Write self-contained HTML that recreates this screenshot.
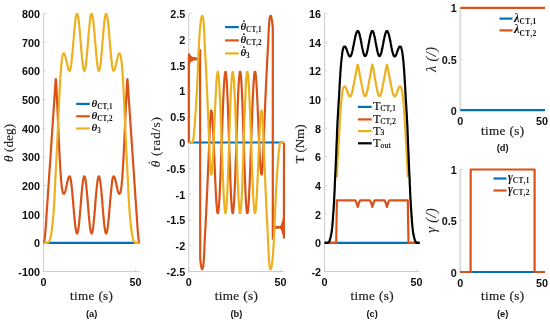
<!DOCTYPE html>
<html lang="en"><head><meta charset="utf-8"><title>Figure</title>
<style>html,body{margin:0;padding:0;background:#fff}svg{display:block}</style></head>
<body>
<svg width="550" height="323" viewBox="0 0 550 323">
<rect width="550" height="323" fill="#fff"/>
<path d="M43.55 13.50V271.50H139.70" fill="none" stroke="#cccccc" stroke-width="1.00"/>
<path d="M43.55 271.50h2.6M43.55 242.83h2.6M43.55 214.17h2.6M43.55 185.50h2.6M43.55 156.83h2.6M43.55 128.17h2.6M43.55 99.50h2.6M43.55 70.83h2.6M43.55 42.17h2.6M43.55 13.50h2.6M43.55 271.50v-2.4M135.60 271.50v-2.4" fill="none" stroke="#cccccc" stroke-width="0.8"/>
<text x="39.95" y="276.00" text-anchor="end" font-family="Liberation Sans, Arial, sans-serif" font-weight="bold" font-size="10.8" fill="#111">-100</text>
<text x="39.95" y="247.33" text-anchor="end" font-family="Liberation Sans, Arial, sans-serif" font-weight="bold" font-size="10.8" fill="#111">0</text>
<text x="39.95" y="218.67" text-anchor="end" font-family="Liberation Sans, Arial, sans-serif" font-weight="bold" font-size="10.8" fill="#111">100</text>
<text x="39.95" y="190.00" text-anchor="end" font-family="Liberation Sans, Arial, sans-serif" font-weight="bold" font-size="10.8" fill="#111">200</text>
<text x="39.95" y="161.33" text-anchor="end" font-family="Liberation Sans, Arial, sans-serif" font-weight="bold" font-size="10.8" fill="#111">300</text>
<text x="39.95" y="132.67" text-anchor="end" font-family="Liberation Sans, Arial, sans-serif" font-weight="bold" font-size="10.8" fill="#111">400</text>
<text x="39.95" y="104.00" text-anchor="end" font-family="Liberation Sans, Arial, sans-serif" font-weight="bold" font-size="10.8" fill="#111">500</text>
<text x="39.95" y="75.33" text-anchor="end" font-family="Liberation Sans, Arial, sans-serif" font-weight="bold" font-size="10.8" fill="#111">600</text>
<text x="39.95" y="46.67" text-anchor="end" font-family="Liberation Sans, Arial, sans-serif" font-weight="bold" font-size="10.8" fill="#111">700</text>
<text x="39.95" y="18.00" text-anchor="end" font-family="Liberation Sans, Arial, sans-serif" font-weight="bold" font-size="10.8" fill="#111">800</text>
<text x="43.55" y="286.40" text-anchor="middle" font-family="Liberation Sans, Arial, sans-serif" font-weight="bold" font-size="10.8" fill="#111">0</text>
<text x="135.60" y="286.40" text-anchor="middle" font-family="Liberation Sans, Arial, sans-serif" font-weight="bold" font-size="10.8" fill="#111">50</text>
<text x="91.62" y="300.30" text-anchor="middle" font-family="Liberation Serif, Times New Roman, serif" font-size="13.2" fill="#222" stroke="#222" stroke-width="0.2" letter-spacing="0.35">time (s)</text>
<text x="91.62" y="316.90" text-anchor="middle" font-family="Liberation Sans, Arial, sans-serif" font-size="9.3" font-weight="bold" fill="#111">(a)</text>
<g transform="translate(13.00 142.90) rotate(-90)"><text text-anchor="middle" font-family="Liberation Serif, Times New Roman, serif" font-size="13.2" fill="#222" stroke="#222" stroke-width="0.12" letter-spacing="0.08"><tspan font-style="italic">θ</tspan> (deg)</text></g>
<polyline fill="none" stroke="#0072BD" stroke-width="2.20" stroke-linejoin="round" stroke-linecap="butt" points="43.5,242.8 139.7,242.8"/>
<polyline fill="none" stroke="#D95319" stroke-width="2.20" stroke-linejoin="round" stroke-linecap="butt" points="43.5,242.8 43.7,242.8 43.8,242.6 44.0,242.3 44.1,241.8 44.2,241.2 44.4,240.5 44.5,239.7 44.7,238.7 44.8,237.7 44.9,236.4 45.1,235.1 45.2,233.6 45.3,232.0 45.5,230.3 45.6,228.5 45.8,226.5 45.9,224.5 46.0,222.4 46.2,220.4 46.3,218.3 46.4,216.3 46.6,214.2 46.7,212.2 46.9,210.2 47.0,208.1 47.1,206.1 47.3,204.0 47.4,202.0 47.6,199.9 47.7,197.9 47.8,195.9 48.0,193.8 48.1,191.8 48.2,189.7 48.4,187.7 48.5,185.6 48.7,183.6 48.8,181.6 48.9,179.5 49.1,177.5 49.2,175.4 49.3,173.4 49.5,171.3 49.6,169.3 49.8,167.3 49.9,165.2 50.0,163.2 50.2,161.1 50.3,159.1 50.5,157.0 50.6,155.0 50.7,153.0 50.9,150.9 51.0,148.9 51.1,146.8 51.3,144.8 51.4,142.8 51.6,140.7 51.7,138.7 51.8,136.6 52.0,134.6 52.1,132.5 52.2,130.5 52.4,128.5 52.5,126.4 52.7,124.4 52.8,122.3 52.9,120.3 53.1,118.2 53.2,116.2 53.4,114.2 53.5,112.1 53.6,110.1 53.8,108.0 53.9,106.0 54.0,103.9 54.2,101.9 54.3,99.9 54.5,97.8 54.6,95.8 54.7,93.7 54.9,91.7 55.0,89.6 55.1,87.6 55.3,85.6 55.4,83.5 55.6,81.5 55.7,79.8 55.8,79.0 56.0,80.2 56.1,82.4 56.3,85.0 56.4,87.6 56.5,90.2 56.7,92.8 56.8,95.6 56.9,98.3 57.1,101.2 57.2,104.0 57.4,106.9 57.5,109.8 57.6,112.8 57.8,115.7 57.9,118.7 58.0,121.7 58.2,124.8 58.3,127.9 58.5,131.1 58.6,134.4 58.7,137.6 58.9,140.8 59.0,143.9 59.2,146.9 59.3,149.7 59.4,152.4 59.6,155.0 59.7,157.7 59.8,160.2 60.0,162.8 60.1,165.2 60.3,167.6 60.4,169.8 60.5,172.0 60.7,174.0 60.8,175.9 60.9,177.6 61.1,179.3 61.2,180.9 61.4,182.5 61.5,183.9 61.6,185.3 61.8,186.6 61.9,187.7 62.1,188.7 62.2,189.5 62.3,190.2 62.5,190.9 62.6,191.5 62.7,192.1 62.9,192.5 63.0,192.9 63.2,193.1 63.3,193.3 63.4,193.5 63.6,193.7 63.7,193.8 63.8,193.8 64.0,193.8 64.1,193.7 64.3,193.5 64.4,193.4 64.5,193.1 64.7,192.9 64.8,192.5 65.0,192.2 65.1,191.8 65.2,191.3 65.4,190.9 65.5,190.3 65.6,189.8 65.8,189.3 65.9,188.7 66.1,188.1 66.2,187.4 66.3,186.8 66.5,186.2 66.6,185.5 66.7,184.9 66.9,184.2 67.0,183.6 67.2,182.9 67.3,182.3 67.4,181.7 67.6,181.1 67.7,180.5 67.9,180.0 68.0,179.4 68.1,179.0 68.3,178.5 68.4,178.1 68.5,177.7 68.7,177.4 68.8,177.1 69.0,176.9 69.1,176.7 69.2,176.5 69.4,176.4 69.5,176.3 69.6,176.3 69.8,176.4 69.9,176.6 70.1,176.9 70.2,177.2 70.3,177.7 70.5,178.2 70.6,178.9 70.8,179.6 70.9,180.4 71.0,181.3 71.2,182.3 71.3,183.4 71.4,184.5 71.6,185.7 71.7,186.9 71.9,188.3 72.0,189.6 72.1,191.1 72.3,192.5 72.4,194.1 72.5,195.6 72.7,197.2 72.8,198.8 73.0,200.4 73.1,202.1 73.2,203.7 73.4,205.4 73.5,207.1 73.7,208.7 73.8,210.3 73.9,212.0 74.1,213.6 74.2,215.1 74.3,216.7 74.5,218.1 74.6,219.6 74.8,221.0 74.9,222.3 75.0,223.6 75.2,224.8 75.3,226.0 75.4,227.1 75.6,228.1 75.7,229.0 75.9,229.8 76.0,230.6 76.1,231.3 76.3,231.8 76.4,232.3 76.5,232.7 76.7,233.0 76.8,233.2 77.0,233.4 77.1,233.4 77.2,233.3 77.4,233.1 77.5,232.8 77.7,232.4 77.8,231.9 77.9,231.4 78.1,230.7 78.2,229.9 78.3,229.1 78.5,228.1 78.6,227.1 78.8,226.0 78.9,224.8 79.0,223.6 79.2,222.3 79.3,220.9 79.4,219.4 79.6,218.0 79.7,216.4 79.9,214.8 80.0,213.2 80.1,211.6 80.3,209.9 80.4,208.2 80.6,206.6 80.7,204.8 80.8,203.1 81.0,201.5 81.1,199.8 81.2,198.1 81.4,196.5 81.5,194.9 81.7,193.3 81.8,191.7 81.9,190.3 82.1,188.8 82.2,187.4 82.3,186.1 82.5,184.9 82.6,183.7 82.8,182.6 82.9,181.6 83.0,180.6 83.2,179.8 83.3,179.0 83.5,178.3 83.6,177.8 83.7,177.3 83.9,176.9 84.0,176.6 84.1,176.4 84.3,176.3 84.4,176.3 84.6,176.5 84.7,176.7 84.8,177.0 85.0,177.4 85.1,177.9 85.2,178.6 85.4,179.3 85.5,180.1 85.7,180.9 85.8,181.9 85.9,183.0 86.1,184.1 86.2,185.3 86.4,186.6 86.5,187.9 86.6,189.3 86.8,190.8 86.9,192.3 87.0,193.8 87.2,195.4 87.3,197.0 87.5,198.7 87.6,200.3 87.7,202.0 87.9,203.7 88.0,205.4 88.1,207.1 88.3,208.8 88.4,210.5 88.6,212.1 88.7,213.8 88.8,215.4 89.0,216.9 89.1,218.5 89.3,219.9 89.4,221.3 89.5,222.7 89.7,224.0 89.8,225.2 89.9,226.4 90.1,227.5 90.2,228.4 90.4,229.4 90.5,230.2 90.6,230.9 90.8,231.6 90.9,232.1 91.0,232.6 91.2,232.9 91.3,233.2 91.5,233.3 91.6,233.4 91.7,233.3 91.9,233.2 92.0,232.9 92.2,232.6 92.3,232.1 92.4,231.6 92.6,230.9 92.7,230.2 92.8,229.4 93.0,228.4 93.1,227.5 93.3,226.4 93.4,225.2 93.5,224.0 93.7,222.7 93.8,221.3 93.9,219.9 94.1,218.5 94.2,216.9 94.4,215.4 94.5,213.8 94.6,212.1 94.8,210.5 94.9,208.8 95.1,207.1 95.2,205.4 95.3,203.7 95.5,202.0 95.6,200.3 95.7,198.7 95.9,197.0 96.0,195.4 96.2,193.8 96.3,192.3 96.4,190.8 96.6,189.3 96.7,187.9 96.8,186.6 97.0,185.3 97.1,184.1 97.3,183.0 97.4,181.9 97.5,180.9 97.7,180.1 97.8,179.3 98.0,178.6 98.1,177.9 98.2,177.4 98.4,177.0 98.5,176.7 98.6,176.5 98.8,176.3 98.9,176.3 99.1,176.4 99.2,176.6 99.3,176.9 99.5,177.3 99.6,177.8 99.7,178.3 99.9,179.0 100.0,179.8 100.2,180.6 100.3,181.6 100.4,182.6 100.6,183.7 100.7,184.9 100.9,186.1 101.0,187.4 101.1,188.8 101.3,190.3 101.4,191.7 101.5,193.3 101.7,194.9 101.8,196.5 102.0,198.1 102.1,199.8 102.2,201.5 102.4,203.1 102.5,204.8 102.6,206.6 102.8,208.2 102.9,209.9 103.1,211.6 103.2,213.2 103.3,214.8 103.5,216.4 103.6,218.0 103.8,219.4 103.9,220.9 104.0,222.3 104.2,223.6 104.3,224.8 104.4,226.0 104.6,227.1 104.7,228.1 104.9,229.1 105.0,229.9 105.1,230.7 105.3,231.4 105.4,231.9 105.5,232.4 105.7,232.8 105.8,233.1 106.0,233.3 106.1,233.4 106.2,233.4 106.4,233.2 106.5,233.0 106.7,232.7 106.8,232.3 106.9,231.8 107.1,231.3 107.2,230.6 107.3,229.8 107.5,229.0 107.6,228.1 107.8,227.1 107.9,226.0 108.0,224.8 108.2,223.6 108.3,222.3 108.4,221.0 108.6,219.6 108.7,218.1 108.9,216.7 109.0,215.1 109.1,213.6 109.3,212.0 109.4,210.3 109.5,208.7 109.7,207.1 109.8,205.4 110.0,203.7 110.1,202.1 110.2,200.4 110.4,198.8 110.5,197.2 110.7,195.6 110.8,194.1 110.9,192.5 111.1,191.1 111.2,189.6 111.3,188.3 111.5,186.9 111.6,185.7 111.8,184.5 111.9,183.4 112.0,182.3 112.2,181.3 112.3,180.4 112.4,179.6 112.6,178.9 112.7,178.2 112.9,177.7 113.0,177.2 113.1,176.9 113.3,176.6 113.4,176.4 113.6,176.3 113.7,176.3 113.8,176.4 114.0,176.5 114.1,176.7 114.2,176.9 114.4,177.1 114.5,177.4 114.7,177.7 114.8,178.1 114.9,178.5 115.1,179.0 115.2,179.4 115.3,180.0 115.5,180.5 115.6,181.1 115.8,181.7 115.9,182.3 116.0,182.9 116.2,183.6 116.3,184.2 116.5,184.9 116.6,185.5 116.7,186.2 116.9,186.8 117.0,187.4 117.1,188.1 117.3,188.7 117.4,189.3 117.6,189.8 117.7,190.3 117.8,190.9 118.0,191.3 118.1,191.8 118.2,192.2 118.4,192.5 118.5,192.9 118.7,193.1 118.8,193.4 118.9,193.5 119.1,193.7 119.2,193.8 119.4,193.8 119.5,193.8 119.6,193.7 119.8,193.5 119.9,193.3 120.0,193.1 120.2,192.9 120.3,192.5 120.5,192.1 120.6,191.5 120.7,190.9 120.9,190.2 121.0,189.5 121.1,188.7 121.3,187.7 121.4,186.6 121.6,185.3 121.7,183.9 121.8,182.5 122.0,180.9 122.1,179.3 122.3,177.6 122.4,175.9 122.5,174.0 122.7,172.0 122.8,169.8 122.9,167.6 123.1,165.2 123.2,162.8 123.4,160.2 123.5,157.7 123.6,155.0 123.8,152.4 123.9,149.7 124.0,146.9 124.2,143.9 124.3,140.8 124.5,137.6 124.6,134.4 124.7,131.1 124.9,127.9 125.0,124.8 125.2,121.7 125.3,118.7 125.4,115.7 125.6,112.8 125.7,109.8 125.8,106.9 126.0,104.0 126.1,101.2 126.3,98.3 126.4,95.6 126.5,92.8 126.7,90.2 126.8,87.6 126.9,85.0 127.1,82.4 127.2,80.2 127.4,79.0 127.5,79.8 127.6,81.5 127.8,83.5 127.9,85.6 128.1,87.6 128.2,89.6 128.3,91.7 128.5,93.7 128.6,95.8 128.7,97.8 128.9,99.9 129.0,101.9 129.2,103.9 129.3,106.0 129.4,108.0 129.6,110.1 129.7,112.1 129.8,114.2 130.0,116.2 130.1,118.2 130.3,120.3 130.4,122.3 130.5,124.4 130.7,126.4 130.8,128.5 131.0,130.5 131.1,132.5 131.2,134.6 131.4,136.6 131.5,138.7 131.6,140.7 131.8,142.8 131.9,144.8 132.1,146.8 132.2,148.9 132.3,150.9 132.5,153.0 132.6,155.0 132.7,157.0 132.9,159.1 133.0,161.1 133.2,163.2 133.3,165.2 133.4,167.3 133.6,169.3 133.7,171.3 133.9,173.4 134.0,175.4 134.1,177.5 134.3,179.5 134.4,181.6 134.5,183.6 134.7,185.6 134.8,187.7 135.0,189.7 135.1,191.8 135.2,193.8 135.4,195.9 135.5,197.9 135.6,199.9 135.8,202.0 135.9,204.0 136.1,206.1 136.2,208.1 136.3,210.2 136.5,212.2 136.6,214.2 136.8,216.3 136.9,218.3 137.0,220.4 137.2,222.4 137.3,224.5 137.4,226.5 137.6,228.5 137.7,230.3 137.9,232.0 138.0,233.6 138.1,235.1 138.3,236.4 138.4,237.7 138.5,238.7 138.7,239.7 138.8,240.5 139.0,241.2 139.1,241.8 139.2,242.3 139.4,242.6 139.5,242.8 139.7,242.8"/>
<polyline fill="none" stroke="#EDB120" stroke-width="2.20" stroke-linejoin="round" stroke-linecap="butt" points="43.5,242.8 43.7,242.8 43.8,242.8 44.0,242.8 44.1,242.8 44.2,242.8 44.4,242.8 44.5,242.8 44.7,242.8 44.8,242.8 44.9,242.8 45.1,242.8 45.2,242.8 45.3,242.8 45.5,242.8 45.6,242.8 45.8,242.8 45.9,242.8 46.0,242.8 46.2,242.8 46.3,242.8 46.4,242.8 46.6,242.8 46.7,242.8 46.9,242.8 47.0,242.8 47.1,242.8 47.3,242.8 47.4,242.8 47.6,242.8 47.7,242.7 47.8,242.7 48.0,242.6 48.1,242.5 48.2,242.4 48.4,242.3 48.5,242.2 48.7,242.1 48.8,242.0 48.9,241.8 49.1,241.7 49.2,241.5 49.3,241.3 49.5,241.0 49.6,240.6 49.8,240.2 49.9,239.8 50.0,239.3 50.2,238.8 50.3,238.3 50.5,237.7 50.6,237.1 50.7,236.5 50.9,235.9 51.0,235.2 51.1,234.5 51.3,233.7 51.4,232.8 51.6,231.8 51.7,230.8 51.8,229.7 52.0,228.5 52.1,227.3 52.2,226.1 52.4,224.8 52.5,223.5 52.7,222.2 52.8,220.9 52.9,219.5 53.1,218.0 53.2,216.5 53.4,214.9 53.5,213.3 53.6,211.6 53.8,209.7 53.9,207.8 54.0,205.9 54.2,203.8 54.3,201.6 54.5,199.3 54.6,196.7 54.7,193.7 54.9,190.6 55.0,187.3 55.1,184.1 55.3,181.0 55.4,178.2 55.6,175.4 55.7,172.7 55.8,170.1 56.0,167.4 56.1,164.8 56.3,162.2 56.4,159.6 56.5,157.0 56.7,154.3 56.8,151.6 56.9,148.8 57.1,146.0 57.2,143.1 57.4,140.2 57.5,137.3 57.6,134.4 57.8,131.4 57.9,128.4 58.0,125.4 58.2,122.4 58.3,119.3 58.5,116.0 58.6,112.8 58.7,109.5 58.9,106.4 59.0,103.3 59.2,100.3 59.3,97.5 59.4,94.8 59.6,92.1 59.7,89.5 59.8,86.9 60.0,84.4 60.1,81.9 60.3,79.6 60.4,77.3 60.5,75.2 60.7,73.1 60.8,71.3 60.9,69.5 61.1,67.9 61.2,66.2 61.4,64.7 61.5,63.2 61.6,61.8 61.8,60.6 61.9,59.5 62.1,58.5 62.2,57.7 62.3,56.9 62.5,56.2 62.6,55.6 62.7,55.1 62.9,54.6 63.0,54.3 63.2,54.0 63.3,53.8 63.4,53.6 63.6,53.5 63.7,53.4 63.8,53.3 64.0,53.4 64.1,53.5 64.3,53.6 64.4,53.8 64.5,54.0 64.7,54.3 64.8,54.6 65.0,55.0 65.1,55.4 65.2,55.8 65.4,56.3 65.5,56.8 65.6,57.3 65.8,57.9 65.9,58.5 66.1,59.1 66.2,59.7 66.3,60.4 66.5,61.0 66.6,61.7 66.7,62.3 66.9,63.0 67.0,63.6 67.2,64.2 67.3,64.9 67.4,65.5 67.6,66.1 67.7,66.6 67.9,67.2 68.0,67.7 68.1,68.2 68.3,68.6 68.4,69.1 68.5,69.4 68.7,69.8 68.8,70.1 69.0,70.3 69.1,70.5 69.2,70.7 69.4,70.8 69.5,70.8 69.6,70.8 69.8,70.7 69.9,70.6 70.1,70.3 70.2,69.9 70.3,69.5 70.5,68.9 70.6,68.3 70.8,67.5 70.9,66.7 71.0,65.8 71.2,64.9 71.3,63.8 71.4,62.7 71.6,61.5 71.7,60.2 71.9,58.9 72.0,57.5 72.1,56.1 72.3,54.6 72.4,53.1 72.5,51.5 72.7,50.0 72.8,48.3 73.0,46.7 73.1,45.1 73.2,43.4 73.4,41.8 73.5,40.1 73.7,38.4 73.8,36.8 73.9,35.2 74.1,33.6 74.2,32.0 74.3,30.5 74.5,29.0 74.6,27.6 74.8,26.2 74.9,24.8 75.0,23.6 75.2,22.3 75.3,21.2 75.4,20.1 75.6,19.1 75.7,18.2 75.9,17.3 76.0,16.6 76.1,15.9 76.3,15.3 76.4,14.8 76.5,14.4 76.7,14.1 76.8,13.9 77.0,13.8 77.1,13.8 77.2,13.9 77.4,14.1 77.5,14.3 77.7,14.7 77.8,15.2 77.9,15.8 78.1,16.5 78.2,17.2 78.3,18.1 78.5,19.0 78.6,20.1 78.8,21.2 78.9,22.3 79.0,23.6 79.2,24.9 79.3,26.3 79.4,27.7 79.6,29.2 79.7,30.7 79.9,32.3 80.0,33.9 80.1,35.6 80.3,37.2 80.4,38.9 80.6,40.6 80.7,42.3 80.8,44.0 81.0,45.7 81.1,47.4 81.2,49.1 81.4,50.7 81.5,52.3 81.7,53.9 81.8,55.4 81.9,56.9 82.1,58.3 82.2,59.7 82.3,61.0 82.5,62.3 82.6,63.5 82.8,64.6 82.9,65.6 83.0,66.5 83.2,67.4 83.3,68.1 83.5,68.8 83.6,69.4 83.7,69.9 83.9,70.3 84.0,70.6 84.1,70.7 84.3,70.8 84.4,70.8 84.6,70.7 84.7,70.5 84.8,70.2 85.0,69.7 85.1,69.2 85.2,68.6 85.4,67.9 85.5,67.1 85.7,66.2 85.8,65.3 85.9,64.2 86.1,63.1 86.2,61.9 86.4,60.6 86.5,59.3 86.6,57.9 86.8,56.4 86.9,54.9 87.0,53.4 87.2,51.8 87.3,50.1 87.5,48.5 87.6,46.8 87.7,45.1 87.9,43.4 88.0,41.7 88.1,40.0 88.3,38.4 88.4,36.7 88.6,35.0 88.7,33.4 88.8,31.8 89.0,30.2 89.1,28.7 89.3,27.2 89.4,25.8 89.5,24.5 89.7,23.2 89.8,21.9 89.9,20.8 90.1,19.7 90.2,18.7 90.4,17.8 90.5,17.0 90.6,16.2 90.8,15.6 90.9,15.0 91.0,14.6 91.2,14.2 91.3,14.0 91.5,13.8 91.6,13.8 91.7,13.8 91.9,14.0 92.0,14.2 92.2,14.6 92.3,15.0 92.4,15.6 92.6,16.2 92.7,17.0 92.8,17.8 93.0,18.7 93.1,19.7 93.3,20.8 93.4,21.9 93.5,23.2 93.7,24.5 93.8,25.8 93.9,27.2 94.1,28.7 94.2,30.2 94.4,31.8 94.5,33.4 94.6,35.0 94.8,36.7 94.9,38.4 95.1,40.0 95.2,41.7 95.3,43.4 95.5,45.1 95.6,46.8 95.7,48.5 95.9,50.1 96.0,51.8 96.2,53.4 96.3,54.9 96.4,56.4 96.6,57.9 96.7,59.3 96.8,60.6 97.0,61.9 97.1,63.1 97.3,64.2 97.4,65.3 97.5,66.2 97.7,67.1 97.8,67.9 98.0,68.6 98.1,69.2 98.2,69.7 98.4,70.2 98.5,70.5 98.6,70.7 98.8,70.8 98.9,70.8 99.1,70.7 99.2,70.6 99.3,70.3 99.5,69.9 99.6,69.4 99.7,68.8 99.9,68.1 100.0,67.4 100.2,66.5 100.3,65.6 100.4,64.6 100.6,63.5 100.7,62.3 100.9,61.0 101.0,59.7 101.1,58.3 101.3,56.9 101.4,55.4 101.5,53.9 101.7,52.3 101.8,50.7 102.0,49.1 102.1,47.4 102.2,45.7 102.4,44.0 102.5,42.3 102.6,40.6 102.8,38.9 102.9,37.2 103.1,35.6 103.2,33.9 103.3,32.3 103.5,30.7 103.6,29.2 103.8,27.7 103.9,26.3 104.0,24.9 104.2,23.6 104.3,22.3 104.4,21.2 104.6,20.1 104.7,19.0 104.9,18.1 105.0,17.2 105.1,16.5 105.3,15.8 105.4,15.2 105.5,14.7 105.7,14.3 105.8,14.1 106.0,13.9 106.1,13.8 106.2,13.8 106.4,13.9 106.5,14.1 106.7,14.4 106.8,14.8 106.9,15.3 107.1,15.9 107.2,16.6 107.3,17.3 107.5,18.2 107.6,19.1 107.8,20.1 107.9,21.2 108.0,22.3 108.2,23.6 108.3,24.8 108.4,26.2 108.6,27.6 108.7,29.0 108.9,30.5 109.0,32.0 109.1,33.6 109.3,35.2 109.4,36.8 109.5,38.4 109.7,40.1 109.8,41.8 110.0,43.4 110.1,45.1 110.2,46.7 110.4,48.3 110.5,50.0 110.7,51.5 110.8,53.1 110.9,54.6 111.1,56.1 111.2,57.5 111.3,58.9 111.5,60.2 111.6,61.5 111.8,62.7 111.9,63.8 112.0,64.9 112.2,65.8 112.3,66.7 112.4,67.5 112.6,68.3 112.7,68.9 112.9,69.5 113.0,69.9 113.1,70.3 113.3,70.6 113.4,70.7 113.6,70.8 113.7,70.8 113.8,70.8 114.0,70.7 114.1,70.5 114.2,70.3 114.4,70.1 114.5,69.8 114.7,69.4 114.8,69.1 114.9,68.6 115.1,68.2 115.2,67.7 115.3,67.2 115.5,66.6 115.6,66.1 115.8,65.5 115.9,64.9 116.0,64.2 116.2,63.6 116.3,63.0 116.5,62.3 116.6,61.7 116.7,61.0 116.9,60.4 117.0,59.7 117.1,59.1 117.3,58.5 117.4,57.9 117.6,57.3 117.7,56.8 117.8,56.3 118.0,55.8 118.1,55.4 118.2,55.0 118.4,54.6 118.5,54.3 118.7,54.0 118.8,53.8 118.9,53.6 119.1,53.5 119.2,53.4 119.4,53.3 119.5,53.4 119.6,53.5 119.8,53.6 119.9,53.8 120.0,54.0 120.2,54.3 120.3,54.6 120.5,55.1 120.6,55.6 120.7,56.2 120.9,56.9 121.0,57.7 121.1,58.5 121.3,59.5 121.4,60.6 121.6,61.8 121.7,63.2 121.8,64.7 122.0,66.2 122.1,67.9 122.3,69.5 122.4,71.3 122.5,73.1 122.7,75.2 122.8,77.3 122.9,79.6 123.1,81.9 123.2,84.4 123.4,86.9 123.5,89.5 123.6,92.1 123.8,94.8 123.9,97.5 124.0,100.3 124.2,103.3 124.3,106.4 124.5,109.5 124.6,112.8 124.7,116.0 124.9,119.3 125.0,122.4 125.2,125.4 125.3,128.4 125.4,131.4 125.6,134.4 125.7,137.3 125.8,140.2 126.0,143.1 126.1,146.0 126.3,148.8 126.4,151.6 126.5,154.3 126.7,157.0 126.8,159.6 126.9,162.2 127.1,164.8 127.2,167.4 127.4,170.1 127.5,172.7 127.6,175.4 127.8,178.2 127.9,181.0 128.1,184.1 128.2,187.3 128.3,190.6 128.5,193.7 128.6,196.7 128.7,199.3 128.9,201.6 129.0,203.8 129.2,205.9 129.3,207.8 129.4,209.7 129.6,211.6 129.7,213.3 129.8,214.9 130.0,216.5 130.1,218.0 130.3,219.5 130.4,220.9 130.5,222.2 130.7,223.5 130.8,224.8 131.0,226.1 131.1,227.3 131.2,228.5 131.4,229.7 131.5,230.8 131.6,231.8 131.8,232.8 131.9,233.7 132.1,234.5 132.2,235.2 132.3,235.9 132.5,236.5 132.6,237.1 132.7,237.7 132.9,238.3 133.0,238.8 133.2,239.3 133.3,239.8 133.4,240.2 133.6,240.6 133.7,241.0 133.9,241.3 134.0,241.5 134.1,241.7 134.3,241.8 134.4,242.0 134.5,242.1 134.7,242.2 134.8,242.3 135.0,242.4 135.1,242.5 135.2,242.6 135.4,242.7 135.5,242.7 135.6,242.8 135.8,242.8 135.9,242.8 136.1,242.8 136.2,242.8 136.3,242.8 136.5,242.8 136.6,242.8 136.8,242.8 136.9,242.8 137.0,242.8 137.2,242.8 137.3,242.8 137.4,242.8 137.6,242.8 137.7,242.8 137.9,242.8 138.0,242.8 138.1,242.8 138.3,242.8 138.4,242.8 138.5,242.8 138.7,242.8 138.8,242.8 139.0,242.8 139.1,242.8 139.2,242.8 139.4,242.8 139.5,242.8 139.7,242.8"/>
<path d="M76.20 103.90H89.80" stroke="#0072BD" stroke-width="2.20" fill="none"/>
<text x="91.50" y="106.80" font-family="Liberation Serif, Times New Roman, serif" font-weight="bold" font-size="11.0" fill="#111" stroke="#111" stroke-width="0.00"><tspan font-style="italic">θ</tspan><tspan dy="2.0" font-size="7.2" font-style="normal" letter-spacing="0.20">CT,1</tspan></text>
<path d="M76.20 116.30H89.80" stroke="#D95319" stroke-width="2.20" fill="none"/>
<text x="91.50" y="119.20" font-family="Liberation Serif, Times New Roman, serif" font-weight="bold" font-size="11.0" fill="#111" stroke="#111" stroke-width="0.00"><tspan font-style="italic">θ</tspan><tspan dy="2.0" font-size="7.2" font-style="normal" letter-spacing="0.20">CT,2</tspan></text>
<path d="M76.20 128.50H89.80" stroke="#EDB120" stroke-width="2.20" fill="none"/>
<text x="91.50" y="131.40" font-family="Liberation Serif, Times New Roman, serif" font-weight="bold" font-size="11.0" fill="#111" stroke="#111" stroke-width="0.00"><tspan font-style="italic">θ</tspan><tspan dy="2.0" font-size="7.2" font-style="normal" letter-spacing="0.20">3</tspan></text>
<path d="M188.80 13.50V271.50H284.00" fill="none" stroke="#cccccc" stroke-width="1.00"/>
<path d="M188.80 271.50h2.6M188.80 245.70h2.6M188.80 219.90h2.6M188.80 194.10h2.6M188.80 168.30h2.6M188.80 142.50h2.6M188.80 116.70h2.6M188.80 90.90h2.6M188.80 65.10h2.6M188.80 39.30h2.6M188.80 13.50h2.6M188.80 271.50v-2.4M280.60 271.50v-2.4" fill="none" stroke="#cccccc" stroke-width="0.8"/>
<text x="185.20" y="276.00" text-anchor="end" font-family="Liberation Sans, Arial, sans-serif" font-weight="bold" font-size="10.8" fill="#111">-2.5</text>
<text x="185.20" y="250.20" text-anchor="end" font-family="Liberation Sans, Arial, sans-serif" font-weight="bold" font-size="10.8" fill="#111">-2</text>
<text x="185.20" y="224.40" text-anchor="end" font-family="Liberation Sans, Arial, sans-serif" font-weight="bold" font-size="10.8" fill="#111">-1.5</text>
<text x="185.20" y="198.60" text-anchor="end" font-family="Liberation Sans, Arial, sans-serif" font-weight="bold" font-size="10.8" fill="#111">-1</text>
<text x="185.20" y="172.80" text-anchor="end" font-family="Liberation Sans, Arial, sans-serif" font-weight="bold" font-size="10.8" fill="#111">-0.5</text>
<text x="185.20" y="147.00" text-anchor="end" font-family="Liberation Sans, Arial, sans-serif" font-weight="bold" font-size="10.8" fill="#111">0</text>
<text x="185.20" y="121.20" text-anchor="end" font-family="Liberation Sans, Arial, sans-serif" font-weight="bold" font-size="10.8" fill="#111">0.5</text>
<text x="185.20" y="95.40" text-anchor="end" font-family="Liberation Sans, Arial, sans-serif" font-weight="bold" font-size="10.8" fill="#111">1</text>
<text x="185.20" y="69.60" text-anchor="end" font-family="Liberation Sans, Arial, sans-serif" font-weight="bold" font-size="10.8" fill="#111">1.5</text>
<text x="185.20" y="43.80" text-anchor="end" font-family="Liberation Sans, Arial, sans-serif" font-weight="bold" font-size="10.8" fill="#111">2</text>
<text x="185.20" y="18.00" text-anchor="end" font-family="Liberation Sans, Arial, sans-serif" font-weight="bold" font-size="10.8" fill="#111">2.5</text>
<text x="188.80" y="286.40" text-anchor="middle" font-family="Liberation Sans, Arial, sans-serif" font-weight="bold" font-size="10.8" fill="#111">0</text>
<text x="280.60" y="286.40" text-anchor="middle" font-family="Liberation Sans, Arial, sans-serif" font-weight="bold" font-size="10.8" fill="#111">50</text>
<text x="236.40" y="300.30" text-anchor="middle" font-family="Liberation Serif, Times New Roman, serif" font-size="13.2" fill="#222" stroke="#222" stroke-width="0.2" letter-spacing="0.35">time (s)</text>
<text x="236.40" y="316.90" text-anchor="middle" font-family="Liberation Sans, Arial, sans-serif" font-size="9.3" font-weight="bold" fill="#111">(b)</text>
<g transform="translate(160.00 141.80) rotate(-90)"><text text-anchor="middle" font-family="Liberation Serif, Times New Roman, serif" font-size="13.5" fill="#222" stroke="#222" stroke-width="0.12" letter-spacing="0.62"><tspan font-style="italic">θ</tspan> (rad/s)</text><text x="-22.6" y="-10.3" font-family="Liberation Serif, Times New Roman, serif" font-size="13.5" fill="#222">.</text></g>
<polyline fill="none" stroke="#0072BD" stroke-width="2.20" stroke-linejoin="round" stroke-linecap="butt" points="188.8,142.5 284.0,142.5"/>
<polyline fill="none" stroke="#D95319" stroke-width="2.20" stroke-linejoin="round" stroke-linecap="butt" points="188.8,142.5 188.8,57.6 188.9,63.2 188.9,62.3 189.0,56.5 189.0,54.4 189.1,58.9 189.1,63.2 189.2,61.1 189.2,55.9 189.3,55.3 189.3,60.0 189.4,62.9 189.4,59.9 189.4,55.6 189.5,56.2 189.5,60.8 189.6,62.4 189.6,58.9 189.7,55.6 189.7,57.2 189.8,61.3 189.8,61.7 189.9,58.1 189.9,55.8 189.9,58.1 190.0,61.5 190.0,61.0 190.1,57.5 190.1,56.2 190.2,58.9 190.2,61.5 190.3,60.2 190.3,57.1 190.4,56.7 190.4,59.6 190.5,61.3 190.5,59.5 190.5,56.9 190.6,57.3 190.6,60.0 190.7,61.0 190.7,58.9 190.8,56.9 190.8,57.9 190.9,60.3 190.9,60.6 191.0,58.4 191.0,57.0 191.0,58.4 191.1,60.5 191.1,60.2 191.2,58.0 191.2,57.3 191.3,58.9 191.3,60.5 191.4,59.7 191.4,57.8 191.5,57.6 191.5,59.3 191.6,60.4 191.6,59.3 191.6,57.7 191.7,57.9 191.7,59.6 191.8,60.2 191.8,58.9 191.9,57.7 191.9,58.3 192.0,59.8 192.0,59.9 192.1,58.6 192.1,57.8 192.2,58.6 192.2,59.9 192.2,59.7 192.3,58.4 192.3,57.9 192.4,58.9 192.4,59.9 192.5,59.4 192.5,58.2 192.6,58.1 192.6,59.1 192.7,59.8 192.7,59.1 192.7,58.2 192.8,58.3 192.8,59.3 192.9,59.7 192.9,58.9 193.0,58.2 193.0,58.5 193.1,59.4 193.1,59.5 193.2,58.7 193.2,58.2 193.3,58.7 193.3,59.5 193.3,59.4 193.4,58.6 193.4,58.3 193.5,58.9 193.5,59.5 193.6,59.2 193.6,58.5 193.7,58.4 193.7,59.1 193.8,59.5 193.8,59.0 193.8,58.5 193.9,58.5 193.9,59.2 194.0,59.4 194.0,58.9 194.1,58.5 194.1,58.7 194.2,59.2 194.2,59.3 194.3,58.8 194.3,58.5 194.4,58.8 194.4,59.3 194.4,59.2 194.5,58.7 194.5,58.5 194.6,58.9 194.6,59.3 194.7,59.1 194.7,58.7 194.8,58.6 194.8,59.0 194.9,59.2 194.9,59.0 195.0,58.6 195.0,58.7 195.0,59.1 195.1,59.2 195.1,58.9 195.2,58.6 195.2,58.8 195.3,59.1 195.3,59.1 195.4,58.8 195.4,58.7 195.5,58.8 195.5,59.1 195.5,59.1 195.6,58.8 195.6,58.7 195.7,58.9 195.7,59.1 195.8,59.0 195.8,58.8 195.9,58.7 195.9,59.0 196.0,59.1 196.0,59.0 196.1,58.7 196.1,58.8 196.1,59.0 196.2,59.1 196.2,58.9 196.3,58.7 196.3,58.8 196.4,59.0 196.4,59.0 196.5,58.9 196.5,58.8 196.6,58.9 196.6,59.0 196.6,59.0 196.7,58.8 196.7,58.8 196.8,58.9 196.8,59.0 196.9,59.0 196.9,58.8 197.0,58.8 197.0,58.9 197.1,59.0 197.1,58.9 197.2,58.8 197.2,58.8 197.2,59.0 197.3,59.0 197.3,58.9 197.4,58.8 197.4,58.9 197.5,59.0 197.5,59.0 197.6,58.9 197.6,58.8 197.7,58.9 197.7,59.0 197.8,59.0 197.8,58.9 197.8,58.8 197.9,58.9 197.9,59.0 198.0,58.9 198.0,58.9 198.1,58.8 198.1,58.9 198.2,59.0 198.2,58.9 198.3,58.8 198.3,58.9 198.3,58.9 198.4,59.0 198.4,58.9 198.5,58.8 198.5,58.9 198.6,59.0 198.6,59.0 198.7,58.9 198.7,58.9 198.8,58.9 198.8,59.0 198.9,58.9 198.9,58.9 198.9,58.9 199.0,58.9 199.0,59.0 199.1,58.9 199.1,58.9 199.2,58.9 199.2,58.9 199.3,59.0 199.3,58.9 199.4,58.9 199.4,58.9 199.4,58.9 199.5,58.9 199.5,58.9 199.6,58.9 199.6,58.9 199.7,58.8 199.7,58.6 199.8,58.3 199.8,57.8 199.9,57.1 199.9,56.3 200.0,55.4 200.0,54.3 200.0,53.1 200.1,51.7 200.1,50.2 200.2,258.6 200.2,259.1 200.3,259.5 200.3,259.9 200.4,260.4 200.4,260.8 200.5,261.2 200.5,261.6 200.6,262.0 200.6,262.4 200.6,262.8 200.7,263.2 200.7,263.6 200.8,263.9 200.8,264.3 200.9,264.6 200.9,264.9 201.0,265.2 201.0,265.5 201.1,265.8 201.1,266.0 201.1,266.3 201.2,266.5 201.2,266.7 201.3,266.9 201.3,267.0 201.4,267.2 201.4,267.4 201.5,267.5 201.5,267.7 201.6,267.9 201.6,268.0 201.7,268.2 201.7,268.3 201.7,268.4 201.8,268.6 201.8,268.7 201.9,268.8 201.9,268.9 202.0,269.0 202.0,269.0 202.1,269.1 202.1,269.1 202.2,269.2 202.2,269.2 202.2,269.2 202.3,269.1 202.3,269.1 202.4,269.1 202.4,269.0 202.5,268.9 202.5,268.8 202.6,268.7 202.6,268.6 202.7,268.5 202.7,268.4 202.8,268.2 202.8,268.1 202.8,267.9 202.9,267.8 202.9,267.6 203.0,267.4 203.0,267.2 203.1,267.0 203.1,266.9 203.2,266.6 203.2,266.4 203.3,266.1 203.3,265.7 203.4,265.3 203.4,264.9 203.4,264.4 203.5,263.9 203.5,263.3 203.6,262.8 203.6,262.2 203.7,261.5 203.7,260.9 203.8,260.2 203.8,259.6 203.9,258.9 203.9,258.2 203.9,257.5 204.0,256.7 204.0,256.0 204.1,255.3 204.1,254.4 204.2,253.5 204.2,252.5 204.3,251.5 204.3,250.4 204.4,249.3 204.4,248.2 204.5,247.1 204.5,245.9 204.5,244.8 204.6,243.7 204.6,242.6 204.7,241.5 204.7,240.5 204.8,239.5 204.8,238.6 204.9,237.7 204.9,236.8 205.0,235.9 205.0,235.0 205.0,234.2 205.1,233.3 205.1,232.5 205.2,231.7 205.2,230.9 205.3,230.0 205.3,229.2 205.4,228.4 205.4,227.5 205.5,226.7 205.5,225.8 205.6,224.9 205.6,224.0 205.6,223.1 205.7,222.2 205.7,221.3 205.8,220.4 205.8,219.5 205.9,218.6 205.9,217.6 206.0,216.7 206.0,215.8 206.1,214.9 206.1,213.9 206.2,213.0 206.2,212.0 206.2,211.1 206.3,210.2 206.3,209.2 206.4,208.2 206.4,207.3 206.5,206.3 206.5,205.4 206.6,204.4 206.6,203.4 206.7,202.4 206.7,201.5 206.7,200.5 206.8,199.5 206.8,198.5 206.9,197.5 206.9,196.5 207.0,195.5 207.0,194.5 207.1,193.5 207.1,192.5 207.2,191.5 207.2,190.5 207.3,189.5 207.3,188.5 207.3,187.4 207.4,186.4 207.4,185.3 207.5,184.3 207.5,183.2 207.6,182.2 207.6,181.1 207.7,180.1 207.7,179.0 207.8,177.9 207.8,176.9 207.8,175.8 207.9,174.7 207.9,173.6 208.0,172.5 208.0,171.4 208.1,170.3 208.1,169.3 208.2,168.2 208.2,167.1 208.3,166.0 208.3,164.9 208.4,163.8 208.4,162.7 208.4,161.6 208.5,160.5 208.5,159.4 208.6,158.3 208.6,157.2 208.7,156.1 208.7,155.0 208.8,153.9 208.8,152.8 208.9,151.7 208.9,150.6 209.0,149.4 209.0,148.2 209.0,147.0 209.1,145.8 209.1,144.5 209.2,143.3 209.2,142.0 209.3,140.8 209.3,139.5 209.4,138.3 209.4,137.0 209.5,135.8 209.5,134.6 209.5,133.4 209.6,132.2 209.6,131.1 209.7,130.0 209.7,128.9 209.8,127.8 209.8,126.8 209.9,125.9 209.9,125.0 210.0,124.1 210.0,123.3 210.1,122.5 210.1,121.9 210.1,121.2 210.2,120.5 210.2,119.9 210.3,119.2 210.3,118.5 210.4,117.9 210.4,117.2 210.5,116.6 210.5,116.0 210.6,115.4 210.6,114.8 210.6,114.2 210.7,113.7 210.7,113.2 210.8,112.7 210.8,112.3 210.9,111.9 210.9,111.5 211.0,111.2 211.0,111.0 211.1,110.8 211.1,110.6 211.2,110.5 211.2,110.5 211.2,110.5 211.3,110.6 211.3,110.6 211.4,110.7 211.4,110.8 211.5,110.9 211.5,111.1 211.6,111.3 211.6,111.5 211.7,111.7 211.7,112.0 211.8,112.3 211.8,112.6 211.8,112.9 211.9,113.2 211.9,113.6 212.0,114.0 212.0,114.4 212.1,114.9 212.1,115.3 212.2,115.8 212.2,116.3 212.3,116.8 212.3,117.4 212.3,118.0 212.4,118.5 212.4,119.2 212.5,119.8 212.5,120.4 212.6,121.1 212.6,121.8 212.7,122.5 212.7,123.2 212.8,124.0 212.8,124.8 212.9,125.5 212.9,126.3 212.9,127.2 213.0,128.0 213.0,128.8 213.1,129.7 213.1,130.6 213.2,131.5 213.2,132.4 213.3,133.3 213.3,134.3 213.4,135.2 213.4,136.2 213.4,137.2 213.5,138.1 213.5,139.1 213.6,140.2 213.6,141.2 213.7,142.2 213.7,143.2 213.8,144.3 213.8,145.3 213.9,146.4 213.9,147.5 214.0,148.6 214.0,149.6 214.0,150.7 214.1,151.8 214.1,152.9 214.2,154.0 214.2,155.1 214.3,156.3 214.3,157.4 214.4,158.5 214.4,159.6 214.5,160.7 214.5,161.8 214.5,163.0 214.6,164.1 214.6,165.2 214.7,166.3 214.7,167.4 214.8,168.6 214.8,169.7 214.9,170.8 214.9,171.9 215.0,173.0 215.0,174.1 215.1,175.1 215.1,176.2 215.1,177.3 215.2,178.4 215.2,179.4 215.3,180.5 215.3,181.5 215.4,182.5 215.4,183.5 215.5,184.6 215.5,185.6 215.6,186.5 215.6,187.5 215.7,188.5 215.7,189.4 215.7,190.4 215.8,191.3 215.8,192.2 215.9,193.1 215.9,194.0 216.0,194.9 216.0,195.7 216.1,196.5 216.1,197.4 216.2,198.2 216.2,198.9 216.2,199.7 216.3,200.5 216.3,201.2 216.4,201.9 216.4,202.6 216.5,203.3 216.5,203.9 216.6,204.5 216.6,205.2 216.7,205.7 216.7,206.3 216.8,206.9 216.8,207.4 216.8,207.9 216.9,208.4 216.9,208.8 217.0,209.3 217.0,209.7 217.1,210.1 217.1,210.5 217.2,210.8 217.2,211.1 217.3,211.4 217.3,211.7 217.3,212.0 217.4,212.2 217.4,212.4 217.5,212.6 217.5,212.8 217.6,212.9 217.6,213.0 217.7,213.1 217.7,213.1 217.8,213.2 217.8,213.2 217.9,213.2 217.9,213.1 217.9,213.1 218.0,213.0 218.0,212.9 218.1,212.7 218.1,212.6 218.2,212.4 218.2,212.2 218.3,212.0 218.3,211.7 218.4,211.4 218.4,211.1 218.5,210.8 218.5,210.4 218.5,210.1 218.6,209.6 218.6,209.2 218.7,208.8 218.7,208.3 218.8,207.8 218.8,207.3 218.9,206.8 218.9,206.2 219.0,205.6 219.0,205.0 219.0,204.4 219.1,203.7 219.1,203.0 219.2,202.4 219.2,201.6 219.3,200.9 219.3,200.2 219.4,199.4 219.4,198.6 219.5,197.8 219.5,196.9 219.6,196.1 219.6,195.2 219.6,194.3 219.7,193.4 219.7,192.5 219.8,191.5 219.8,190.6 219.9,189.6 219.9,188.6 220.0,187.6 220.0,186.6 220.1,185.5 220.1,184.5 220.1,183.4 220.2,182.3 220.2,181.2 220.3,180.1 220.3,179.0 220.4,177.8 220.4,176.7 220.5,175.5 220.5,174.4 220.6,173.2 220.6,172.0 220.7,170.8 220.7,169.6 220.7,168.3 220.8,167.1 220.8,165.8 220.9,164.6 220.9,163.3 221.0,162.1 221.0,160.8 221.1,159.5 221.1,158.2 221.2,156.9 221.2,155.6 221.3,154.3 221.3,153.0 221.3,151.7 221.4,150.4 221.4,149.1 221.5,147.8 221.5,146.5 221.6,145.1 221.6,143.8 221.7,142.5 221.7,141.2 221.8,139.9 221.8,138.5 221.8,137.2 221.9,135.9 221.9,134.6 222.0,133.3 222.0,132.0 222.1,130.7 222.1,129.4 222.2,128.1 222.2,126.8 222.3,125.5 222.3,124.2 222.4,122.9 222.4,121.7 222.4,120.4 222.5,119.2 222.5,117.9 222.6,116.7 222.6,115.4 222.7,114.2 222.7,113.0 222.8,111.8 222.8,110.6 222.9,109.5 222.9,108.3 222.9,107.2 223.0,106.0 223.0,104.9 223.1,103.8 223.1,102.7 223.2,101.6 223.2,100.5 223.3,99.5 223.3,98.4 223.4,97.4 223.4,96.4 223.5,95.4 223.5,94.4 223.5,93.5 223.6,92.5 223.6,91.6 223.7,90.7 223.7,89.8 223.8,88.9 223.8,88.1 223.9,87.2 223.9,86.4 224.0,85.6 224.0,84.8 224.1,84.1 224.1,83.4 224.1,82.6 224.2,82.0 224.2,81.3 224.3,80.6 224.3,80.0 224.4,79.4 224.4,78.8 224.5,78.2 224.5,77.7 224.6,77.2 224.6,76.7 224.6,76.2 224.7,75.8 224.7,75.4 224.8,74.9 224.8,74.6 224.9,74.2 224.9,73.9 225.0,73.6 225.0,73.3 225.1,73.0 225.1,72.8 225.2,72.6 225.2,72.4 225.2,72.3 225.3,72.1 225.3,72.0 225.4,71.9 225.4,71.9 225.5,71.8 225.5,71.8 225.6,71.8 225.6,71.9 225.7,71.9 225.7,72.0 225.7,72.2 225.8,72.3 225.8,72.5 225.9,72.7 225.9,73.0 226.0,73.2 226.0,73.5 226.1,73.9 226.1,74.2 226.2,74.6 226.2,75.0 226.3,75.4 226.3,75.9 226.3,76.4 226.4,76.9 226.4,77.5 226.5,78.0 226.5,78.6 226.6,79.3 226.6,79.9 226.7,80.6 226.7,81.3 226.8,82.0 226.8,82.8 226.9,83.5 226.9,84.3 226.9,85.1 227.0,86.0 227.0,86.9 227.1,87.7 227.1,88.7 227.2,89.6 227.2,90.5 227.3,91.5 227.3,92.5 227.4,93.5 227.4,94.6 227.4,95.6 227.5,96.7 227.5,97.8 227.6,98.9 227.6,100.0 227.7,101.2 227.7,102.3 227.8,103.5 227.8,104.7 227.9,105.9 227.9,107.2 228.0,108.4 228.0,109.6 228.0,110.9 228.1,112.2 228.1,113.5 228.2,114.8 228.2,116.1 228.3,117.4 228.3,118.8 228.4,120.1 228.4,121.5 228.5,122.8 228.5,124.2 228.5,125.6 228.6,127.0 228.6,128.4 228.7,129.8 228.7,131.2 228.8,132.6 228.8,134.0 228.9,135.4 228.9,136.8 229.0,138.2 229.0,139.7 229.1,141.1 229.1,142.5 229.1,143.9 229.2,145.3 229.2,146.8 229.3,148.2 229.3,149.6 229.4,151.0 229.4,152.4 229.5,153.8 229.5,155.2 229.6,156.6 229.6,158.0 229.7,159.4 229.7,160.8 229.7,162.2 229.8,163.5 229.8,164.9 229.9,166.2 229.9,167.6 230.0,168.9 230.0,170.2 230.1,171.5 230.1,172.8 230.2,174.1 230.2,175.4 230.2,176.6 230.3,177.8 230.3,179.1 230.4,180.3 230.4,181.5 230.5,182.7 230.5,183.8 230.6,185.0 230.6,186.1 230.7,187.2 230.7,188.3 230.8,189.4 230.8,190.4 230.8,191.5 230.9,192.5 230.9,193.5 231.0,194.5 231.0,195.4 231.1,196.3 231.1,197.3 231.2,198.1 231.2,199.0 231.3,199.9 231.3,200.7 231.3,201.5 231.4,202.2 231.4,203.0 231.5,203.7 231.5,204.4 231.6,205.1 231.6,205.7 231.7,206.4 231.7,207.0 231.8,207.5 231.8,208.1 231.9,208.6 231.9,209.1 231.9,209.6 232.0,210.0 232.0,210.4 232.1,210.8 232.1,211.1 232.2,211.5 232.2,211.8 232.3,212.0 232.3,212.3 232.4,212.5 232.4,212.7 232.5,212.8 232.5,213.0 232.5,213.1 232.6,213.1 232.6,213.2 232.7,213.2 232.7,213.2 232.8,213.1 232.8,213.1 232.9,213.0 232.9,212.9 233.0,212.7 233.0,212.6 233.0,212.4 233.1,212.1 233.1,211.9 233.2,211.6 233.2,211.3 233.3,211.0 233.3,210.7 233.4,210.3 233.4,209.9 233.5,209.5 233.5,209.0 233.6,208.6 233.6,208.1 233.6,207.5 233.7,207.0 233.7,206.4 233.8,205.9 233.8,205.2 233.9,204.6 233.9,203.9 234.0,203.3 234.0,202.6 234.1,201.8 234.1,201.1 234.1,200.3 234.2,199.5 234.2,198.7 234.3,197.9 234.3,197.0 234.4,196.2 234.4,195.3 234.5,194.4 234.5,193.4 234.6,192.5 234.6,191.5 234.7,190.5 234.7,189.5 234.7,188.5 234.8,187.5 234.8,186.4 234.9,185.4 234.9,184.3 235.0,183.2 235.0,182.1 235.1,180.9 235.1,179.8 235.2,178.6 235.2,177.5 235.3,176.3 235.3,175.1 235.3,173.9 235.4,172.6 235.4,171.4 235.5,170.2 235.5,168.9 235.6,167.7 235.6,166.4 235.7,165.1 235.7,163.8 235.8,162.5 235.8,161.2 235.8,159.9 235.9,158.6 235.9,157.3 236.0,156.0 236.0,154.6 236.1,153.3 236.1,152.0 236.2,150.6 236.2,149.3 236.3,147.9 236.3,146.6 236.4,145.2 236.4,143.9 236.4,140.3 236.5,139.0 236.5,137.6 236.6,136.3 236.6,134.9 236.7,133.6 236.7,132.2 236.8,130.9 236.8,129.6 236.9,128.2 236.9,126.9 236.9,125.6 237.0,124.3 237.0,123.0 237.1,121.7 237.1,120.4 237.2,119.1 237.2,117.8 237.3,116.6 237.3,115.3 237.4,114.1 237.4,112.8 237.5,111.6 237.5,110.4 237.5,109.2 237.6,108.0 237.6,106.8 237.7,105.7 237.7,104.5 237.8,103.4 237.8,102.3 237.9,101.2 237.9,100.1 238.0,99.0 238.0,97.9 238.1,96.9 238.1,95.9 238.1,94.9 238.2,93.9 238.2,92.9 238.3,91.9 238.3,91.0 238.4,90.1 238.4,89.2 238.5,88.3 238.5,87.4 238.6,86.6 238.6,85.8 238.6,85.0 238.7,84.2 238.7,83.5 238.8,82.7 238.8,82.0 238.9,81.3 238.9,80.7 239.0,80.0 239.0,79.4 239.1,78.8 239.1,78.2 239.2,77.7 239.2,77.1 239.2,76.6 239.3,76.2 239.3,75.7 239.4,75.3 239.4,74.9 239.5,74.5 239.5,74.1 239.6,73.8 239.6,73.5 239.7,73.2 239.7,73.0 239.7,72.7 239.8,72.5 239.8,72.3 239.9,72.2 239.9,72.1 240.0,72.0 240.0,71.9 240.1,71.8 240.1,71.8 240.2,71.8 240.2,71.8 240.3,71.9 240.3,72.0 240.3,72.1 240.4,72.3 240.4,72.4 240.5,72.6 240.5,72.9 240.6,73.1 240.6,73.4 240.7,73.7 240.7,74.1 240.8,74.4 240.8,74.8 240.9,75.3 240.9,75.7 240.9,76.2 241.0,76.7 241.0,77.2 241.1,77.8 241.1,78.4 241.2,79.0 241.2,79.6 241.3,80.3 241.3,81.0 241.4,81.7 241.4,82.4 241.4,83.2 241.5,84.0 241.5,84.8 241.6,85.6 241.6,86.5 241.7,87.4 241.7,88.3 241.8,89.2 241.8,90.2 241.9,91.1 241.9,92.1 242.0,93.1 242.0,94.1 242.0,95.2 242.1,96.3 242.1,97.4 242.2,98.5 242.2,99.6 242.3,100.7 242.3,101.9 242.4,103.0 242.4,104.2 242.5,105.4 242.5,106.7 242.5,107.9 242.6,109.1 242.6,110.4 242.7,111.7 242.7,113.0 242.8,114.3 242.8,115.6 242.9,116.9 242.9,118.2 243.0,119.6 243.0,120.9 243.1,122.3 243.1,123.7 243.1,125.0 243.2,126.4 243.2,127.8 243.3,129.2 243.3,130.6 243.4,132.0 243.4,133.4 243.5,134.8 243.5,136.2 243.6,137.7 243.6,139.1 243.7,140.5 243.7,141.9 243.7,143.4 243.8,144.8 243.8,146.2 243.9,147.6 243.9,149.0 244.0,150.5 244.0,151.9 244.1,153.3 244.1,154.7 244.2,156.1 244.2,157.5 244.2,158.9 244.3,160.2 244.3,161.6 244.4,163.0 244.4,164.3 244.5,165.7 244.5,167.0 244.6,168.4 244.6,169.7 244.7,171.0 244.7,172.3 244.8,173.6 244.8,174.8 244.8,176.1 244.9,177.4 244.9,178.6 245.0,179.8 245.0,181.0 245.1,182.2 245.1,183.4 245.2,184.5 245.2,185.6 245.3,186.8 245.3,187.9 245.3,188.9 245.4,190.0 245.4,191.1 245.5,192.1 245.5,193.1 245.6,194.1 245.6,195.0 245.7,196.0 245.7,196.9 245.8,197.8 245.8,198.7 245.9,199.5 245.9,200.4 245.9,201.2 246.0,201.9 246.0,202.7 246.1,203.4 246.1,204.1 246.2,204.8 246.2,205.5 246.3,206.1 246.3,206.7 246.4,207.3 246.4,207.9 246.5,208.4 246.5,208.9 246.5,209.4 246.6,209.8 246.6,210.2 246.7,210.6 246.7,211.0 246.8,211.3 246.8,211.6 246.9,211.9 246.9,212.2 247.0,212.4 247.0,212.6 247.0,212.8 247.1,212.9 247.1,213.0 247.2,213.1 247.2,213.2 247.3,213.2 247.3,213.2 247.4,213.2 247.4,213.1 247.5,213.0 247.5,212.9 247.6,212.8 247.6,212.7 247.6,212.5 247.7,212.3 247.7,212.1 247.8,211.8 247.8,211.5 247.9,211.2 247.9,210.9 248.0,210.6 248.0,210.2 248.1,209.8 248.1,209.4 248.1,209.0 248.2,208.5 248.2,208.0 248.3,207.5 248.3,207.0 248.4,206.4 248.4,205.8 248.5,205.2 248.5,204.6 248.6,204.0 248.6,203.3 248.7,202.6 248.7,201.9 248.7,201.2 248.8,200.5 248.8,199.7 248.9,198.9 248.9,198.1 249.0,197.3 249.0,196.4 249.1,195.6 249.1,194.7 249.2,193.8 249.2,192.9 249.3,191.9 249.3,191.0 249.3,190.0 249.4,189.0 249.4,188.0 249.5,187.0 249.5,186.0 249.6,184.9 249.6,183.8 249.7,182.8 249.7,181.7 249.8,180.6 249.8,179.4 249.8,178.3 249.9,177.2 249.9,176.0 250.0,174.8 250.0,173.6 250.1,172.5 250.1,171.3 250.2,170.0 250.2,168.8 250.3,167.6 250.3,166.3 250.4,165.1 250.4,163.8 250.4,162.6 250.5,161.3 250.5,160.0 250.6,158.7 250.6,157.5 250.7,156.2 250.7,154.9 250.8,153.6 250.8,152.3 250.9,150.9 250.9,149.6 250.9,148.3 251.0,147.0 251.0,145.7 251.1,144.4 251.1,143.0 251.2,141.7 251.2,140.4 251.3,139.1 251.3,137.7 251.4,136.4 251.4,135.1 251.5,133.8 251.5,132.5 251.5,131.2 251.6,129.9 251.6,128.6 251.7,127.3 251.7,126.0 251.8,124.7 251.8,123.4 251.9,122.2 251.9,120.9 252.0,119.7 252.0,118.4 252.1,117.2 252.1,115.9 252.1,114.7 252.2,113.5 252.2,112.3 252.3,111.1 252.3,109.9 252.4,108.8 252.4,107.6 252.5,106.5 252.5,105.3 252.6,104.2 252.6,103.1 252.6,102.0 252.7,100.9 252.7,99.9 252.8,98.8 252.8,97.8 252.9,96.8 252.9,95.8 253.0,94.8 253.0,93.8 253.1,92.9 253.1,92.0 253.2,91.0 253.2,90.1 253.2,89.3 253.3,88.4 253.3,87.6 253.4,86.7 253.4,85.9 253.5,85.2 253.5,84.4 253.6,83.6 253.6,82.9 253.7,82.2 253.7,81.5 253.7,80.9 253.8,80.2 253.8,79.6 253.9,79.0 253.9,78.5 254.0,77.9 254.0,77.4 254.1,76.9 254.1,76.4 254.2,76.0 254.2,75.5 254.3,75.1 254.3,74.7 254.3,74.4 254.4,74.0 254.4,73.7 254.5,73.4 254.5,73.1 254.6,72.9 254.6,72.7 254.7,72.5 254.7,72.3 254.8,72.2 254.8,72.0 254.9,72.0 254.9,71.9 254.9,71.8 255.0,71.8 255.0,71.8 255.1,71.8 255.1,71.9 255.2,72.0 255.2,72.1 255.3,72.2 255.3,72.3 255.4,72.5 255.4,72.7 255.4,72.9 255.5,73.2 255.5,73.4 255.6,73.7 255.6,74.1 255.7,74.4 255.7,74.8 255.8,75.1 255.8,75.5 255.9,76.0 255.9,76.4 256.0,76.9 256.0,77.4 256.0,77.9 256.1,78.5 256.1,79.0 256.2,79.6 256.2,80.2 256.3,80.8 256.3,81.5 256.4,82.1 256.4,82.8 256.5,83.5 256.5,84.3 256.5,85.0 256.6,85.8 256.6,86.5 256.7,87.3 256.7,88.1 256.8,89.0 256.8,89.8 256.9,90.7 256.9,91.5 257.0,92.4 257.0,93.3 257.1,94.3 257.1,95.2 257.1,96.1 257.2,97.1 257.2,98.1 257.3,99.0 257.3,100.0 257.4,101.0 257.4,102.1 257.5,103.1 257.5,104.1 257.6,105.2 257.6,106.2 257.7,107.3 257.7,108.4 257.7,109.4 257.8,110.5 257.8,111.6 257.9,112.7 257.9,113.8 258.0,114.9 258.0,116.0 258.1,117.1 258.1,118.2 258.2,119.3 258.2,120.5 258.2,121.6 258.3,122.7 258.3,123.8 258.4,124.9 258.4,126.1 258.5,127.2 258.5,128.3 258.6,129.4 258.6,130.5 258.7,131.6 258.7,132.7 258.8,133.8 258.8,134.9 258.8,136.0 258.9,137.1 258.9,138.2 259.0,139.2 259.0,140.3 259.1,141.3 259.1,142.4 259.2,143.4 259.2,144.4 259.3,145.5 259.3,146.5 259.3,147.5 259.4,148.4 259.4,149.4 259.5,150.4 259.5,151.3 259.6,152.2 259.6,153.1 259.7,154.0 259.7,154.9 259.8,155.8 259.8,156.7 259.9,157.5 259.9,158.3 259.9,159.1 260.0,159.9 260.0,160.7 260.1,161.5 260.1,162.2 260.2,162.9 260.2,163.6 260.3,164.3 260.3,164.9 260.4,165.6 260.4,166.2 260.4,166.8 260.5,167.4 260.5,167.9 260.6,168.5 260.6,169.0 260.7,169.5 260.7,170.0 260.8,170.4 260.8,170.8 260.9,171.2 260.9,171.6 261.0,172.0 261.0,172.3 261.0,172.6 261.1,172.9 261.1,173.2 261.2,173.4 261.2,173.6 261.3,173.8 261.3,174.0 261.4,174.1 261.4,174.3 261.5,174.4 261.5,174.4 261.6,174.5 261.6,174.5 261.6,174.5 261.7,174.4 261.7,174.3 261.8,174.1 261.8,173.9 261.9,173.6 261.9,173.3 262.0,172.9 262.0,172.5 262.1,172.0 262.1,171.5 262.1,171.0 262.2,170.5 262.2,169.9 262.3,169.3 262.3,168.7 262.4,168.0 262.4,167.4 262.5,166.7 262.5,166.1 262.6,165.4 262.6,164.7 262.7,164.1 262.7,163.4 262.7,162.7 262.8,162.0 262.8,161.2 262.9,160.4 262.9,159.5 263.0,158.5 263.0,157.6 263.1,156.5 263.1,155.5 263.2,154.4 263.2,153.2 263.2,152.1 263.3,150.9 263.3,149.7 263.4,148.4 263.4,147.2 263.5,146.0 263.5,144.7 263.6,143.5 263.6,142.2 263.7,140.9 263.7,139.7 263.8,138.5 263.8,137.3 263.8,136.1 263.9,134.9 263.9,133.7 264.0,132.6 264.0,131.5 264.1,130.4 264.1,129.3 264.2,128.2 264.2,127.1 264.3,126.1 264.3,125.0 264.4,123.9 264.4,122.8 264.4,121.7 264.5,120.6 264.5,119.5 264.6,118.4 264.6,117.3 264.7,116.2 264.7,115.1 264.8,114.0 264.8,112.9 264.9,111.8 264.9,110.7 264.9,109.7 265.0,108.6 265.0,107.5 265.1,106.4 265.1,105.4 265.2,104.3 265.2,103.2 265.3,102.2 265.3,101.1 265.4,100.1 265.4,99.0 265.5,98.0 265.5,97.0 265.5,95.9 265.6,94.9 265.6,93.9 265.7,92.9 265.7,91.9 265.8,90.9 265.8,89.9 265.9,88.9 265.9,87.9 266.0,86.9 266.0,85.9 266.0,84.9 266.1,83.9 266.1,82.9 266.2,82.0 266.2,81.0 266.3,80.0 266.3,79.1 266.4,78.1 266.4,77.1 266.5,76.2 266.5,75.2 266.6,74.3 266.6,73.3 266.6,72.4 266.7,71.5 266.7,70.5 266.8,69.6 266.8,68.7 266.9,67.7 266.9,66.8 267.0,65.9 267.0,65.0 267.1,64.1 267.1,63.1 267.2,62.2 267.2,61.3 267.2,60.4 267.3,59.6 267.3,58.7 267.4,57.8 267.4,57.0 267.5,56.1 267.5,55.3 267.6,54.5 267.6,53.7 267.7,52.8 267.7,52.0 267.7,51.1 267.8,50.3 267.8,49.4 267.9,48.6 267.9,47.7 268.0,46.8 268.0,45.9 268.1,44.9 268.1,43.9 268.2,42.9 268.2,41.8 268.3,40.7 268.3,39.5 268.3,38.4 268.4,37.2 268.4,36.1 268.5,35.0 268.5,33.9 268.6,32.9 268.6,31.9 268.7,30.9 268.7,30.1 268.8,29.3 268.8,28.5 268.8,27.8 268.9,27.1 268.9,26.4 269.0,25.7 269.0,25.0 269.1,24.4 269.1,23.7 269.2,23.1 269.2,22.5 269.3,21.9 269.3,21.3 269.4,20.8 269.4,20.3 269.4,19.9 269.5,19.5 269.5,19.1 269.6,18.7 269.6,18.5 269.7,18.2 269.7,18.0 269.8,17.8 269.8,17.7 269.9,17.5 269.9,17.3 270.0,17.1 270.0,17.0 270.0,16.8 270.1,16.7 270.1,16.6 270.2,16.4 270.2,16.3 270.3,16.2 270.3,16.1 270.4,16.0 270.4,16.0 270.5,15.9 270.5,15.9 270.5,15.8 270.6,15.8 270.6,15.8 270.7,15.8 270.7,15.9 270.8,15.9 270.8,16.0 270.9,16.1 270.9,16.2 271.0,16.3 271.0,16.4 271.1,16.5 271.1,16.6 271.1,16.8 271.2,16.9 271.2,17.1 271.3,17.2 271.3,17.4 271.4,17.6 271.4,17.7 271.5,17.9 271.5,18.1 271.6,18.3 271.6,18.4 271.6,18.7 271.7,18.9 271.7,19.1 271.8,19.4 271.8,19.7 271.9,20.0 271.9,20.3 272.0,20.6 272.0,20.9 272.1,21.3 272.1,21.6 272.2,22.0 272.2,22.4 272.2,22.8 272.3,23.2 272.3,23.6 272.4,24.0 272.4,24.5 272.5,24.9 272.5,25.3 272.6,25.8 272.6,26.2 272.7,26.7 272.7,27.2 272.8,27.7 272.8,238.7 272.8,237.5 272.9,236.2 272.9,234.5 273.0,233.3 273.0,233.2 273.1,233.2 273.1,231.9 273.2,230.2 273.2,229.9 273.3,230.8 273.3,230.9 273.3,229.5 273.4,228.1 273.4,228.4 273.5,229.7 273.5,229.7 273.6,228.1 273.6,227.1 273.7,227.9 273.7,229.1 273.8,228.8 273.8,227.3 273.9,226.7 273.9,227.8 273.9,228.8 274.0,228.2 274.0,226.9 274.1,226.7 274.1,227.9 274.2,228.6 274.2,227.8 274.3,226.7 274.3,226.8 274.4,228.0 274.4,228.4 274.4,227.5 274.5,226.6 274.5,227.0 274.6,228.0 274.6,228.1 274.7,227.2 274.7,226.6 274.8,227.2 274.8,228.0 274.9,227.9 274.9,227.0 275.0,226.7 275.0,227.4 275.0,228.0 275.1,227.7 275.1,227.0 275.2,226.9 275.2,227.5 275.3,228.0 275.3,227.5 275.4,226.9 275.4,227.0 275.5,227.6 275.5,227.9 275.6,227.4 275.6,226.9 275.6,227.2 275.7,227.7 275.7,227.8 275.8,227.3 275.8,227.0 275.9,227.3 275.9,227.7 276.0,227.7 276.0,227.2 276.1,227.0 276.1,227.4 276.1,227.7 276.2,227.5 276.2,227.2 276.3,227.1 276.3,227.5 276.4,227.7 276.4,227.5 276.5,227.1 276.5,227.2 276.6,227.5 276.6,227.6 276.7,227.4 276.7,227.1 276.7,227.3 276.8,227.5 276.8,227.6 276.9,227.3 276.9,227.2 277.0,227.3 277.0,227.6 277.1,227.5 277.1,227.3 277.2,227.2 277.2,227.4 277.2,227.6 277.3,227.5 277.3,227.3 277.4,227.2 277.4,227.4 277.5,227.5 277.5,227.4 277.6,227.3 277.6,227.3 277.7,227.4 277.7,227.5 277.8,227.4 277.8,227.3 277.8,227.3 277.9,227.5 277.9,227.5 278.0,227.4 278.0,227.3 278.1,227.4 278.1,227.5 278.2,227.5 278.2,227.3 278.3,227.3 278.3,227.4 278.4,227.5 278.4,227.4 278.4,227.3 278.5,227.3 278.5,227.4 278.6,227.5 278.6,227.4 278.7,227.3 278.7,227.3 278.8,227.4 278.8,227.4 278.9,227.4 278.9,227.4 278.9,227.4 279.0,227.4 279.0,227.4 279.1,227.4 279.1,227.4 279.2,227.4 279.2,227.4 279.3,227.4 279.3,227.4 279.4,227.4 279.4,227.4 279.5,227.4 279.5,227.4 279.5,227.4 279.6,227.4 279.6,227.4 279.7,227.4 279.7,227.4 279.8,227.4 279.8,227.4 279.9,227.4 279.9,227.4 280.0,227.4 280.0,227.4 280.0,227.4 280.1,227.4 280.1,227.4 280.2,227.4 280.2,227.3 280.3,227.4 280.3,227.5 280.4,227.5 280.4,227.3 280.5,227.2 280.5,227.4 280.6,227.7 280.6,227.5 280.6,227.1 280.7,227.0 280.7,227.5 280.8,227.9 280.8,227.5 280.9,226.8 280.9,226.9 281.0,227.7 281.0,228.2 281.1,227.4 281.1,226.5 281.2,226.9 281.2,228.1 281.2,228.4 281.3,227.1 281.3,226.1 281.4,227.0 281.4,228.7 281.5,228.5 281.5,226.6 281.6,225.7 281.6,227.4 281.7,229.3 281.7,228.4 281.7,225.9 281.8,225.4 281.8,228.0 281.9,229.8 281.9,228.0 282.0,225.0 282.0,225.4 282.1,228.8 282.1,230.3 282.2,227.4 282.2,224.2 282.3,225.7 282.3,229.9 282.3,230.6 282.4,226.4 282.4,223.4 282.5,226.3 282.5,231.1 282.6,230.5 282.6,225.1 282.7,222.8 282.7,227.4 282.8,232.3 282.8,230.0 282.8,223.6 282.9,222.6 282.9,228.9 283.0,233.3 283.0,229.0 283.1,222.0 283.1,222.8 283.2,230.7 283.2,233.9 283.3,227.4 283.3,220.5 283.4,223.7 283.4,232.7 283.4,234.1 283.5,225.3 283.5,219.2 283.6,225.2 283.6,234.8 283.7,233.6 283.7,222.9 283.8,218.5 283.8,227.4 283.9,236.7 283.9,237.7 284.0,142.5 284.0,142.5 284.0,142.5"/>
<polyline fill="none" stroke="#EDB120" stroke-width="2.20" stroke-linejoin="round" stroke-linecap="butt" points="188.8,142.5 188.9,142.5 189.1,142.5 189.2,142.5 189.4,142.5 189.5,142.5 189.6,142.5 189.8,142.5 189.9,142.5 190.0,142.5 190.2,142.5 190.3,142.5 190.5,142.5 190.6,142.5 190.7,142.5 190.9,142.5 191.0,142.5 191.1,142.5 191.3,142.5 191.4,142.5 191.6,142.5 191.7,142.5 191.8,142.5 192.0,142.5 192.1,142.5 192.2,142.5 192.4,142.5 192.5,142.3 192.7,141.9 192.8,141.4 192.9,140.9 193.1,140.2 193.2,139.5 193.3,138.7 193.5,137.9 193.6,137.1 193.8,136.1 193.9,134.8 194.0,133.4 194.2,131.9 194.3,130.2 194.4,128.5 194.6,126.6 194.7,124.7 194.9,122.8 195.0,120.9 195.1,119.1 195.3,117.2 195.4,115.2 195.5,113.2 195.7,111.2 195.8,109.1 196.0,106.9 196.1,104.7 196.2,102.5 196.4,100.2 196.5,97.8 196.6,95.3 196.8,92.8 196.9,90.2 197.1,87.6 197.2,84.8 197.3,82.0 197.5,79.1 197.6,75.7 197.8,72.0 197.9,68.1 198.0,64.4 198.2,61.0 198.3,57.8 198.4,54.7 198.6,51.7 198.7,48.9 198.9,46.3 199.0,43.9 199.1,41.5 199.3,39.1 199.4,36.9 199.5,34.7 199.7,32.6 199.8,30.7 200.0,28.9 200.1,27.4 200.2,25.9 200.4,24.6 200.5,23.4 200.6,22.2 200.8,21.1 200.9,20.1 201.1,19.2 201.2,18.5 201.3,18.0 201.5,17.5 201.6,17.0 201.7,16.6 201.9,16.2 202.0,16.0 202.2,15.8 202.3,15.9 202.4,16.0 202.6,16.3 202.7,16.6 202.8,17.1 203.0,17.6 203.1,18.1 203.3,18.9 203.4,20.1 203.5,21.7 203.7,23.5 203.8,25.4 203.9,27.5 204.1,29.7 204.2,32.5 204.4,35.7 204.5,39.1 204.6,42.4 204.8,45.5 204.9,48.2 205.0,50.8 205.2,53.3 205.3,55.8 205.5,58.3 205.6,61.0 205.7,63.7 205.9,66.4 206.0,69.2 206.2,72.0 206.3,74.8 206.4,77.7 206.6,80.6 206.7,83.5 206.8,86.5 207.0,89.5 207.1,92.5 207.3,95.5 207.4,98.6 207.5,101.8 207.7,104.9 207.8,108.1 207.9,111.4 208.1,114.7 208.2,117.9 208.4,121.2 208.5,124.5 208.6,127.8 208.8,131.1 208.9,134.4 209.0,138.0 209.2,141.7 209.3,145.5 209.5,149.2 209.6,152.8 209.7,156.1 209.9,159.1 210.0,161.7 210.1,163.8 210.3,165.8 210.4,167.8 210.6,169.6 210.7,171.3 210.8,172.7 211.0,173.8 211.1,174.4 211.2,174.5 211.4,174.3 211.5,173.9 211.7,173.3 211.8,172.4 211.9,171.4 212.1,170.1 212.2,168.7 212.3,167.0 212.5,165.2 212.6,163.2 212.8,161.0 212.9,158.7 213.0,156.2 213.2,153.5 213.3,150.7 213.4,147.8 213.6,144.8 213.7,141.8 213.9,138.6 214.0,135.4 214.1,132.1 214.3,128.7 214.4,125.4 214.5,122.0 214.7,118.7 214.8,115.3 215.0,112.0 215.1,108.8 215.2,105.6 215.4,102.5 215.5,99.4 215.7,96.5 215.8,93.7 215.9,91.0 216.1,88.5 216.2,86.1 216.3,83.8 216.5,81.7 216.6,79.8 216.8,78.1 216.9,76.6 217.0,75.3 217.2,74.2 217.3,73.3 217.4,72.6 217.6,72.1 217.7,71.9 217.9,71.8 218.0,72.0 218.1,72.4 218.3,73.0 218.4,73.9 218.5,74.9 218.7,76.2 218.8,77.7 219.0,79.4 219.1,81.3 219.2,83.4 219.4,85.6 219.5,88.1 219.6,90.7 219.8,93.5 219.9,96.4 220.1,99.5 220.2,102.7 220.3,106.0 220.5,109.5 220.6,113.0 220.7,116.7 220.9,120.4 221.0,124.2 221.2,128.1 221.3,132.0 221.4,135.9 221.6,139.9 221.7,143.8 221.8,147.8 222.0,151.7 222.1,155.6 222.3,159.5 222.4,163.3 222.5,167.1 222.7,170.8 222.8,174.4 222.9,177.8 223.1,181.2 223.2,184.5 223.4,187.6 223.5,190.6 223.6,193.4 223.8,196.1 223.9,198.6 224.1,200.9 224.2,203.0 224.3,205.0 224.5,206.8 224.6,208.3 224.7,209.6 224.9,210.8 225.0,211.7 225.2,212.4 225.3,212.9 225.4,213.1 225.6,213.2 225.7,213.0 225.8,212.5 226.0,211.8 226.1,210.8 226.3,209.6 226.4,208.1 226.5,206.4 226.7,204.4 226.8,202.2 226.9,199.9 227.1,197.3 227.2,194.5 227.4,191.5 227.5,188.3 227.6,185.0 227.8,181.5 227.9,177.8 228.0,174.1 228.2,170.2 228.3,166.2 228.5,162.2 228.6,158.0 228.7,153.8 228.9,149.6 229.0,145.3 229.1,141.1 229.3,136.8 229.4,132.6 229.6,128.4 229.7,124.2 229.8,120.1 230.0,116.1 230.1,112.2 230.2,108.4 230.4,104.7 230.5,101.2 230.7,97.8 230.8,94.6 230.9,91.5 231.1,88.7 231.2,86.0 231.3,83.5 231.5,81.3 231.6,79.3 231.8,77.5 231.9,75.9 232.0,74.6 232.2,73.5 232.3,72.7 232.5,72.2 232.6,71.9 232.7,71.8 232.9,72.0 233.0,72.4 233.1,73.1 233.3,74.0 233.4,75.1 233.6,76.4 233.7,78.0 233.8,79.8 234.0,81.7 234.1,83.9 234.2,86.3 234.4,88.8 234.5,91.6 234.7,94.5 234.8,97.5 234.9,100.7 235.1,104.1 235.2,107.5 235.3,111.1 235.5,114.8 235.6,118.6 235.8,122.5 235.9,126.4 236.0,130.4 236.2,134.4 236.3,138.4 236.4,144.7 236.6,148.7 236.7,152.8 236.9,156.8 237.0,160.7 237.1,164.6 237.3,168.4 237.4,172.2 237.5,175.8 237.7,179.3 237.8,182.7 238.0,186.0 238.1,189.1 238.2,192.1 238.4,194.9 238.5,197.6 238.6,200.0 238.8,202.3 238.9,204.3 239.1,206.2 239.2,207.9 239.3,209.3 239.5,210.5 239.6,211.5 239.7,212.3 239.9,212.8 240.0,213.1 240.2,213.2 240.3,213.0 240.4,212.6 240.6,211.9 240.7,210.9 240.9,209.7 241.0,208.3 241.1,206.6 241.3,204.7 241.4,202.6 241.5,200.2 241.7,197.6 241.8,194.8 242.0,191.9 242.1,188.7 242.2,185.4 242.4,182.0 242.5,178.3 242.6,174.6 242.8,170.7 242.9,166.8 243.1,162.7 243.2,158.6 243.3,154.4 243.5,150.2 243.6,145.9 243.7,141.6 243.9,137.4 244.0,133.1 244.2,128.9 244.3,124.8 244.4,120.7 244.6,116.6 244.7,112.7 244.8,108.9 245.0,105.2 245.1,101.6 245.3,98.2 245.4,95.0 245.5,91.9 245.7,89.0 245.8,86.3 245.9,83.8 246.1,81.6 246.2,79.5 246.4,77.7 246.5,76.1 246.6,74.8 246.8,73.7 246.9,72.8 247.0,72.2 247.2,71.9 247.3,71.8 247.5,72.0 247.6,72.3 247.7,72.9 247.9,73.8 248.0,74.8 248.1,76.0 248.3,77.5 248.4,79.2 248.6,81.0 248.7,83.1 248.8,85.3 249.0,87.7 249.1,90.3 249.3,93.1 249.4,96.0 249.5,99.0 249.7,102.2 249.8,105.6 249.9,109.0 250.1,112.5 250.2,116.2 250.4,119.9 250.5,123.7 250.6,127.5 250.8,131.4 250.9,135.4 251.0,139.3 251.2,143.3 251.3,147.3 251.5,151.2 251.6,155.1 251.7,159.0 251.9,162.8 252.0,166.6 252.1,170.3 252.3,173.9 252.4,177.4 252.6,180.8 252.7,184.1 252.8,187.2 253.0,190.2 253.1,193.0 253.2,195.7 253.4,198.3 253.5,200.6 253.7,202.8 253.8,204.8 253.9,206.5 254.1,208.1 254.2,209.5 254.3,210.6 254.5,211.6 254.6,212.3 254.8,212.8 254.9,213.1 255.0,213.2 255.2,213.0 255.3,212.7 255.4,212.1 255.6,211.3 255.7,210.2 255.9,209.0 256.0,207.6 256.1,206.0 256.3,204.2 256.4,202.2 256.5,200.0 256.7,197.7 256.8,195.2 257.0,192.6 257.1,189.8 257.2,186.9 257.4,184.0 257.5,180.9 257.7,177.7 257.8,174.5 257.9,171.2 258.1,167.9 258.2,164.5 258.3,161.2 258.5,157.8 258.6,154.5 258.8,151.2 258.9,147.9 259.0,144.7 259.2,141.6 259.3,138.5 259.4,135.6 259.6,132.8 259.7,130.1 259.9,127.5 260.0,125.1 260.1,122.8 260.3,120.7 260.4,118.8 260.5,117.1 260.7,115.5 260.8,114.2 261.0,113.0 261.1,112.1 261.2,111.4 261.4,110.9 261.5,110.6 261.6,110.5 261.8,110.9 261.9,111.7 262.1,113.0 262.2,114.5 262.3,116.3 262.5,118.3 262.6,120.3 262.7,122.3 262.9,124.6 263.0,127.4 263.2,130.6 263.3,134.1 263.4,137.8 263.6,141.5 263.7,145.3 263.8,148.9 264.0,152.4 264.1,155.7 264.3,158.9 264.4,162.2 264.5,165.5 264.7,168.8 264.8,172.1 264.9,175.3 265.1,178.6 265.2,181.8 265.4,184.9 265.5,188.0 265.6,191.1 265.8,194.1 265.9,197.1 266.0,200.1 266.2,203.0 266.3,205.9 266.5,208.8 266.6,211.7 266.7,214.5 266.9,217.3 267.0,220.0 267.2,222.8 267.3,225.4 267.4,228.0 267.6,230.5 267.7,233.0 267.8,235.6 268.0,238.2 268.1,241.1 268.3,244.3 268.4,247.8 268.5,251.1 268.7,254.1 268.8,256.5 268.9,258.6 269.1,260.6 269.2,262.5 269.4,264.2 269.5,265.5 269.6,266.5 269.8,267.2 269.9,267.7 270.0,268.2 270.2,268.6 270.3,268.9 270.5,269.1 270.6,269.2 270.7,269.1 270.9,268.9 271.0,268.6 271.1,268.2 271.3,267.8 271.4,267.3 271.6,266.7 271.7,266.1 271.8,265.3 272.0,264.4 272.1,263.4 272.2,262.2 272.4,261.0 272.5,259.7 272.7,258.3 272.8,256.8 272.9,255.1 273.1,253.3 273.2,251.3 273.3,249.2 273.5,246.9 273.6,244.6 273.8,242.3 273.9,239.8 274.0,237.3 274.2,234.6 274.3,231.7 274.4,228.7 274.6,225.5 274.7,222.2 274.9,218.6 275.0,214.8 275.1,211.0 275.3,207.5 275.4,204.4 275.6,201.5 275.7,198.7 275.8,196.0 276.0,193.4 276.1,190.8 276.2,188.3 276.4,185.9 276.5,183.6 276.7,181.3 276.8,179.1 276.9,176.9 277.1,174.8 277.2,172.7 277.3,170.7 277.5,168.8 277.6,166.8 277.8,164.9 277.9,163.1 278.0,161.2 278.2,159.3 278.3,157.4 278.4,155.6 278.6,153.9 278.7,152.3 278.9,150.8 279.0,149.5 279.1,148.4 279.3,147.5 279.4,146.7 279.5,145.9 279.7,145.1 279.8,144.4 280.0,143.8 280.1,143.3 280.2,142.9 280.4,142.6 280.5,142.5 280.6,142.5 280.8,142.5 280.9,142.5 281.1,142.5 281.2,142.5 281.3,142.5 281.5,142.5 281.6,142.5 281.7,142.5 281.9,142.5 282.0,142.5 282.2,142.5 282.3,142.5 282.4,142.5 282.6,142.5 282.7,142.5 282.8,142.5 283.0,142.5 283.1,142.5 283.3,142.5 283.4,142.5 283.5,142.5 283.7,142.5 283.8,142.5 284.0,142.5 284.0,142.5"/>
<path d="M225.10 27.10H238.80" stroke="#0072BD" stroke-width="2.20" fill="none"/>
<text x="240.40" y="30.00" font-family="Liberation Serif, Times New Roman, serif" font-weight="bold" font-size="11.0" fill="#111" stroke="#111" stroke-width="0.00"><tspan font-style="italic">θ</tspan><tspan dy="2.0" font-size="7.2" font-style="normal" letter-spacing="0.20">CT,1</tspan></text>
<text x="242.40" y="21.90" font-family="Liberation Serif, Times New Roman, serif" font-weight="bold" font-size="11.0" fill="#111">.</text>
<path d="M225.10 40.40H238.80" stroke="#D95319" stroke-width="2.20" fill="none"/>
<text x="240.40" y="43.30" font-family="Liberation Serif, Times New Roman, serif" font-weight="bold" font-size="11.0" fill="#111" stroke="#111" stroke-width="0.00"><tspan font-style="italic">θ</tspan><tspan dy="2.0" font-size="7.2" font-style="normal" letter-spacing="0.20">CT,2</tspan></text>
<text x="242.40" y="35.20" font-family="Liberation Serif, Times New Roman, serif" font-weight="bold" font-size="11.0" fill="#111">.</text>
<path d="M225.10 53.40H238.80" stroke="#EDB120" stroke-width="2.20" fill="none"/>
<text x="240.40" y="56.30" font-family="Liberation Serif, Times New Roman, serif" font-weight="bold" font-size="11.0" fill="#111" stroke="#111" stroke-width="0.00"><tspan font-style="italic">θ</tspan><tspan dy="2.0" font-size="7.2" font-style="normal" letter-spacing="0.20">3</tspan></text>
<text x="242.40" y="48.20" font-family="Liberation Serif, Times New Roman, serif" font-weight="bold" font-size="11.0" fill="#111">.</text>
<path d="M324.60 13.50V271.50H419.70" fill="none" stroke="#cccccc" stroke-width="1.00"/>
<path d="M324.60 271.50h2.6M324.60 242.83h2.6M324.60 214.17h2.6M324.60 185.50h2.6M324.60 156.83h2.6M324.60 128.17h2.6M324.60 99.50h2.6M324.60 70.83h2.6M324.60 42.17h2.6M324.60 13.50h2.6M324.60 271.50v-2.4M416.40 271.50v-2.4" fill="none" stroke="#cccccc" stroke-width="0.8"/>
<text x="321.00" y="276.00" text-anchor="end" font-family="Liberation Sans, Arial, sans-serif" font-weight="bold" font-size="10.8" fill="#111">-2</text>
<text x="321.00" y="247.33" text-anchor="end" font-family="Liberation Sans, Arial, sans-serif" font-weight="bold" font-size="10.8" fill="#111">0</text>
<text x="321.00" y="218.67" text-anchor="end" font-family="Liberation Sans, Arial, sans-serif" font-weight="bold" font-size="10.8" fill="#111">2</text>
<text x="321.00" y="190.00" text-anchor="end" font-family="Liberation Sans, Arial, sans-serif" font-weight="bold" font-size="10.8" fill="#111">4</text>
<text x="321.00" y="161.33" text-anchor="end" font-family="Liberation Sans, Arial, sans-serif" font-weight="bold" font-size="10.8" fill="#111">6</text>
<text x="321.00" y="132.67" text-anchor="end" font-family="Liberation Sans, Arial, sans-serif" font-weight="bold" font-size="10.8" fill="#111">8</text>
<text x="321.00" y="104.00" text-anchor="end" font-family="Liberation Sans, Arial, sans-serif" font-weight="bold" font-size="10.8" fill="#111">10</text>
<text x="321.00" y="75.33" text-anchor="end" font-family="Liberation Sans, Arial, sans-serif" font-weight="bold" font-size="10.8" fill="#111">12</text>
<text x="321.00" y="46.67" text-anchor="end" font-family="Liberation Sans, Arial, sans-serif" font-weight="bold" font-size="10.8" fill="#111">14</text>
<text x="321.00" y="18.00" text-anchor="end" font-family="Liberation Sans, Arial, sans-serif" font-weight="bold" font-size="10.8" fill="#111">16</text>
<text x="324.60" y="286.40" text-anchor="middle" font-family="Liberation Sans, Arial, sans-serif" font-weight="bold" font-size="10.8" fill="#111">0</text>
<text x="416.40" y="286.40" text-anchor="middle" font-family="Liberation Sans, Arial, sans-serif" font-weight="bold" font-size="10.8" fill="#111">50</text>
<text x="372.15" y="300.30" text-anchor="middle" font-family="Liberation Serif, Times New Roman, serif" font-size="13.2" fill="#222" stroke="#222" stroke-width="0.2" letter-spacing="0.35">time (s)</text>
<text x="372.15" y="316.90" text-anchor="middle" font-family="Liberation Sans, Arial, sans-serif" font-size="9.3" font-weight="bold" fill="#111">(c)</text>
<g transform="translate(303.60 144.00) rotate(-90)"><text text-anchor="middle" font-family="Liberation Serif, Times New Roman, serif" font-size="13.0" fill="#222" stroke="#222" stroke-width="0.12" letter-spacing="0.00">T (Nm)</text></g>
<polyline fill="none" stroke="#0072BD" stroke-width="2.20" stroke-linejoin="round" stroke-linecap="butt" points="324.6,242.8 419.7,242.8"/>
<polyline fill="none" stroke="#D95319" stroke-width="2.20" stroke-linejoin="round" stroke-linecap="butt" points="324.6,242.8 324.6,242.8 324.7,242.8 324.7,242.8 324.8,242.8 324.8,242.8 324.9,242.8 324.9,242.8 325.0,242.8 325.0,242.8 325.1,242.8 325.1,242.8 325.2,242.8 325.2,242.8 325.2,242.8 325.3,242.8 325.3,242.8 325.4,242.8 325.4,242.8 325.5,242.8 325.5,242.8 325.6,242.8 325.6,242.8 325.7,242.8 325.7,242.8 325.7,242.8 325.8,242.8 325.8,242.8 325.9,242.8 325.9,242.8 326.0,242.8 326.0,242.8 326.1,242.8 326.1,242.8 326.2,242.8 326.2,242.8 326.3,242.8 326.3,242.8 326.3,242.8 326.4,242.8 326.4,242.8 326.5,242.8 326.5,242.8 326.6,242.8 326.6,242.8 326.7,242.8 326.7,242.8 326.8,242.8 326.8,242.8 326.8,242.8 326.9,242.8 326.9,242.8 327.0,242.8 327.0,242.8 327.1,242.8 327.1,242.8 327.2,242.8 327.2,242.8 327.3,242.8 327.3,242.8 327.4,242.8 327.4,242.8 327.4,242.8 327.5,242.8 327.5,242.8 327.6,242.8 327.6,242.8 327.7,242.8 327.7,242.8 327.8,242.8 327.8,242.8 327.9,242.8 327.9,242.8 328.0,242.8 328.0,242.8 328.0,242.8 328.1,242.8 328.1,242.8 328.2,242.8 328.2,242.8 328.3,242.8 328.3,242.8 328.4,242.8 328.4,242.8 328.5,242.8 328.5,242.8 328.5,242.8 328.6,242.8 328.6,242.8 328.7,242.8 328.7,242.8 328.8,242.8 328.8,242.8 328.9,242.8 328.9,242.8 329.0,242.8 329.0,242.8 329.1,242.8 329.1,242.8 329.1,242.8 329.2,242.8 329.2,242.8 329.3,242.8 329.3,242.8 329.4,242.8 329.4,242.8 329.5,242.8 329.5,242.8 329.6,242.8 329.6,242.8 329.6,242.8 329.7,242.8 329.7,242.8 329.8,242.8 329.8,242.8 329.9,242.8 329.9,242.8 330.0,242.8 330.0,242.8 330.1,242.8 330.1,242.8 330.2,242.8 330.2,242.8 330.2,242.8 330.3,242.8 330.3,242.8 330.4,242.8 330.4,242.8 330.5,242.8 330.5,242.8 330.6,242.8 330.6,242.8 330.7,242.8 330.7,242.8 330.8,242.8 330.8,242.8 330.8,242.8 330.9,242.8 330.9,242.8 331.0,242.8 331.0,242.8 331.1,242.8 331.1,242.8 331.2,242.8 331.2,242.8 331.3,242.8 331.3,242.8 331.3,242.8 331.4,242.8 331.4,242.8 331.5,242.8 331.5,242.8 331.6,242.8 331.6,242.8 331.7,242.8 331.7,242.8 331.8,242.8 331.8,242.8 331.9,242.8 331.9,242.8 331.9,242.8 332.0,242.8 332.0,242.8 332.1,242.8 332.1,242.8 332.2,242.8 332.2,242.8 332.3,242.8 332.3,242.8 332.4,242.8 332.4,242.8 332.4,242.8 332.5,242.8 332.5,242.8 332.6,242.8 332.6,242.8 332.7,242.8 332.7,242.8 332.8,242.8 332.8,242.8 332.9,242.8 332.9,242.8 333.0,242.8 333.0,242.8 333.0,242.8 333.1,242.8 333.1,242.8 333.2,242.8 333.2,242.8 333.3,242.8 333.3,242.8 333.4,242.8 333.4,242.8 333.5,242.8 333.5,242.8 333.6,242.8 333.6,242.8 333.6,242.8 333.7,242.8 333.7,242.8 333.8,242.8 333.8,242.8 333.9,242.8 333.9,242.8 334.0,242.8 334.0,242.8 334.1,242.8 334.1,242.8 334.1,242.8 334.2,242.8 334.2,242.8 334.3,242.8 334.3,242.8 334.4,242.8 334.4,242.8 334.5,242.8 334.5,242.8 334.6,242.8 334.6,242.8 334.7,242.8 334.7,242.8 334.7,242.8 334.8,242.8 334.8,242.8 334.9,242.8 334.9,242.8 335.0,242.8 335.0,242.8 335.1,242.8 335.1,242.8 335.2,242.8 335.2,242.8 335.2,242.8 335.3,242.8 335.3,242.8 335.4,242.8 335.4,242.8 335.5,242.8 335.5,242.8 335.6,242.8 335.6,242.8 335.7,242.8 335.7,242.8 335.8,242.8 335.8,242.8 335.8,242.8 335.9,242.8 335.9,242.8 336.0,242.8 336.0,242.8 336.1,242.8 336.1,242.8 336.2,242.8 336.2,240.2 336.3,237.5 336.3,234.9 336.4,232.2 336.4,229.5 336.4,226.9 336.5,224.2 336.5,221.5 336.6,218.9 336.6,216.2 336.7,213.6 336.7,210.9 336.8,208.2 336.8,205.6 336.9,202.9 336.9,200.3 336.9,200.3 337.0,200.3 337.0,200.3 337.1,200.3 337.1,200.3 337.2,200.3 337.2,200.3 337.3,200.3 337.3,200.3 337.4,200.3 337.4,200.3 337.5,200.3 337.5,200.3 337.5,200.3 337.6,200.3 337.6,200.3 337.7,200.3 337.7,200.3 337.8,200.3 337.8,200.3 337.9,200.3 337.9,200.3 338.0,200.3 338.0,200.3 338.0,200.3 338.1,200.3 338.1,200.3 338.2,200.3 338.2,200.3 338.3,200.3 338.3,200.3 338.4,200.3 338.4,200.3 338.5,200.3 338.5,200.3 338.6,200.3 338.6,200.3 338.6,200.3 338.7,200.3 338.7,200.3 338.8,200.3 338.8,200.3 338.9,200.3 338.9,200.3 339.0,200.3 339.0,200.3 339.1,200.3 339.1,200.3 339.2,200.3 339.2,200.3 339.2,200.3 339.3,200.3 339.3,200.3 339.4,200.3 339.4,200.3 339.5,200.3 339.5,200.3 339.6,200.3 339.6,200.3 339.7,200.3 339.7,200.3 339.7,200.3 339.8,200.3 339.8,200.3 339.9,200.3 339.9,200.3 340.0,200.3 340.0,200.3 340.1,200.3 340.1,200.3 340.2,200.3 340.2,200.3 340.3,200.3 340.3,200.3 340.3,200.3 340.4,200.3 340.4,200.3 340.5,200.3 340.5,200.3 340.6,200.3 340.6,200.3 340.7,200.3 340.7,200.3 340.8,200.3 340.8,200.3 340.8,200.3 340.9,200.3 340.9,200.3 341.0,200.3 341.0,200.3 341.1,200.3 341.1,200.3 341.2,200.3 341.2,200.3 341.3,200.3 341.3,200.3 341.4,200.3 341.4,200.3 341.4,200.3 341.5,200.3 341.5,200.3 341.6,200.3 341.6,200.3 341.7,200.3 341.7,200.3 341.8,200.3 341.8,200.3 341.9,200.3 341.9,200.3 342.0,200.3 342.0,200.3 342.0,200.3 342.1,200.3 342.1,200.3 342.2,200.3 342.2,200.3 342.3,200.3 342.3,200.3 342.4,200.3 342.4,200.3 342.5,200.3 342.5,200.3 342.5,200.3 342.6,200.3 342.6,200.3 342.7,200.3 342.7,200.3 342.8,200.3 342.8,200.3 342.9,200.3 342.9,200.3 343.0,200.3 343.0,200.3 343.1,200.3 343.1,200.3 343.1,200.3 343.2,200.3 343.2,200.3 343.3,200.3 343.3,200.3 343.4,200.3 343.4,200.3 343.5,200.3 343.5,200.3 343.6,200.3 343.6,200.3 343.6,200.3 343.7,200.3 343.7,200.3 343.8,200.3 343.8,200.3 343.9,200.3 343.9,200.3 344.0,200.3 344.0,200.3 344.1,200.3 344.1,200.3 344.2,200.3 344.2,200.3 344.2,200.3 344.3,200.3 344.3,200.3 344.4,200.3 344.4,200.3 344.5,200.3 344.5,200.3 344.6,200.3 344.6,200.3 344.7,200.3 344.7,200.3 344.8,200.3 344.8,200.3 344.8,200.3 344.9,200.3 344.9,200.3 345.0,200.3 345.0,200.3 345.1,200.3 345.1,200.3 345.2,200.3 345.2,200.3 345.3,200.3 345.3,200.3 345.3,200.3 345.4,200.3 345.4,200.3 345.5,200.3 345.5,200.3 345.6,200.3 345.6,200.3 345.7,200.3 345.7,200.3 345.8,200.3 345.8,200.3 345.9,200.3 345.9,200.3 345.9,200.3 346.0,200.3 346.0,200.3 346.1,200.3 346.1,200.3 346.2,200.3 346.2,200.3 346.3,200.3 346.3,200.3 346.4,200.3 346.4,200.3 346.4,200.3 346.5,200.3 346.5,200.3 346.6,200.3 346.6,200.3 346.7,200.3 346.7,200.3 346.8,200.3 346.8,200.3 346.9,200.3 346.9,200.3 347.0,200.3 347.0,200.3 347.0,200.3 347.1,200.3 347.1,200.3 347.2,200.3 347.2,200.3 347.3,200.3 347.3,200.3 347.4,200.3 347.4,200.3 347.5,200.3 347.5,200.3 347.6,200.3 347.6,200.3 347.6,200.3 347.7,200.3 347.7,200.3 347.8,200.3 347.8,200.3 347.9,200.3 347.9,200.3 348.0,200.3 348.0,200.3 348.1,200.3 348.1,200.3 348.1,200.3 348.2,200.3 348.2,200.3 348.3,200.3 348.3,200.3 348.4,200.3 348.4,200.3 348.5,200.3 348.5,200.3 348.6,200.3 348.6,200.3 348.7,200.3 348.7,200.3 348.7,200.3 348.8,200.3 348.8,200.3 348.9,200.3 348.9,200.3 349.0,200.3 349.0,200.3 349.1,200.3 349.1,200.3 349.2,200.3 349.2,200.3 349.2,200.3 349.3,200.3 349.3,200.3 349.4,200.3 349.4,200.3 349.5,200.3 349.5,200.3 349.6,200.3 349.6,200.3 349.7,200.3 349.7,200.3 349.8,200.3 349.8,200.3 349.8,200.3 349.9,200.3 349.9,200.3 350.0,200.3 350.0,200.3 350.1,200.3 350.1,200.3 350.2,200.3 350.2,200.3 350.3,200.3 350.3,200.3 350.3,200.3 350.4,200.3 350.4,200.3 350.5,200.3 350.5,200.3 350.6,200.3 350.6,200.3 350.7,200.3 350.7,200.3 350.8,200.3 350.8,200.3 350.9,200.3 350.9,200.3 350.9,200.3 351.0,200.3 351.0,200.3 351.1,200.3 351.1,200.3 351.2,200.3 351.2,200.3 351.3,200.3 351.3,200.3 351.4,200.3 351.4,200.3 351.5,200.3 351.5,200.3 351.5,200.3 351.6,200.3 351.6,200.3 351.7,200.3 351.7,200.3 351.8,200.3 351.8,200.3 351.9,200.3 351.9,200.3 352.0,200.3 352.0,200.3 352.0,200.3 352.1,200.3 352.1,200.3 352.2,200.3 352.2,200.3 352.3,200.3 352.3,200.3 352.4,200.3 352.4,200.3 352.5,200.3 352.5,200.3 352.6,200.3 352.6,200.3 352.6,200.3 352.7,200.3 352.7,200.3 352.8,200.3 352.8,200.3 352.9,200.3 352.9,200.3 353.0,200.3 353.0,200.3 353.1,200.3 353.1,200.3 353.1,200.3 353.2,200.3 353.2,200.3 353.3,200.3 353.3,200.3 353.4,200.3 353.4,200.3 353.5,200.3 353.5,200.3 353.6,200.3 353.6,200.3 353.7,200.3 353.7,200.3 353.7,200.3 353.8,200.3 353.8,200.3 353.9,200.3 353.9,200.3 354.0,200.3 354.0,200.3 354.1,200.3 354.1,200.3 354.2,200.3 354.2,200.3 354.3,200.3 354.3,200.3 354.3,200.3 354.4,200.3 354.4,200.3 354.5,200.3 354.5,200.3 354.6,200.3 354.6,200.3 354.7,200.3 354.7,200.3 354.8,200.3 354.8,200.3 354.8,200.3 354.9,200.3 354.9,200.3 355.0,200.3 355.0,200.3 355.1,200.3 355.1,200.3 355.2,200.3 355.2,200.3 355.3,200.4 355.3,200.4 355.4,200.5 355.4,200.5 355.4,200.6 355.5,200.7 355.5,200.7 355.6,200.8 355.6,200.9 355.7,201.0 355.7,201.1 355.8,201.1 355.8,201.2 355.9,201.3 355.9,201.4 355.9,201.5 356.0,201.6 356.0,201.7 356.1,201.8 356.1,201.9 356.2,202.1 356.2,202.2 356.3,202.3 356.3,202.4 356.4,202.5 356.4,202.6 356.5,202.8 356.5,202.9 356.5,203.0 356.6,203.2 356.6,203.3 356.7,203.4 356.7,203.6 356.8,203.7 356.8,203.8 356.9,204.0 356.9,204.1 357.0,204.3 357.0,204.4 357.1,204.6 357.1,204.7 357.1,204.9 357.2,205.0 357.2,205.2 357.3,205.3 357.3,205.5 357.4,205.7 357.4,205.8 357.5,206.0 357.5,206.1 357.6,206.3 357.6,206.5 357.6,206.7 357.7,206.8 357.7,207.0 357.8,206.8 357.8,206.7 357.9,206.5 357.9,206.3 358.0,206.1 358.0,206.0 358.1,205.8 358.1,205.7 358.2,205.5 358.2,205.3 358.2,205.2 358.3,205.0 358.3,204.9 358.4,204.7 358.4,204.6 358.5,204.4 358.5,204.3 358.6,204.1 358.6,204.0 358.7,203.8 358.7,203.7 358.7,203.6 358.8,203.4 358.8,203.3 358.9,203.2 358.9,203.0 359.0,202.9 359.0,202.8 359.1,202.6 359.1,202.5 359.2,202.4 359.2,202.3 359.3,202.2 359.3,202.1 359.3,201.9 359.4,201.8 359.4,201.7 359.5,201.6 359.5,201.5 359.6,201.4 359.6,201.3 359.7,201.2 359.7,201.1 359.8,201.1 359.8,201.0 359.9,200.9 359.9,200.8 359.9,200.7 360.0,200.7 360.0,200.6 360.1,200.5 360.1,200.5 360.2,200.4 360.2,200.4 360.3,200.3 360.3,200.3 360.4,200.3 360.4,200.3 360.4,200.3 360.5,200.3 360.5,200.3 360.6,200.3 360.6,200.3 360.7,200.3 360.7,200.3 360.8,200.3 360.8,200.3 360.9,200.3 360.9,200.3 361.0,200.3 361.0,200.3 361.0,200.3 361.1,200.3 361.1,200.3 361.2,200.3 361.2,200.3 361.3,200.3 361.3,200.3 361.4,200.3 361.4,200.3 361.5,200.3 361.5,200.3 361.5,200.3 361.6,200.3 361.6,200.3 361.7,200.3 361.7,200.3 361.8,200.3 361.8,200.3 361.9,200.3 361.9,200.3 362.0,200.3 362.0,200.3 362.1,200.3 362.1,200.3 362.1,200.3 362.2,200.3 362.2,200.3 362.3,200.3 362.3,200.3 362.4,200.3 362.4,200.3 362.5,200.3 362.5,200.3 362.6,200.3 362.6,200.3 362.7,200.3 362.7,200.3 362.7,200.3 362.8,200.3 362.8,200.3 362.9,200.3 362.9,200.3 363.0,200.3 363.0,200.3 363.1,200.3 363.1,200.3 363.2,200.3 363.2,200.3 363.2,200.3 363.3,200.3 363.3,200.3 363.4,200.3 363.4,200.3 363.5,200.3 363.5,200.3 363.6,200.3 363.6,200.3 363.7,200.3 363.7,200.3 363.8,200.3 363.8,200.3 363.8,200.3 363.9,200.3 363.9,200.3 364.0,200.3 364.0,200.3 364.1,200.3 364.1,200.3 364.2,200.3 364.2,200.3 364.3,200.3 364.3,200.3 364.3,200.3 364.4,200.3 364.4,200.3 364.5,200.3 364.5,200.3 364.6,200.3 364.6,200.3 364.7,200.3 364.7,200.3 364.8,200.3 364.8,200.3 364.9,200.3 364.9,200.3 364.9,200.3 365.0,200.3 365.0,200.3 365.1,200.3 365.1,200.3 365.2,200.3 365.2,200.3 365.3,200.3 365.3,200.3 365.4,200.3 365.4,200.3 365.5,200.3 365.5,200.3 365.5,200.3 365.6,200.3 365.6,200.3 365.7,200.3 365.7,200.3 365.8,200.3 365.8,200.3 365.9,200.3 365.9,200.3 366.0,200.3 366.0,200.3 366.0,200.3 366.1,200.3 366.1,200.3 366.2,200.3 366.2,200.3 366.3,200.3 366.3,200.3 366.4,200.3 366.4,200.3 366.5,200.3 366.5,200.3 366.6,200.3 366.6,200.3 366.6,200.3 366.7,200.3 366.7,200.3 366.8,200.3 366.8,200.3 366.9,200.3 366.9,200.3 367.0,200.3 367.0,200.3 367.1,200.3 367.1,200.3 367.1,200.3 367.2,200.3 367.2,200.3 367.3,200.3 367.3,200.3 367.4,200.3 367.4,200.3 367.5,200.3 367.5,200.3 367.6,200.3 367.6,200.3 367.7,200.3 367.7,200.3 367.7,200.3 367.8,200.3 367.8,200.3 367.9,200.3 367.9,200.3 368.0,200.3 368.0,200.3 368.1,200.3 368.1,200.3 368.2,200.3 368.2,200.3 368.3,200.3 368.3,200.3 368.3,200.3 368.4,200.3 368.4,200.3 368.5,200.3 368.5,200.3 368.6,200.3 368.6,200.3 368.7,200.3 368.7,200.3 368.8,200.3 368.8,200.3 368.8,200.3 368.9,200.3 368.9,200.3 369.0,200.3 369.0,200.3 369.1,200.3 369.1,200.3 369.2,200.3 369.2,200.3 369.3,200.3 369.3,200.3 369.4,200.3 369.4,200.3 369.4,200.3 369.5,200.3 369.5,200.3 369.6,200.3 369.6,200.3 369.7,200.3 369.7,200.3 369.8,200.3 369.8,200.3 369.9,200.4 369.9,200.4 369.9,200.5 370.0,200.5 370.0,200.6 370.1,200.7 370.1,200.7 370.2,200.8 370.2,200.9 370.3,201.0 370.3,201.1 370.4,201.1 370.4,201.2 370.5,201.3 370.5,201.4 370.5,201.5 370.6,201.6 370.6,201.7 370.7,201.8 370.7,201.9 370.8,202.1 370.8,202.2 370.9,202.3 370.9,202.4 371.0,202.5 371.0,202.6 371.1,202.8 371.1,202.9 371.1,203.0 371.2,203.2 371.2,203.3 371.3,203.4 371.3,203.6 371.4,203.7 371.4,203.8 371.5,204.0 371.5,204.1 371.6,204.3 371.6,204.4 371.6,204.6 371.7,204.7 371.7,204.9 371.8,205.0 371.8,205.2 371.9,205.3 371.9,205.5 372.0,205.7 372.0,205.8 372.1,206.0 372.1,206.1 372.2,206.3 372.2,206.5 372.2,206.7 372.3,206.8 372.3,207.0 372.4,206.8 372.4,206.7 372.5,206.5 372.5,206.3 372.6,206.1 372.6,206.0 372.7,205.8 372.7,205.7 372.7,205.5 372.8,205.3 372.8,205.2 372.9,205.0 372.9,204.9 373.0,204.7 373.0,204.6 373.1,204.4 373.1,204.3 373.2,204.1 373.2,204.0 373.3,203.8 373.3,203.7 373.3,203.6 373.4,203.4 373.4,203.3 373.5,203.2 373.5,203.0 373.6,202.9 373.6,202.8 373.7,202.6 373.7,202.5 373.8,202.4 373.8,202.3 373.9,202.2 373.9,202.1 373.9,201.9 374.0,201.8 374.0,201.7 374.1,201.6 374.1,201.5 374.2,201.4 374.2,201.3 374.3,201.2 374.3,201.1 374.4,201.1 374.4,201.0 374.4,200.9 374.5,200.8 374.5,200.7 374.6,200.7 374.6,200.6 374.7,200.5 374.7,200.5 374.8,200.4 374.8,200.4 374.9,200.3 374.9,200.3 375.0,200.3 375.0,200.3 375.0,200.3 375.1,200.3 375.1,200.3 375.2,200.3 375.2,200.3 375.3,200.3 375.3,200.3 375.4,200.3 375.4,200.3 375.5,200.3 375.5,200.3 375.5,200.3 375.6,200.3 375.6,200.3 375.7,200.3 375.7,200.3 375.8,200.3 375.8,200.3 375.9,200.3 375.9,200.3 376.0,200.3 376.0,200.3 376.1,200.3 376.1,200.3 376.1,200.3 376.2,200.3 376.2,200.3 376.3,200.3 376.3,200.3 376.4,200.3 376.4,200.3 376.5,200.3 376.5,200.3 376.6,200.3 376.6,200.3 376.7,200.3 376.7,200.3 376.7,200.3 376.8,200.3 376.8,200.3 376.9,200.3 376.9,200.3 377.0,200.3 377.0,200.3 377.1,200.3 377.1,200.3 377.2,200.3 377.2,200.3 377.2,200.3 377.3,200.3 377.3,200.3 377.4,200.3 377.4,200.3 377.5,200.3 377.5,200.3 377.6,200.3 377.6,200.3 377.7,200.3 377.7,200.3 377.8,200.3 377.8,200.3 377.8,200.3 377.9,200.3 377.9,200.3 378.0,200.3 378.0,200.3 378.1,200.3 378.1,200.3 378.2,200.3 378.2,200.3 378.3,200.3 378.3,200.3 378.3,200.3 378.4,200.3 378.4,200.3 378.5,200.3 378.5,200.3 378.6,200.3 378.6,200.3 378.7,200.3 378.7,200.3 378.8,200.3 378.8,200.3 378.9,200.3 378.9,200.3 378.9,200.3 379.0,200.3 379.0,200.3 379.1,200.3 379.1,200.3 379.2,200.3 379.2,200.3 379.3,200.3 379.3,200.3 379.4,200.3 379.4,200.3 379.5,200.3 379.5,200.3 379.5,200.3 379.6,200.3 379.6,200.3 379.7,200.3 379.7,200.3 379.8,200.3 379.8,200.3 379.9,200.3 379.9,200.3 380.0,200.3 380.0,200.3 380.0,200.3 380.1,200.3 380.1,200.3 380.2,200.3 380.2,200.3 380.3,200.3 380.3,200.3 380.4,200.3 380.4,200.3 380.5,200.3 380.5,200.3 380.6,200.3 380.6,200.3 380.6,200.3 380.7,200.3 380.7,200.3 380.8,200.3 380.8,200.3 380.9,200.3 380.9,200.3 381.0,200.3 381.0,200.3 381.1,200.3 381.1,200.3 381.1,200.3 381.2,200.3 381.2,200.3 381.3,200.3 381.3,200.3 381.4,200.3 381.4,200.3 381.5,200.3 381.5,200.3 381.6,200.3 381.6,200.3 381.7,200.3 381.7,200.3 381.7,200.3 381.8,200.3 381.8,200.3 381.9,200.3 381.9,200.3 382.0,200.3 382.0,200.3 382.1,200.3 382.1,200.3 382.2,200.3 382.2,200.3 382.3,200.3 382.3,200.3 382.3,200.3 382.4,200.3 382.4,200.3 382.5,200.3 382.5,200.3 382.6,200.3 382.6,200.3 382.7,200.3 382.7,200.3 382.8,200.3 382.8,200.3 382.8,200.3 382.9,200.3 382.9,200.3 383.0,200.3 383.0,200.3 383.1,200.3 383.1,200.3 383.2,200.3 383.2,200.3 383.3,200.3 383.3,200.3 383.4,200.3 383.4,200.3 383.4,200.3 383.5,200.3 383.5,200.3 383.6,200.3 383.6,200.3 383.7,200.3 383.7,200.3 383.8,200.3 383.8,200.3 383.9,200.3 383.9,200.3 383.9,200.3 384.0,200.3 384.0,200.3 384.1,200.3 384.1,200.3 384.2,200.3 384.2,200.3 384.3,200.3 384.3,200.3 384.4,200.3 384.4,200.3 384.5,200.4 384.5,200.4 384.5,200.5 384.6,200.5 384.6,200.6 384.7,200.7 384.7,200.7 384.8,200.8 384.8,200.9 384.9,201.0 384.9,201.1 385.0,201.1 385.0,201.2 385.1,201.3 385.1,201.4 385.1,201.5 385.2,201.6 385.2,201.7 385.3,201.8 385.3,201.9 385.4,202.1 385.4,202.2 385.5,202.3 385.5,202.4 385.6,202.5 385.6,202.6 385.6,202.8 385.7,202.9 385.7,203.0 385.8,203.2 385.8,203.3 385.9,203.4 385.9,203.6 386.0,203.7 386.0,203.8 386.1,204.0 386.1,204.1 386.2,204.3 386.2,204.4 386.2,204.6 386.3,204.7 386.3,204.9 386.4,205.0 386.4,205.2 386.5,205.3 386.5,205.5 386.6,205.7 386.6,205.8 386.7,206.0 386.7,206.1 386.7,206.3 386.8,206.5 386.8,206.7 386.9,206.8 386.9,207.0 387.0,206.8 387.0,206.7 387.1,206.5 387.1,206.3 387.2,206.1 387.2,206.0 387.3,205.8 387.3,205.7 387.3,205.5 387.4,205.3 387.4,205.2 387.5,205.0 387.5,204.9 387.6,204.7 387.6,204.6 387.7,204.4 387.7,204.3 387.8,204.1 387.8,204.0 387.9,203.8 387.9,203.7 387.9,203.6 388.0,203.4 388.0,203.3 388.1,203.2 388.1,203.0 388.2,202.9 388.2,202.8 388.3,202.6 388.3,202.5 388.4,202.4 388.4,202.3 388.4,202.2 388.5,202.1 388.5,201.9 388.6,201.8 388.6,201.7 388.7,201.6 388.7,201.5 388.8,201.4 388.8,201.3 388.9,201.2 388.9,201.1 389.0,201.1 389.0,201.0 389.0,200.9 389.1,200.8 389.1,200.7 389.2,200.7 389.2,200.6 389.3,200.5 389.3,200.5 389.4,200.4 389.4,200.4 389.5,200.3 389.5,200.3 389.5,200.3 389.6,200.3 389.6,200.3 389.7,200.3 389.7,200.3 389.8,200.3 389.8,200.3 389.9,200.3 389.9,200.3 390.0,200.3 390.0,200.3 390.1,200.3 390.1,200.3 390.1,200.3 390.2,200.3 390.2,200.3 390.3,200.3 390.3,200.3 390.4,200.3 390.4,200.3 390.5,200.3 390.5,200.3 390.6,200.3 390.6,200.3 390.7,200.3 390.7,200.3 390.7,200.3 390.8,200.3 390.8,200.3 390.9,200.3 390.9,200.3 391.0,200.3 391.0,200.3 391.1,200.3 391.1,200.3 391.2,200.3 391.2,200.3 391.2,200.3 391.3,200.3 391.3,200.3 391.4,200.3 391.4,200.3 391.5,200.3 391.5,200.3 391.6,200.3 391.6,200.3 391.7,200.3 391.7,200.3 391.8,200.3 391.8,200.3 391.8,200.3 391.9,200.3 391.9,200.3 392.0,200.3 392.0,200.3 392.1,200.3 392.1,200.3 392.2,200.3 392.2,200.3 392.3,200.3 392.3,200.3 392.3,200.3 392.4,200.3 392.4,200.3 392.5,200.3 392.5,200.3 392.6,200.3 392.6,200.3 392.7,200.3 392.7,200.3 392.8,200.3 392.8,200.3 392.9,200.3 392.9,200.3 392.9,200.3 393.0,200.3 393.0,200.3 393.1,200.3 393.1,200.3 393.2,200.3 393.2,200.3 393.3,200.3 393.3,200.3 393.4,200.3 393.4,200.3 393.4,200.3 393.5,200.3 393.5,200.3 393.6,200.3 393.6,200.3 393.7,200.3 393.7,200.3 393.8,200.3 393.8,200.3 393.9,200.3 393.9,200.3 394.0,200.3 394.0,200.3 394.0,200.3 394.1,200.3 394.1,200.3 394.2,200.3 394.2,200.3 394.3,200.3 394.3,200.3 394.4,200.3 394.4,200.3 394.5,200.3 394.5,200.3 394.6,200.3 394.6,200.3 394.6,200.3 394.7,200.3 394.7,200.3 394.8,200.3 394.8,200.3 394.9,200.3 394.9,200.3 395.0,200.3 395.0,200.3 395.1,200.3 395.1,200.3 395.1,200.3 395.2,200.3 395.2,200.3 395.3,200.3 395.3,200.3 395.4,200.3 395.4,200.3 395.5,200.3 395.5,200.3 395.6,200.3 395.6,200.3 395.7,200.3 395.7,200.3 395.7,200.3 395.8,200.3 395.8,200.3 395.9,200.3 395.9,200.3 396.0,200.3 396.0,200.3 396.1,200.3 396.1,200.3 396.2,200.3 396.2,200.3 396.2,200.3 396.3,200.3 396.3,200.3 396.4,200.3 396.4,200.3 396.5,200.3 396.5,200.3 396.6,200.3 396.6,200.3 396.7,200.3 396.7,200.3 396.8,200.3 396.8,200.3 396.8,200.3 396.9,200.3 396.9,200.3 397.0,200.3 397.0,200.3 397.1,200.3 397.1,200.3 397.2,200.3 397.2,200.3 397.3,200.3 397.3,200.3 397.4,200.3 397.4,200.3 397.4,200.3 397.5,200.3 397.5,200.3 397.6,200.3 397.6,200.3 397.7,200.3 397.7,200.3 397.8,200.3 397.8,200.3 397.9,200.3 397.9,200.3 397.9,200.3 398.0,200.3 398.0,200.3 398.1,200.3 398.1,200.3 398.2,200.3 398.2,200.3 398.3,200.3 398.3,200.3 398.4,200.3 398.4,200.3 398.5,200.3 398.5,200.3 398.5,200.3 398.6,200.3 398.6,200.3 398.7,200.3 398.7,200.3 398.8,200.3 398.8,200.3 398.9,200.3 398.9,200.3 399.0,200.3 399.0,200.3 399.0,200.3 399.1,200.3 399.1,200.3 399.2,200.3 399.2,200.3 399.3,200.3 399.3,200.3 399.4,200.3 399.4,200.3 399.5,200.3 399.5,200.3 399.6,200.3 399.6,200.3 399.6,200.3 399.7,200.3 399.7,200.3 399.8,200.3 399.8,200.3 399.9,200.3 399.9,200.3 400.0,200.3 400.0,200.3 400.1,200.3 400.1,200.3 400.2,200.3 400.2,200.3 400.2,200.3 400.3,200.3 400.3,200.3 400.4,200.3 400.4,200.3 400.5,200.3 400.5,200.3 400.6,200.3 400.6,200.3 400.7,200.3 400.7,200.3 400.7,200.3 400.8,200.3 400.8,200.3 400.9,200.3 400.9,200.3 401.0,200.3 401.0,200.3 401.1,200.3 401.1,200.3 401.2,200.3 401.2,200.3 401.3,200.3 401.3,200.3 401.3,200.3 401.4,200.3 401.4,200.3 401.5,200.3 401.5,200.3 401.6,200.3 401.6,200.3 401.7,200.3 401.7,200.3 401.8,200.3 401.8,200.3 401.8,200.3 401.9,200.3 401.9,200.3 402.0,200.3 402.0,200.3 402.1,200.3 402.1,200.3 402.2,200.3 402.2,200.3 402.3,200.3 402.3,200.3 402.4,200.3 402.4,200.3 402.4,200.3 402.5,200.3 402.5,200.3 402.6,200.3 402.6,200.3 402.7,200.3 402.7,200.3 402.8,200.3 402.8,200.3 402.9,200.3 402.9,200.3 403.0,200.3 403.0,200.3 403.0,200.3 403.1,200.3 403.1,200.3 403.2,200.3 403.2,200.3 403.3,200.3 403.3,200.3 403.4,200.3 403.4,200.3 403.5,200.3 403.5,200.3 403.5,200.3 403.6,200.3 403.6,200.3 403.7,200.3 403.7,200.3 403.8,200.3 403.8,200.3 403.9,200.3 403.9,200.3 404.0,200.3 404.0,200.3 404.1,200.3 404.1,200.3 404.1,200.3 404.2,200.3 404.2,200.3 404.3,200.3 404.3,200.3 404.4,200.3 404.4,200.3 404.5,200.3 404.5,200.3 404.6,200.3 404.6,200.3 404.6,200.3 404.7,200.3 404.7,200.3 404.8,200.3 404.8,200.3 404.9,200.3 404.9,200.3 405.0,200.3 405.0,200.3 405.1,200.3 405.1,200.3 405.2,200.3 405.2,200.3 405.2,200.3 405.3,200.3 405.3,200.3 405.4,200.3 405.4,200.3 405.5,200.3 405.5,200.3 405.6,200.3 405.6,200.3 405.7,200.3 405.7,200.3 405.8,200.3 405.8,200.3 405.8,200.3 405.9,200.3 405.9,200.3 406.0,200.3 406.0,200.3 406.1,200.3 406.1,200.3 406.2,200.3 406.2,200.3 406.3,200.3 406.3,200.3 406.3,200.3 406.4,200.3 406.4,200.3 406.5,200.3 406.5,200.3 406.6,200.3 406.6,200.3 406.7,200.3 406.7,200.3 406.8,200.3 406.8,200.3 406.9,200.3 406.9,200.3 406.9,200.3 407.0,200.3 407.0,200.3 407.1,200.3 407.1,200.3 407.2,200.3 407.2,200.3 407.3,200.3 407.3,200.3 407.4,200.3 407.4,200.3 407.4,200.3 407.5,200.3 407.5,200.3 407.6,200.3 407.6,200.3 407.7,200.3 407.7,200.3 407.8,200.3 407.8,202.9 407.9,205.6 407.9,208.2 408.0,210.9 408.0,213.6 408.0,216.2 408.1,218.9 408.1,221.5 408.2,224.2 408.2,226.9 408.3,229.5 408.3,232.2 408.4,234.9 408.4,237.5 408.5,240.2 408.5,242.8 408.6,242.8 408.6,242.8 408.6,242.8 408.7,242.8 408.7,242.8 408.8,242.8 408.8,242.8 408.9,242.8 408.9,242.8 409.0,242.8 409.0,242.8 409.1,242.8 409.1,242.8 409.1,242.8 409.2,242.8 409.2,242.8 409.3,242.8 409.3,242.8 409.4,242.8 409.4,242.8 409.5,242.8 409.5,242.8 409.6,242.8 409.6,242.8 409.7,242.8 409.7,242.8 409.7,242.8 409.8,242.8 409.8,242.8 409.9,242.8 409.9,242.8 410.0,242.8 410.0,242.8 410.1,242.8 410.1,242.8 410.2,242.8 410.2,242.8 410.2,242.8 410.3,242.8 410.3,242.8 410.4,242.8 410.4,242.8 410.5,242.8 410.5,242.8 410.6,242.8 410.6,242.8 410.7,242.8 410.7,242.8 410.8,242.8 410.8,242.8 410.8,242.8 410.9,242.8 410.9,242.8 411.0,242.8 411.0,242.8 411.1,242.8 411.1,242.8 411.2,242.8 411.2,242.8 411.3,242.8 411.3,242.8 411.4,242.8 411.4,242.8 411.4,242.8 411.5,242.8 411.5,242.8 411.6,242.8 411.6,242.8 411.7,242.8 411.7,242.8 411.8,242.8 411.8,242.8 411.9,242.8 411.9,242.8 411.9,242.8 412.0,242.8 412.0,242.8 412.1,242.8 412.1,242.8 412.2,242.8 412.2,242.8 412.3,242.8 412.3,242.8 412.4,242.8 412.4,242.8 412.5,242.8 412.5,242.8 412.5,242.8 412.6,242.8 412.6,242.8 412.7,242.8 412.7,242.8 412.8,242.8 412.8,242.8 412.9,242.8 412.9,242.8 413.0,242.8 413.0,242.8 413.0,242.8 413.1,242.8 413.1,242.8 413.2,242.8 413.2,242.8 413.3,242.8 413.3,242.8 413.4,242.8 413.4,242.8 413.5,242.8 413.5,242.8 413.6,242.8 413.6,242.8 413.6,242.8 413.7,242.8 413.7,242.8 413.8,242.8 413.8,242.8 413.9,242.8 413.9,242.8 414.0,242.8 414.0,242.8 414.1,242.8 414.1,242.8 414.2,242.8 414.2,242.8 414.2,242.8 414.3,242.8 414.3,242.8 414.4,242.8 414.4,242.8 414.5,242.8 414.5,242.8 414.6,242.8 414.6,242.8 414.7,242.8 414.7,242.8 414.7,242.8 414.8,242.8 414.8,242.8 414.9,242.8 414.9,242.8 415.0,242.8 415.0,242.8 415.1,242.8 415.1,242.8 415.2,242.8 415.2,242.8 415.3,242.8 415.3,242.8 415.3,242.8 415.4,242.8 415.4,242.8 415.5,242.8 415.5,242.8 415.6,242.8 415.6,242.8 415.7,242.8 415.7,242.8 415.8,242.8 415.8,242.8 415.8,242.8 415.9,242.8 415.9,242.8 416.0,242.8 416.0,242.8 416.1,242.8 416.1,242.8 416.2,242.8 416.2,242.8 416.3,242.8 416.3,242.8 416.4,242.8 416.4,242.8 416.4,242.8 416.5,242.8 416.5,242.8 416.6,242.8 416.6,242.8 416.7,242.8 416.7,242.8 416.8,242.8 416.8,242.8 416.9,242.8 416.9,242.8 417.0,242.8 417.0,242.8 417.0,242.8 417.1,242.8 417.1,242.8 417.2,242.8 417.2,242.8 417.3,242.8 417.3,242.8 417.4,242.8 417.4,242.8 417.5,242.8 417.5,242.8 417.5,242.8 417.6,242.8 417.6,242.8 417.7,242.8 417.7,242.8 417.8,242.8 417.8,242.8 417.9,242.8 417.9,242.8 418.0,242.8 418.0,242.8 418.1,242.8 418.1,242.8 418.1,242.8 418.2,242.8 418.2,242.8 418.3,242.8 418.3,242.8 418.4,242.8 418.4,242.8 418.5,242.8 418.5,242.8 418.6,242.8 418.6,242.8 418.6,242.8 418.7,242.8 418.7,242.8 418.8,242.8 418.8,242.8 418.9,242.8 418.9,242.8 419.0,242.8 419.0,242.8 419.1,242.8 419.1,242.8 419.2,242.8 419.2,242.8 419.2,242.8 419.3,242.8 419.3,242.8 419.4,242.8 419.4,242.8 419.5,242.8 419.5,242.8 419.6,242.8 419.6,242.8 419.7,242.8 419.7,242.8"/>
<polyline fill="none" stroke="#EDB120" stroke-width="2.20" stroke-linejoin="round" stroke-linecap="butt" points="336.4,163.1 336.5,164.4 336.5,165.7 336.6,167.1 336.6,168.4 336.7,169.7 336.7,171.0 336.8,172.3 336.8,173.6 336.9,174.9 336.9,176.3 336.9,175.1 337.0,173.9 337.0,172.8 337.1,171.7 337.1,170.6 337.2,169.5 337.2,168.4 337.3,167.4 337.3,166.3 337.4,165.4 337.4,164.4 337.5,163.5 337.5,162.6 337.5,161.7 337.6,160.8 337.6,159.9 337.7,159.1 337.7,158.2 337.8,157.4 337.8,156.5 337.9,155.7 337.9,154.9 338.0,154.1 338.0,153.3 338.0,152.6 338.1,151.8 338.1,151.0 338.2,150.3 338.2,149.5 338.3,148.8 338.3,148.0 338.4,147.3 338.4,146.5 338.5,145.8 338.5,145.0 338.6,144.3 338.6,143.5 338.6,142.8 338.7,142.0 338.7,141.3 338.8,140.5 338.8,139.8 338.9,139.0 338.9,138.3 339.0,137.5 339.0,136.7 339.1,135.9 339.1,135.1 339.2,134.3 339.2,133.5 339.2,132.7 339.3,131.9 339.3,131.0 339.4,130.2 339.4,129.4 339.5,128.6 339.5,127.7 339.6,126.9 339.6,126.0 339.7,125.2 339.7,124.4 339.7,123.6 339.8,122.7 339.8,121.9 339.9,121.1 339.9,120.3 340.0,119.5 340.0,118.7 340.1,118.0 340.1,117.2 340.2,116.4 340.2,115.7 340.3,115.0 340.3,114.3 340.3,113.6 340.4,112.9 340.4,112.2 340.5,111.6 340.5,110.9 340.6,110.3 340.6,109.7 340.7,109.1 340.7,108.4 340.8,107.8 340.8,107.2 340.8,106.6 340.9,106.1 340.9,105.5 341.0,104.9 341.0,104.4 341.1,103.8 341.1,103.3 341.2,102.7 341.2,102.2 341.3,101.7 341.3,101.2 341.4,100.7 341.4,100.3 341.4,99.8 341.5,99.4 341.5,98.9 341.6,98.5 341.6,98.1 341.7,97.7 341.7,97.3 341.8,96.9 341.8,96.5 341.9,96.1 341.9,95.7 342.0,95.4 342.0,95.0 342.0,94.6 342.1,94.3 342.1,93.9 342.2,93.6 342.2,93.3 342.3,92.9 342.3,92.6 342.4,92.3 342.4,92.0 342.5,91.7 342.5,91.5 342.5,91.2 342.6,90.9 342.6,90.7 342.7,90.5 342.7,90.3 342.8,90.1 342.8,89.9 342.9,89.7 342.9,89.5 343.0,89.3 343.0,89.1 343.1,89.0 343.1,88.8 343.1,88.6 343.2,88.5 343.2,88.3 343.3,88.2 343.3,88.0 343.4,87.9 343.4,87.8 343.5,87.7 343.5,87.5 343.6,87.4 343.6,87.3 343.6,87.3 343.7,87.2 343.7,87.1 343.8,87.1 343.8,87.0 343.9,87.0 343.9,86.9 344.0,86.9 344.0,86.8 344.1,86.8 344.1,86.7 344.2,86.7 344.2,86.7 344.2,86.6 344.3,86.6 344.3,86.6 344.4,86.5 344.4,86.5 344.5,86.5 344.5,86.5 344.6,86.5 344.6,86.5 344.7,86.5 344.7,86.5 344.8,86.5 344.8,86.5 344.8,86.5 344.9,86.5 344.9,86.6 345.0,86.6 345.0,86.6 345.1,86.7 345.1,86.7 345.2,86.7 345.2,86.8 345.3,86.8 345.3,86.9 345.3,86.9 345.4,87.0 345.4,87.0 345.5,87.1 345.5,87.2 345.6,87.2 345.6,87.3 345.7,87.4 345.7,87.5 345.8,87.6 345.8,87.6 345.9,87.7 345.9,87.8 345.9,87.9 346.0,88.0 346.0,88.1 346.1,88.2 346.1,88.3 346.2,88.4 346.2,88.5 346.3,88.6 346.3,88.7 346.4,88.8 346.4,89.0 346.4,89.1 346.5,89.2 346.5,89.3 346.6,89.4 346.6,89.5 346.7,89.7 346.7,89.8 346.8,89.9 346.8,90.1 346.9,90.2 346.9,90.3 347.0,90.4 347.0,90.6 347.0,90.7 347.1,90.8 347.1,91.0 347.2,91.1 347.2,91.2 347.3,91.4 347.3,91.5 347.4,91.6 347.4,91.8 347.5,91.9 347.5,92.0 347.6,92.2 347.6,92.3 347.6,92.4 347.7,92.6 347.7,92.7 347.8,92.8 347.8,92.9 347.9,93.1 347.9,93.2 348.0,93.3 348.0,93.4 348.1,93.6 348.1,93.7 348.1,93.8 348.2,93.9 348.2,94.0 348.3,94.2 348.3,94.3 348.4,94.4 348.4,94.5 348.5,94.6 348.5,94.7 348.6,94.8 348.6,94.9 348.7,95.0 348.7,95.1 348.7,95.2 348.8,95.3 348.8,95.4 348.9,95.4 348.9,95.5 349.0,95.6 349.0,95.7 349.1,95.8 349.1,95.8 349.2,95.9 349.2,96.0 349.2,96.0 349.3,96.1 349.3,96.1 349.4,96.2 349.4,96.2 349.5,96.3 349.5,96.3 349.6,96.3 349.6,96.4 349.7,96.4 349.7,96.4 349.8,96.5 349.8,96.5 349.8,96.5 349.9,96.5 349.9,96.5 350.0,96.5 350.0,96.5 350.1,96.5 350.1,96.5 350.2,96.5 350.2,96.5 350.3,96.5 350.3,96.4 350.3,96.4 350.4,96.4 350.4,96.3 350.5,96.3 350.5,96.2 350.6,96.2 350.6,96.1 350.7,96.1 350.7,96.0 350.8,95.9 350.8,95.9 350.9,95.8 350.9,95.7 350.9,95.6 351.0,95.5 351.0,95.5 351.1,95.4 351.1,95.3 351.2,95.1 351.2,95.0 351.3,94.9 351.3,94.8 351.4,94.7 351.4,94.6 351.5,94.4 351.5,94.3 351.5,94.2 351.6,94.0 351.6,93.9 351.7,93.7 351.7,93.6 351.8,93.4 351.8,93.3 351.9,93.1 351.9,92.9 352.0,92.8 352.0,92.6 352.0,92.4 352.1,92.3 352.1,92.1 352.2,91.9 352.2,91.7 352.3,91.5 352.3,91.3 352.4,91.1 352.4,90.9 352.5,90.7 352.5,90.5 352.6,90.3 352.6,90.1 352.6,89.9 352.7,89.7 352.7,89.5 352.8,89.3 352.8,89.1 352.9,88.9 352.9,88.6 353.0,88.4 353.0,88.2 353.1,88.0 353.1,87.7 353.1,87.5 353.2,87.3 353.2,87.1 353.3,86.8 353.3,86.6 353.4,86.4 353.4,86.1 353.5,85.9 353.5,85.7 353.6,85.4 353.6,85.2 353.7,85.0 353.7,84.7 353.7,84.5 353.8,84.2 353.8,84.0 353.9,83.8 353.9,83.5 354.0,83.3 354.0,83.0 354.1,82.8 354.1,82.6 354.2,82.3 354.2,82.1 354.3,81.9 354.3,81.6 354.3,81.4 354.4,81.2 354.4,80.9 354.5,80.7 354.5,80.5 354.6,80.2 354.6,80.0 354.7,79.8 354.7,79.5 354.8,79.3 354.8,79.1 354.8,78.9 354.9,78.7 354.9,78.4 355.0,78.2 355.0,78.0 355.1,77.8 355.1,77.6 355.2,77.3 355.2,77.1 355.3,76.9 355.3,76.6 355.4,76.4 355.4,76.1 355.4,75.9 355.5,75.6 355.5,75.4 355.6,75.1 355.6,74.8 355.7,74.6 355.7,74.3 355.8,74.1 355.8,73.8 355.9,73.6 355.9,73.3 355.9,73.1 356.0,72.8 356.0,72.6 356.1,72.3 356.1,72.1 356.2,71.8 356.2,71.6 356.3,71.3 356.3,71.1 356.4,70.8 356.4,70.6 356.5,70.4 356.5,70.1 356.5,69.9 356.6,69.7 356.6,69.4 356.7,69.2 356.7,69.0 356.8,68.7 356.8,68.5 356.9,68.3 356.9,68.1 357.0,67.9 357.0,67.7 357.1,67.5 357.1,67.3 357.1,67.0 357.2,66.8 357.2,66.7 357.3,66.5 357.3,66.3 357.4,66.1 357.4,65.9 357.5,65.7 357.5,65.5 357.6,65.3 357.6,65.2 357.6,65.0 357.7,64.8 357.7,64.7 357.8,64.8 357.8,65.0 357.9,65.2 357.9,65.4 358.0,65.5 358.0,65.7 358.1,65.9 358.1,66.1 358.2,66.3 358.2,66.5 358.2,66.7 358.3,66.9 358.3,67.1 358.4,67.3 358.4,67.5 358.5,67.7 358.5,67.9 358.6,68.1 358.6,68.4 358.7,68.6 358.7,68.8 358.7,69.0 358.8,69.3 358.8,69.5 358.9,69.7 358.9,70.0 359.0,70.2 359.0,70.5 359.1,70.7 359.1,70.9 359.2,71.2 359.2,71.4 359.3,71.7 359.3,71.9 359.3,72.2 359.4,72.5 359.4,72.7 359.5,73.0 359.5,73.2 359.6,73.5 359.6,73.8 359.7,74.0 359.7,74.3 359.8,74.5 359.8,74.8 359.9,75.1 359.9,75.3 359.9,75.6 360.0,75.9 360.0,76.1 360.1,76.4 360.1,76.6 360.2,76.9 360.2,77.2 360.3,77.4 360.3,77.7 360.4,77.9 360.4,78.1 360.4,78.4 360.5,78.6 360.5,78.8 360.6,79.0 360.6,79.3 360.7,79.5 360.7,79.7 360.8,79.9 360.8,80.2 360.9,80.4 360.9,80.7 361.0,80.9 361.0,81.1 361.0,81.4 361.1,81.6 361.1,81.8 361.2,82.1 361.2,82.3 361.3,82.6 361.3,82.8 361.4,83.1 361.4,83.3 361.5,83.5 361.5,83.8 361.5,84.0 361.6,84.3 361.6,84.5 361.7,84.8 361.7,85.0 361.8,85.2 361.8,85.5 361.9,85.7 361.9,86.0 362.0,86.2 362.0,86.4 362.1,86.7 362.1,86.9 362.1,87.1 362.2,87.4 362.2,87.6 362.3,87.8 362.3,88.1 362.4,88.3 362.4,88.5 362.5,88.7 362.5,89.0 362.6,89.2 362.6,89.4 362.7,89.6 362.7,89.8 362.7,90.0 362.8,90.2 362.8,90.4 362.9,90.6 362.9,90.8 363.0,91.0 363.0,91.2 363.1,91.4 363.1,91.6 363.2,91.8 363.2,92.0 363.2,92.2 363.3,92.3 363.3,92.5 363.4,92.7 363.4,92.8 363.5,93.0 363.5,93.2 363.6,93.3 363.6,93.5 363.7,93.6 363.7,93.7 363.8,93.9 363.8,94.0 363.8,94.2 363.9,94.3 363.9,94.4 364.0,94.5 364.0,94.6 364.1,94.8 364.1,94.9 364.2,95.0 364.2,95.1 364.3,95.2 364.3,95.2 364.3,95.3 364.4,95.4 364.4,95.5 364.5,95.6 364.5,95.6 364.6,95.7 364.6,95.7 364.7,95.8 364.7,95.9 364.8,95.9 364.8,95.9 364.9,96.0 364.9,96.0 364.9,96.0 365.0,96.0 365.0,96.1 365.1,96.1 365.1,96.1 365.2,96.1 365.2,96.1 365.3,96.1 365.3,96.1 365.4,96.0 365.4,96.0 365.5,96.0 365.5,96.0 365.5,95.9 365.6,95.9 365.6,95.8 365.7,95.8 365.7,95.7 365.8,95.7 365.8,95.6 365.9,95.5 365.9,95.4 366.0,95.4 366.0,95.3 366.0,95.2 366.1,95.1 366.1,95.0 366.2,94.9 366.2,94.8 366.3,94.6 366.3,94.5 366.4,94.4 366.4,94.3 366.5,94.1 366.5,94.0 366.6,93.9 366.6,93.7 366.6,93.6 366.7,93.4 366.7,93.3 366.8,93.1 366.8,92.9 366.9,92.8 366.9,92.6 367.0,92.4 367.0,92.2 367.1,92.0 367.1,91.9 367.1,91.7 367.2,91.5 367.2,91.3 367.3,91.1 367.3,90.9 367.4,90.7 367.4,90.5 367.5,90.2 367.5,90.0 367.6,89.8 367.6,89.6 367.7,89.4 367.7,89.1 367.7,88.9 367.8,88.7 367.8,88.5 367.9,88.2 367.9,88.0 368.0,87.8 368.0,87.5 368.1,87.3 368.1,87.0 368.2,86.8 368.2,86.5 368.3,86.3 368.3,86.1 368.3,85.8 368.4,85.6 368.4,85.3 368.5,85.1 368.5,84.8 368.6,84.6 368.6,84.3 368.7,84.0 368.7,83.8 368.8,83.5 368.8,83.3 368.8,83.0 368.9,82.8 368.9,82.5 369.0,82.3 369.0,82.0 369.1,81.8 369.1,81.5 369.2,81.3 369.2,81.0 369.3,80.8 369.3,80.5 369.4,80.3 369.4,80.1 369.4,79.8 369.5,79.6 369.5,79.3 369.6,79.1 369.6,78.9 369.7,78.6 369.7,78.4 369.8,78.1 369.8,77.9 369.9,77.6 369.9,77.3 369.9,77.1 370.0,76.8 370.0,76.5 370.1,76.2 370.1,76.0 370.2,75.7 370.2,75.4 370.3,75.1 370.3,74.9 370.4,74.6 370.4,74.3 370.5,74.0 370.5,73.8 370.5,73.5 370.6,73.2 370.6,72.9 370.7,72.7 370.7,72.4 370.8,72.1 370.8,71.9 370.9,71.6 370.9,71.4 371.0,71.1 371.0,70.8 371.1,70.6 371.1,70.3 371.1,70.1 371.2,69.8 371.2,69.6 371.3,69.4 371.3,69.1 371.4,68.9 371.4,68.6 371.5,68.4 371.5,68.2 371.6,68.0 371.6,67.7 371.6,67.5 371.7,67.3 371.7,67.1 371.8,66.9 371.8,66.7 371.9,66.5 371.9,66.3 372.0,66.1 372.0,65.9 372.1,65.7 372.1,65.5 372.2,65.4 372.2,65.2 372.2,65.0 372.3,64.8 372.3,64.7 372.4,64.8 372.4,65.0 372.5,65.2 372.5,65.4 372.6,65.5 372.6,65.7 372.7,65.9 372.7,66.1 372.7,66.3 372.8,66.5 372.8,66.7 372.9,66.9 372.9,67.1 373.0,67.3 373.0,67.5 373.1,67.7 373.1,68.0 373.2,68.2 373.2,68.4 373.3,68.6 373.3,68.9 373.3,69.1 373.4,69.4 373.4,69.6 373.5,69.8 373.5,70.1 373.6,70.3 373.6,70.6 373.7,70.8 373.7,71.1 373.8,71.4 373.8,71.6 373.9,71.9 373.9,72.1 373.9,72.4 374.0,72.7 374.0,72.9 374.1,73.2 374.1,73.5 374.2,73.8 374.2,74.0 374.3,74.3 374.3,74.6 374.4,74.9 374.4,75.1 374.4,75.4 374.5,75.7 374.5,76.0 374.6,76.2 374.6,76.5 374.7,76.8 374.7,77.1 374.8,77.3 374.8,77.6 374.9,77.9 374.9,78.1 375.0,78.4 375.0,78.6 375.0,78.9 375.1,79.1 375.1,79.3 375.2,79.6 375.2,79.8 375.3,80.1 375.3,80.3 375.4,80.5 375.4,80.8 375.5,81.0 375.5,81.3 375.5,81.5 375.6,81.8 375.6,82.0 375.7,82.3 375.7,82.5 375.8,82.8 375.8,83.0 375.9,83.3 375.9,83.5 376.0,83.8 376.0,84.0 376.1,84.3 376.1,84.6 376.1,84.8 376.2,85.1 376.2,85.3 376.3,85.6 376.3,85.8 376.4,86.1 376.4,86.3 376.5,86.5 376.5,86.8 376.6,87.0 376.6,87.3 376.7,87.5 376.7,87.8 376.7,88.0 376.8,88.2 376.8,88.5 376.9,88.7 376.9,88.9 377.0,89.1 377.0,89.4 377.1,89.6 377.1,89.8 377.2,90.0 377.2,90.2 377.2,90.5 377.3,90.7 377.3,90.9 377.4,91.1 377.4,91.3 377.5,91.5 377.5,91.7 377.6,91.9 377.6,92.0 377.7,92.2 377.7,92.4 377.8,92.6 377.8,92.8 377.8,92.9 377.9,93.1 377.9,93.3 378.0,93.4 378.0,93.6 378.1,93.7 378.1,93.9 378.2,94.0 378.2,94.1 378.3,94.3 378.3,94.4 378.3,94.5 378.4,94.6 378.4,94.8 378.5,94.9 378.5,95.0 378.6,95.1 378.6,95.2 378.7,95.3 378.7,95.4 378.8,95.4 378.8,95.5 378.9,95.6 378.9,95.7 378.9,95.7 379.0,95.8 379.0,95.8 379.1,95.9 379.1,95.9 379.2,96.0 379.2,96.0 379.3,96.0 379.3,96.0 379.4,96.1 379.4,96.1 379.5,96.1 379.5,96.1 379.5,96.1 379.6,96.1 379.6,96.1 379.7,96.0 379.7,96.0 379.8,96.0 379.8,96.0 379.9,95.9 379.9,95.9 380.0,95.9 380.0,95.8 380.0,95.7 380.1,95.7 380.1,95.6 380.2,95.6 380.2,95.5 380.3,95.4 380.3,95.3 380.4,95.2 380.4,95.2 380.5,95.1 380.5,95.0 380.6,94.9 380.6,94.8 380.6,94.6 380.7,94.5 380.7,94.4 380.8,94.3 380.8,94.2 380.9,94.0 380.9,93.9 381.0,93.7 381.0,93.6 381.1,93.5 381.1,93.3 381.1,93.2 381.2,93.0 381.2,92.8 381.3,92.7 381.3,92.5 381.4,92.3 381.4,92.2 381.5,92.0 381.5,91.8 381.6,91.6 381.6,91.4 381.7,91.2 381.7,91.0 381.7,90.8 381.8,90.6 381.8,90.4 381.9,90.2 381.9,90.0 382.0,89.8 382.0,89.6 382.1,89.4 382.1,89.2 382.2,89.0 382.2,88.7 382.3,88.5 382.3,88.3 382.3,88.1 382.4,87.8 382.4,87.6 382.5,87.4 382.5,87.1 382.6,86.9 382.6,86.7 382.7,86.4 382.7,86.2 382.8,86.0 382.8,85.7 382.8,85.5 382.9,85.2 382.9,85.0 383.0,84.8 383.0,84.5 383.1,84.3 383.1,84.0 383.2,83.8 383.2,83.5 383.3,83.3 383.3,83.1 383.4,82.8 383.4,82.6 383.4,82.3 383.5,82.1 383.5,81.8 383.6,81.6 383.6,81.4 383.7,81.1 383.7,80.9 383.8,80.7 383.8,80.4 383.9,80.2 383.9,79.9 383.9,79.7 384.0,79.5 384.0,79.3 384.1,79.0 384.1,78.8 384.2,78.6 384.2,78.4 384.3,78.1 384.3,77.9 384.4,77.7 384.4,77.4 384.5,77.2 384.5,76.9 384.5,76.6 384.6,76.4 384.6,76.1 384.7,75.9 384.7,75.6 384.8,75.3 384.8,75.1 384.9,74.8 384.9,74.5 385.0,74.3 385.0,74.0 385.1,73.8 385.1,73.5 385.1,73.2 385.2,73.0 385.2,72.7 385.3,72.5 385.3,72.2 385.4,71.9 385.4,71.7 385.5,71.4 385.5,71.2 385.6,70.9 385.6,70.7 385.6,70.5 385.7,70.2 385.7,70.0 385.8,69.7 385.8,69.5 385.9,69.3 385.9,69.0 386.0,68.8 386.0,68.6 386.1,68.4 386.1,68.1 386.2,67.9 386.2,67.7 386.2,67.5 386.3,67.3 386.3,67.1 386.4,66.9 386.4,66.7 386.5,66.5 386.5,66.3 386.6,66.1 386.6,65.9 386.7,65.7 386.7,65.5 386.7,65.4 386.8,65.2 386.8,65.0 386.9,64.8 386.9,64.7 387.0,64.8 387.0,65.0 387.1,65.2 387.1,65.3 387.2,65.5 387.2,65.7 387.3,65.9 387.3,66.1 387.3,66.3 387.4,66.5 387.4,66.7 387.5,66.8 387.5,67.0 387.6,67.3 387.6,67.5 387.7,67.7 387.7,67.9 387.8,68.1 387.8,68.3 387.9,68.5 387.9,68.7 387.9,69.0 388.0,69.2 388.0,69.4 388.1,69.7 388.1,69.9 388.2,70.1 388.2,70.4 388.3,70.6 388.3,70.8 388.4,71.1 388.4,71.3 388.4,71.6 388.5,71.8 388.5,72.1 388.6,72.3 388.6,72.6 388.7,72.8 388.7,73.1 388.8,73.3 388.8,73.6 388.9,73.8 388.9,74.1 389.0,74.3 389.0,74.6 389.0,74.8 389.1,75.1 389.1,75.4 389.2,75.6 389.2,75.9 389.3,76.1 389.3,76.4 389.4,76.6 389.4,76.9 389.5,77.1 389.5,77.3 389.5,77.6 389.6,77.8 389.6,78.0 389.7,78.2 389.7,78.4 389.8,78.7 389.8,78.9 389.9,79.1 389.9,79.3 390.0,79.5 390.0,79.8 390.1,80.0 390.1,80.2 390.1,80.5 390.2,80.7 390.2,80.9 390.3,81.2 390.3,81.4 390.4,81.6 390.4,81.9 390.5,82.1 390.5,82.3 390.6,82.6 390.6,82.8 390.7,83.0 390.7,83.3 390.7,83.5 390.8,83.8 390.8,84.0 390.9,84.2 390.9,84.5 391.0,84.7 391.0,85.0 391.1,85.2 391.1,85.4 391.2,85.7 391.2,85.9 391.2,86.1 391.3,86.4 391.3,86.6 391.4,86.8 391.4,87.1 391.5,87.3 391.5,87.5 391.6,87.7 391.6,88.0 391.7,88.2 391.7,88.4 391.8,88.6 391.8,88.9 391.8,89.1 391.9,89.3 391.9,89.5 392.0,89.7 392.0,89.9 392.1,90.1 392.1,90.3 392.2,90.5 392.2,90.7 392.3,90.9 392.3,91.1 392.3,91.3 392.4,91.5 392.4,91.7 392.5,91.9 392.5,92.1 392.6,92.3 392.6,92.4 392.7,92.6 392.7,92.8 392.8,92.9 392.8,93.1 392.9,93.3 392.9,93.4 392.9,93.6 393.0,93.7 393.0,93.9 393.1,94.0 393.1,94.2 393.2,94.3 393.2,94.4 393.3,94.6 393.3,94.7 393.4,94.8 393.4,94.9 393.4,95.0 393.5,95.1 393.5,95.3 393.6,95.4 393.6,95.5 393.7,95.5 393.7,95.6 393.8,95.7 393.8,95.8 393.9,95.9 393.9,95.9 394.0,96.0 394.0,96.1 394.0,96.1 394.1,96.2 394.1,96.2 394.2,96.3 394.2,96.3 394.3,96.4 394.3,96.4 394.4,96.4 394.4,96.5 394.5,96.5 394.5,96.5 394.6,96.5 394.6,96.5 394.6,96.5 394.7,96.5 394.7,96.5 394.8,96.5 394.8,96.5 394.9,96.5 394.9,96.5 395.0,96.4 395.0,96.4 395.1,96.4 395.1,96.3 395.1,96.3 395.2,96.3 395.2,96.2 395.3,96.2 395.3,96.1 395.4,96.1 395.4,96.0 395.5,96.0 395.5,95.9 395.6,95.8 395.6,95.8 395.7,95.7 395.7,95.6 395.7,95.5 395.8,95.4 395.8,95.4 395.9,95.3 395.9,95.2 396.0,95.1 396.0,95.0 396.1,94.9 396.1,94.8 396.2,94.7 396.2,94.6 396.2,94.5 396.3,94.4 396.3,94.3 396.4,94.2 396.4,94.0 396.5,93.9 396.5,93.8 396.6,93.7 396.6,93.6 396.7,93.4 396.7,93.3 396.8,93.2 396.8,93.1 396.8,92.9 396.9,92.8 396.9,92.7 397.0,92.6 397.0,92.4 397.1,92.3 397.1,92.2 397.2,92.0 397.2,91.9 397.3,91.8 397.3,91.6 397.4,91.5 397.4,91.4 397.4,91.2 397.5,91.1 397.5,91.0 397.6,90.8 397.6,90.7 397.7,90.6 397.7,90.4 397.8,90.3 397.8,90.2 397.9,90.1 397.9,89.9 397.9,89.8 398.0,89.7 398.0,89.5 398.1,89.4 398.1,89.3 398.2,89.2 398.2,89.1 398.3,89.0 398.3,88.8 398.4,88.7 398.4,88.6 398.5,88.5 398.5,88.4 398.5,88.3 398.6,88.2 398.6,88.1 398.7,88.0 398.7,87.9 398.8,87.8 398.8,87.7 398.9,87.6 398.9,87.6 399.0,87.5 399.0,87.4 399.0,87.3 399.1,87.2 399.1,87.2 399.2,87.1 399.2,87.0 399.3,87.0 399.3,86.9 399.4,86.9 399.4,86.8 399.5,86.8 399.5,86.7 399.6,86.7 399.6,86.7 399.6,86.6 399.7,86.6 399.7,86.6 399.8,86.5 399.8,86.5 399.9,86.5 399.9,86.5 400.0,86.5 400.0,86.5 400.1,86.5 400.1,86.5 400.2,86.5 400.2,86.5 400.2,86.5 400.3,86.5 400.3,86.6 400.4,86.6 400.4,86.6 400.5,86.7 400.5,86.7 400.6,86.7 400.6,86.8 400.7,86.8 400.7,86.9 400.7,86.9 400.8,87.0 400.8,87.0 400.9,87.1 400.9,87.1 401.0,87.2 401.0,87.3 401.1,87.3 401.1,87.4 401.2,87.5 401.2,87.7 401.3,87.8 401.3,87.9 401.3,88.0 401.4,88.2 401.4,88.3 401.5,88.5 401.5,88.6 401.6,88.8 401.6,89.0 401.7,89.1 401.7,89.3 401.8,89.5 401.8,89.7 401.8,89.9 401.9,90.1 401.9,90.3 402.0,90.5 402.0,90.7 402.1,90.9 402.1,91.2 402.2,91.5 402.2,91.7 402.3,92.0 402.3,92.3 402.4,92.6 402.4,92.9 402.4,93.3 402.5,93.6 402.5,93.9 402.6,94.3 402.6,94.6 402.7,95.0 402.7,95.4 402.8,95.7 402.8,96.1 402.9,96.5 402.9,96.9 403.0,97.3 403.0,97.7 403.0,98.1 403.1,98.5 403.1,98.9 403.2,99.4 403.2,99.8 403.3,100.3 403.3,100.7 403.4,101.2 403.4,101.7 403.5,102.2 403.5,102.7 403.5,103.3 403.6,103.8 403.6,104.4 403.7,104.9 403.7,105.5 403.8,106.1 403.8,106.6 403.9,107.2 403.9,107.8 404.0,108.4 404.0,109.1 404.1,109.7 404.1,110.3 404.1,110.9 404.2,111.6 404.2,112.2 404.3,112.9 404.3,113.6 404.4,114.3 404.4,115.0 404.5,115.7 404.5,116.4 404.6,117.2 404.6,118.0 404.6,118.7 404.7,119.5 404.7,120.3 404.8,121.1 404.8,121.9 404.9,122.7 404.9,123.6 405.0,124.4 405.0,125.2 405.1,126.0 405.1,126.9 405.2,127.7 405.2,128.6 405.2,129.4 405.3,130.2 405.3,131.0 405.4,131.9 405.4,132.7 405.5,133.5 405.5,134.3 405.6,135.1 405.6,135.9 405.7,136.7 405.7,137.5 405.8,138.3 405.8,139.0 405.8,139.8 405.9,140.5 405.9,141.3 406.0,142.0 406.0,142.8 406.1,143.5 406.1,144.3 406.2,145.0 406.2,145.8 406.3,146.5 406.3,147.3 406.3,148.0 406.4,148.8 406.4,149.5 406.5,150.3 406.5,151.0 406.6,151.8 406.6,152.6 406.7,153.3 406.7,154.1 406.8,154.9 406.8,155.7 406.9,156.5 406.9,157.4 406.9,158.2 407.0,159.1 407.0,159.9 407.1,160.8 407.1,161.7 407.2,162.6 407.2,163.5 407.3,164.4 407.3,165.4 407.4,166.3 407.4,167.4 407.4,168.4 407.5,169.5 407.5,170.6 407.6,171.7 407.6,172.8 407.7,173.9 407.7,175.1 407.8,176.3 407.8,174.9 407.9,173.6 407.9,172.3 408.0,171.0 408.0,169.7 408.0,168.4 408.1,167.1 408.1,165.7 408.2,164.4 408.2,163.1 408.3,161.7 408.3,160.3 408.4,158.9 408.4,157.5 408.5,156.1 408.5,154.7"/>
<polyline fill="none" stroke="#000000" stroke-width="2.20" stroke-linejoin="round" stroke-linecap="butt" points="324.6,242.8 324.7,242.8 324.9,242.8 325.0,242.8 325.2,242.8 325.3,242.8 325.4,242.8 325.6,242.8 325.7,242.8 325.8,242.8 326.0,242.8 326.1,242.8 326.3,242.8 326.4,242.8 326.5,242.8 326.7,242.8 326.8,242.8 326.9,242.8 327.1,242.8 327.2,242.8 327.4,242.8 327.5,242.8 327.6,242.8 327.8,242.8 327.9,242.8 328.0,242.8 328.2,242.8 328.3,242.8 328.5,242.6 328.6,242.5 328.7,242.3 328.9,242.1 329.0,241.8 329.1,241.6 329.3,241.3 329.4,241.0 329.6,240.7 329.7,240.4 329.8,240.0 330.0,239.5 330.1,239.1 330.2,238.6 330.4,238.0 330.5,237.5 330.7,236.9 330.8,236.3 330.9,235.7 331.1,235.0 331.2,234.3 331.3,233.5 331.5,232.7 331.6,231.8 331.8,230.9 331.9,229.9 332.0,228.8 332.2,227.7 332.3,226.3 332.4,224.8 332.6,223.1 332.7,221.2 332.9,219.3 333.0,217.4 333.1,215.4 333.3,213.5 333.4,211.7 333.6,209.7 333.7,207.7 333.8,205.5 334.0,203.2 334.1,200.5 334.2,197.7 334.4,194.7 334.5,191.6 334.7,188.5 334.8,185.4 334.9,182.3 335.1,179.3 335.2,176.3 335.3,173.3 335.5,170.3 335.6,167.2 335.8,164.1 335.9,161.0 336.0,157.9 336.2,154.7 336.3,151.4 336.4,148.1 336.6,144.6 336.7,141.0 336.9,137.4 337.0,133.9 337.1,130.5 337.3,127.3 337.4,124.4 337.5,121.7 337.7,119.0 337.8,116.5 338.0,114.1 338.1,111.8 338.2,109.5 338.4,107.2 338.5,105.0 338.6,102.8 338.8,100.5 338.9,98.2 339.1,95.9 339.2,93.5 339.3,91.0 339.5,88.5 339.6,86.0 339.7,83.5 339.9,81.1 340.0,78.7 340.2,76.4 340.3,74.2 340.4,72.2 340.6,70.3 340.7,68.4 340.8,66.6 341.0,64.9 341.1,63.3 341.3,61.7 341.4,60.3 341.5,58.9 341.7,57.7 341.8,56.5 342.0,55.4 342.1,54.3 342.2,53.2 342.4,52.3 342.5,51.4 342.6,50.7 342.8,50.1 342.9,49.5 343.1,49.0 343.2,48.5 343.3,48.0 343.5,47.6 343.6,47.3 343.7,47.1 343.9,46.9 344.0,46.8 344.2,46.7 344.3,46.6 344.4,46.5 344.6,46.5 344.7,46.5 344.8,46.5 345.0,46.6 345.1,46.7 345.3,46.8 345.4,47.0 345.5,47.2 345.7,47.4 345.8,47.6 345.9,47.9 346.1,48.2 346.2,48.5 346.4,48.8 346.5,49.2 346.6,49.5 346.8,49.9 346.9,50.3 347.0,50.7 347.2,51.1 347.3,51.5 347.5,51.9 347.6,52.3 347.7,52.7 347.9,53.1 348.0,53.4 348.1,53.8 348.3,54.1 348.4,54.5 348.6,54.8 348.7,55.1 348.8,55.3 349.0,55.6 349.1,55.8 349.2,56.0 349.4,56.2 349.5,56.3 349.7,56.4 349.8,56.5 349.9,56.5 350.1,56.5 350.2,56.5 350.3,56.4 350.5,56.3 350.6,56.1 350.8,55.9 350.9,55.7 351.0,55.4 351.2,55.1 351.3,54.8 351.5,54.4 351.6,54.0 351.7,53.6 351.9,53.1 352.0,52.6 352.1,52.1 352.3,51.5 352.4,50.9 352.6,50.3 352.7,49.7 352.8,49.1 353.0,48.4 353.1,47.7 353.2,47.0 353.4,46.3 353.5,45.6 353.7,44.9 353.8,44.2 353.9,43.5 354.1,42.8 354.2,42.1 354.3,41.4 354.5,40.7 354.6,40.0 354.8,39.3 354.9,38.6 355.0,38.0 355.2,37.4 355.3,36.8 355.4,36.2 355.6,35.6 355.7,35.1 355.9,34.6 356.0,34.1 356.1,33.6 356.3,33.2 356.4,32.8 356.5,32.5 356.7,32.1 356.8,31.9 357.0,31.6 357.1,31.4 357.2,31.3 357.4,31.1 357.5,31.0 357.6,31.0 357.8,31.0 357.9,31.0 358.1,31.1 358.2,31.2 358.3,31.4 358.5,31.6 358.6,31.8 358.7,32.1 358.9,32.4 359.0,32.8 359.2,33.2 359.3,33.6 359.4,34.1 359.6,34.6 359.7,35.1 359.9,35.7 360.0,36.2 360.1,36.8 360.3,37.5 360.4,38.1 360.5,38.8 360.7,39.5 360.8,40.2 361.0,40.9 361.1,41.6 361.2,42.3 361.4,43.0 361.5,43.8 361.6,44.5 361.8,45.2 361.9,45.9 362.1,46.7 362.2,47.4 362.3,48.0 362.5,48.7 362.6,49.4 362.7,50.0 362.9,50.6 363.0,51.2 363.2,51.8 363.3,52.3 363.4,52.8 363.6,53.3 363.7,53.7 363.8,54.1 364.0,54.5 364.1,54.8 364.3,55.1 364.4,55.4 364.5,55.6 364.7,55.8 364.8,55.9 364.9,56.0 365.1,56.1 365.2,56.1 365.4,56.0 365.5,55.9 365.6,55.8 365.8,55.6 365.9,55.4 366.0,55.2 366.2,54.9 366.3,54.5 366.5,54.1 366.6,53.7 366.7,53.2 366.9,52.7 367.0,52.2 367.1,51.7 367.3,51.1 367.4,50.4 367.6,49.8 367.7,49.1 367.8,48.4 368.0,47.7 368.1,47.0 368.3,46.3 368.4,45.5 368.5,44.8 368.7,44.0 368.8,43.3 368.9,42.5 369.1,41.8 369.2,41.0 369.4,40.3 369.5,39.6 369.6,38.8 369.8,38.2 369.9,37.5 370.0,36.8 370.2,36.2 370.3,35.6 370.5,35.0 370.6,34.5 370.7,34.0 370.9,33.5 371.0,33.1 371.1,32.7 371.3,32.3 371.4,32.0 371.6,31.7 371.7,31.5 371.8,31.3 372.0,31.1 372.1,31.1 372.2,31.0 372.4,31.0 372.5,31.0 372.7,31.1 372.8,31.2 372.9,31.4 373.1,31.6 373.2,31.9 373.3,32.2 373.5,32.5 373.6,32.9 373.8,33.4 373.9,33.8 374.0,34.3 374.2,34.8 374.3,35.4 374.4,36.0 374.6,36.6 374.7,37.3 374.9,37.9 375.0,38.6 375.1,39.3 375.3,40.0 375.4,40.8 375.5,41.5 375.7,42.3 375.8,43.0 376.0,43.8 376.1,44.5 376.2,45.3 376.4,46.0 376.5,46.8 376.7,47.5 376.8,48.2 376.9,48.9 377.1,49.6 377.2,50.2 377.3,50.9 377.5,51.5 377.6,52.0 377.8,52.6 377.9,53.1 378.0,53.6 378.2,54.0 378.3,54.4 378.4,54.7 378.6,55.1 378.7,55.3 378.9,55.6 379.0,55.8 379.1,55.9 379.3,56.0 379.4,56.1 379.5,56.1 379.7,56.0 379.8,56.0 380.0,55.8 380.1,55.7 380.2,55.5 380.4,55.2 380.5,54.9 380.6,54.6 380.8,54.3 380.9,53.9 381.1,53.4 381.2,53.0 381.3,52.5 381.5,52.0 381.6,51.4 381.7,50.8 381.9,50.2 382.0,49.6 382.2,48.9 382.3,48.3 382.4,47.6 382.6,46.9 382.7,46.2 382.8,45.5 383.0,44.7 383.1,44.0 383.3,43.3 383.4,42.6 383.5,41.8 383.7,41.1 383.8,40.4 383.9,39.7 384.1,39.0 384.2,38.3 384.4,37.7 384.5,37.0 384.6,36.4 384.8,35.8 384.9,35.3 385.1,34.7 385.2,34.2 385.3,33.8 385.5,33.3 385.6,32.9 385.7,32.5 385.9,32.2 386.0,31.9 386.2,31.7 386.3,31.4 386.4,31.3 386.6,31.1 386.7,31.0 386.8,31.0 387.0,31.0 387.1,31.0 387.3,31.1 387.4,31.2 387.5,31.4 387.7,31.6 387.8,31.8 387.9,32.1 388.1,32.4 388.2,32.7 388.4,33.1 388.5,33.5 388.6,33.9 388.8,34.4 388.9,34.9 389.0,35.4 389.2,36.0 389.3,36.6 389.5,37.2 389.6,37.8 389.7,38.4 389.9,39.1 390.0,39.8 390.1,40.4 390.3,41.1 390.4,41.8 390.6,42.6 390.7,43.3 390.8,44.0 391.0,44.7 391.1,45.4 391.2,46.1 391.4,46.8 391.5,47.5 391.7,48.2 391.8,48.8 391.9,49.5 392.1,50.1 392.2,50.7 392.3,51.3 392.5,51.9 392.6,52.4 392.8,52.9 392.9,53.4 393.0,53.9 393.2,54.3 393.3,54.7 393.4,55.0 393.6,55.3 393.7,55.6 393.9,55.9 394.0,56.1 394.1,56.2 394.3,56.4 394.4,56.4 394.6,56.5 394.7,56.5 394.8,56.5 395.0,56.4 395.1,56.3 395.2,56.2 395.4,56.1 395.5,55.9 395.7,55.7 395.8,55.4 395.9,55.2 396.1,54.9 396.2,54.6 396.3,54.3 396.5,53.9 396.6,53.6 396.8,53.2 396.9,52.8 397.0,52.4 397.2,52.0 397.3,51.6 397.4,51.2 397.6,50.8 397.7,50.4 397.9,50.0 398.0,49.7 398.1,49.3 398.3,48.9 398.4,48.6 398.5,48.3 398.7,48.0 398.8,47.7 399.0,47.5 399.1,47.2 399.2,47.0 399.4,46.9 399.5,46.7 399.6,46.6 399.8,46.5 399.9,46.5 400.1,46.5 400.2,46.5 400.3,46.5 400.5,46.6 400.6,46.8 400.7,46.9 400.9,47.0 401.0,47.2 401.2,47.5 401.3,47.9 401.4,48.3 401.6,48.8 401.7,49.3 401.8,49.9 402.0,50.5 402.1,51.2 402.3,52.0 402.4,52.9 402.5,53.9 402.7,55.0 402.8,56.1 403.0,57.3 403.1,58.5 403.2,59.8 403.4,61.2 403.5,62.7 403.6,64.3 403.8,66.0 403.9,67.8 404.1,69.7 404.2,71.6 404.3,73.5 404.5,75.7 404.6,77.9 404.7,80.3 404.9,82.7 405.0,85.2 405.2,87.7 405.3,90.2 405.4,92.7 405.6,95.1 405.7,97.5 405.8,99.8 406.0,102.0 406.1,104.3 406.3,106.5 406.4,108.7 406.5,111.0 406.7,113.3 406.8,115.7 406.9,118.2 407.1,120.8 407.2,123.5 407.4,126.3 407.5,129.4 407.6,132.8 407.8,136.2 407.9,139.8 408.0,143.4 408.2,146.9 408.3,150.3 408.5,153.6 408.6,156.8 408.7,160.0 408.9,163.1 409.0,166.2 409.1,169.2 409.3,172.3 409.4,175.3 409.6,178.3 409.7,181.3 409.8,184.4 410.0,187.4 410.1,190.6 410.2,193.7 410.4,196.7 410.5,199.6 410.7,202.3 410.8,204.8 410.9,207.0 411.1,209.1 411.2,211.0 411.4,212.9 411.5,214.8 411.6,216.7 411.8,218.7 411.9,220.6 412.0,222.5 412.2,224.2 412.3,225.8 412.5,227.2 412.6,228.5 412.7,229.6 412.9,230.6 413.0,231.5 413.1,232.4 413.3,233.3 413.4,234.1 413.6,234.8 413.7,235.5 413.8,236.1 414.0,236.7 414.1,237.3 414.2,237.9 414.4,238.4 414.5,238.9 414.7,239.4 414.8,239.8 414.9,240.2 415.1,240.6 415.2,240.9 415.3,241.2 415.5,241.5 415.6,241.7 415.8,242.0 415.9,242.2 416.0,242.4 416.2,242.6 416.3,242.7 416.4,242.8 416.6,242.8 416.7,242.8 416.9,242.8 417.0,242.8 417.1,242.8 417.3,242.8 417.4,242.8 417.5,242.8 417.7,242.8 417.8,242.8 418.0,242.8 418.1,242.8 418.2,242.8 418.4,242.8 418.5,242.8 418.6,242.8 418.8,242.8 418.9,242.8 419.1,242.8 419.2,242.8 419.3,242.8 419.5,242.8 419.6,242.8 419.7,242.8"/>
<path d="M358.00 106.90H371.70" stroke="#0072BD" stroke-width="2.20" fill="none"/>
<text x="373.20" y="110.30" font-family="Liberation Serif, Times New Roman, serif" font-weight="normal" font-size="11.8" fill="#111" stroke="#111" stroke-width="0.22">T<tspan dy="0.9" font-size="7.3" font-style="normal" letter-spacing="0.40">CT,1</tspan></text>
<path d="M358.00 119.40H371.70" stroke="#D95319" stroke-width="2.20" fill="none"/>
<text x="373.20" y="122.80" font-family="Liberation Serif, Times New Roman, serif" font-weight="normal" font-size="11.8" fill="#111" stroke="#111" stroke-width="0.22">T<tspan dy="0.9" font-size="7.3" font-style="normal" letter-spacing="0.40">CT,2</tspan></text>
<path d="M358.00 131.10H371.70" stroke="#EDB120" stroke-width="2.20" fill="none"/>
<text x="373.20" y="134.50" font-family="Liberation Serif, Times New Roman, serif" font-weight="normal" font-size="11.8" fill="#111" stroke="#111" stroke-width="0.22">T<tspan dy="0.9" font-size="7.6" font-style="normal" letter-spacing="0.20">3</tspan></text>
<path d="M358.00 143.30H371.70" stroke="#000000" stroke-width="2.20" fill="none"/>
<text x="373.20" y="146.70" font-family="Liberation Serif, Times New Roman, serif" font-weight="normal" font-size="11.8" fill="#111" stroke="#111" stroke-width="0.22">T<tspan dy="0.9" font-size="7.8" font-style="normal" letter-spacing="0.30">out</tspan></text>
<path d="M460.30 7.90V110.10H545.00" fill="none" stroke="#dadada" stroke-width="1.80"/>
<path d="M460.30 110.10h2.6M460.30 59.00h2.6M460.30 7.90h2.6M460.30 110.10v-2.4M541.90 110.10v-2.4" fill="none" stroke="#cccccc" stroke-width="0.8"/>
<text x="456.70" y="114.60" text-anchor="end" font-family="Liberation Sans, Arial, sans-serif" font-weight="bold" font-size="10.8" fill="#111">0</text>
<text x="456.70" y="63.50" text-anchor="end" font-family="Liberation Sans, Arial, sans-serif" font-weight="bold" font-size="10.8" fill="#111">0.5</text>
<text x="456.70" y="12.40" text-anchor="end" font-family="Liberation Sans, Arial, sans-serif" font-weight="bold" font-size="10.8" fill="#111">1</text>
<text x="460.30" y="125.00" text-anchor="middle" font-family="Liberation Sans, Arial, sans-serif" font-weight="bold" font-size="10.8" fill="#111">0</text>
<text x="541.90" y="125.00" text-anchor="middle" font-family="Liberation Sans, Arial, sans-serif" font-weight="bold" font-size="10.8" fill="#111">50</text>
<text x="502.65" y="135.20" text-anchor="middle" font-family="Liberation Serif, Times New Roman, serif" font-size="13.2" fill="#222" stroke="#222" stroke-width="0.2" letter-spacing="0.35">time (s)</text>
<text x="502.65" y="150.80" text-anchor="middle" font-family="Liberation Sans, Arial, sans-serif" font-size="9.3" font-weight="bold" fill="#111">(d)</text>
<g transform="translate(436.30 59.30) rotate(-90)"><text text-anchor="middle" font-family="Liberation Serif, Times New Roman, serif" font-size="14.2" fill="#222" stroke="#222" stroke-width="0.12" letter-spacing="0.50"><tspan font-style="italic">λ</tspan> <tspan font-style="italic">(/)</tspan></text></g>
<polyline fill="none" stroke="#0072BD" stroke-width="2.20" stroke-linejoin="round" stroke-linecap="butt" points="460.3,110.1 545.0,110.1"/>
<polyline fill="none" stroke="#D95319" stroke-width="2.20" stroke-linejoin="round" stroke-linecap="butt" points="460.3,7.9 545.0,7.9"/>
<path d="M499.50 18.60H512.50" stroke="#0072BD" stroke-width="2.20" fill="none"/>
<text x="514.00" y="21.60" font-family="Liberation Serif, Times New Roman, serif" font-weight="bold" font-size="12.5" fill="#111" stroke="#111" stroke-width="0.00"><tspan font-style="italic">λ</tspan><tspan dy="2.2" font-size="7.4" font-style="normal" letter-spacing="0.45">CT,1</tspan></text>
<path d="M499.50 30.40H512.50" stroke="#D95319" stroke-width="2.20" fill="none"/>
<text x="514.00" y="33.40" font-family="Liberation Serif, Times New Roman, serif" font-weight="bold" font-size="12.5" fill="#111" stroke="#111" stroke-width="0.00"><tspan font-style="italic">λ</tspan><tspan dy="2.2" font-size="7.4" font-style="normal" letter-spacing="0.45">CT,2</tspan></text>
<path d="M460.30 169.50V272.00H545.00" fill="none" stroke="#dadada" stroke-width="1.80"/>
<path d="M460.30 272.00h2.6M460.30 220.75h2.6M460.30 169.50h2.6M460.30 272.00v-2.4M541.90 272.00v-2.4" fill="none" stroke="#cccccc" stroke-width="0.8"/>
<text x="456.70" y="276.50" text-anchor="end" font-family="Liberation Sans, Arial, sans-serif" font-weight="bold" font-size="10.8" fill="#111">0</text>
<text x="456.70" y="225.25" text-anchor="end" font-family="Liberation Sans, Arial, sans-serif" font-weight="bold" font-size="10.8" fill="#111">0.5</text>
<text x="456.70" y="174.00" text-anchor="end" font-family="Liberation Sans, Arial, sans-serif" font-weight="bold" font-size="10.8" fill="#111">1</text>
<text x="460.30" y="286.90" text-anchor="middle" font-family="Liberation Sans, Arial, sans-serif" font-weight="bold" font-size="10.8" fill="#111">0</text>
<text x="541.90" y="286.90" text-anchor="middle" font-family="Liberation Sans, Arial, sans-serif" font-weight="bold" font-size="10.8" fill="#111">50</text>
<text x="502.65" y="300.00" text-anchor="middle" font-family="Liberation Serif, Times New Roman, serif" font-size="13.2" fill="#222" stroke="#222" stroke-width="0.2" letter-spacing="0.35">time (s)</text>
<text x="502.65" y="316.70" text-anchor="middle" font-family="Liberation Sans, Arial, sans-serif" font-size="9.3" font-weight="bold" fill="#111">(e)</text>
<g transform="translate(436.30 220.30) rotate(-90)"><text text-anchor="middle" font-family="Liberation Serif, Times New Roman, serif" font-size="14.2" fill="#222" stroke="#222" stroke-width="0.12" letter-spacing="0.50"><tspan font-style="italic">γ</tspan> <tspan font-style="italic">(/)</tspan></text></g>
<polyline fill="none" stroke="#0072BD" stroke-width="2.20" stroke-linejoin="round" stroke-linecap="butt" points="460.3,272.0 545.0,272.0"/>
<polyline fill="none" stroke="#D95319" stroke-width="2.20" stroke-linejoin="round" stroke-linecap="butt" points="460.3,272.0 460.3,272.0 460.4,272.0 460.4,272.0 460.5,272.0 460.5,272.0 460.5,272.0 460.6,272.0 460.6,272.0 460.7,272.0 460.7,272.0 460.7,272.0 460.8,272.0 460.8,272.0 460.9,272.0 460.9,272.0 461.0,272.0 461.0,272.0 461.0,272.0 461.1,272.0 461.1,272.0 461.2,272.0 461.2,272.0 461.2,272.0 461.3,272.0 461.3,272.0 461.4,272.0 461.4,272.0 461.4,272.0 461.5,272.0 461.5,272.0 461.6,272.0 461.6,272.0 461.6,272.0 461.7,272.0 461.7,272.0 461.8,272.0 461.8,272.0 461.9,272.0 461.9,272.0 461.9,272.0 462.0,272.0 462.0,272.0 462.1,272.0 462.1,272.0 462.1,272.0 462.2,272.0 462.2,272.0 462.3,272.0 462.3,272.0 462.3,272.0 462.4,272.0 462.4,272.0 462.5,272.0 462.5,272.0 462.5,272.0 462.6,272.0 462.6,272.0 462.7,272.0 462.7,272.0 462.7,272.0 462.8,272.0 462.8,272.0 462.9,272.0 462.9,272.0 463.0,272.0 463.0,272.0 463.0,272.0 463.1,272.0 463.1,272.0 463.2,272.0 463.2,272.0 463.2,272.0 463.3,272.0 463.3,272.0 463.4,272.0 463.4,272.0 463.4,272.0 463.5,272.0 463.5,272.0 463.6,272.0 463.6,272.0 463.6,272.0 463.7,272.0 463.7,272.0 463.8,272.0 463.8,272.0 463.8,272.0 463.9,272.0 463.9,272.0 464.0,272.0 464.0,272.0 464.1,272.0 464.1,272.0 464.1,272.0 464.2,272.0 464.2,272.0 464.3,272.0 464.3,272.0 464.3,272.0 464.4,272.0 464.4,272.0 464.5,272.0 464.5,272.0 464.5,272.0 464.6,272.0 464.6,272.0 464.7,272.0 464.7,272.0 464.7,272.0 464.8,272.0 464.8,272.0 464.9,272.0 464.9,272.0 465.0,272.0 465.0,272.0 465.0,272.0 465.1,272.0 465.1,272.0 465.2,272.0 465.2,272.0 465.2,272.0 465.3,272.0 465.3,272.0 465.4,272.0 465.4,272.0 465.4,272.0 465.5,272.0 465.5,272.0 465.6,272.0 465.6,272.0 465.6,272.0 465.7,272.0 465.7,272.0 465.8,272.0 465.8,272.0 465.8,272.0 465.9,272.0 465.9,272.0 466.0,272.0 466.0,272.0 466.1,272.0 466.1,272.0 466.1,272.0 466.2,272.0 466.2,272.0 466.3,272.0 466.3,272.0 466.3,272.0 466.4,272.0 466.4,272.0 466.5,272.0 466.5,272.0 466.5,272.0 466.6,272.0 466.6,272.0 466.7,272.0 466.7,272.0 466.7,272.0 466.8,272.0 466.8,272.0 466.9,272.0 466.9,272.0 467.0,272.0 467.0,272.0 467.0,272.0 467.1,272.0 467.1,272.0 467.2,272.0 467.2,272.0 467.2,272.0 467.3,272.0 467.3,272.0 467.4,272.0 467.4,272.0 467.4,272.0 467.5,272.0 467.5,272.0 467.6,272.0 467.6,272.0 467.6,272.0 467.7,272.0 467.7,272.0 467.8,272.0 467.8,272.0 467.8,272.0 467.9,272.0 467.9,272.0 468.0,272.0 468.0,272.0 468.1,272.0 468.1,272.0 468.1,272.0 468.2,272.0 468.2,272.0 468.3,272.0 468.3,272.0 468.3,272.0 468.4,272.0 468.4,272.0 468.5,272.0 468.5,272.0 468.5,272.0 468.6,272.0 468.6,272.0 468.7,272.0 468.7,272.0 468.7,272.0 468.8,272.0 468.8,272.0 468.9,272.0 468.9,272.0 468.9,272.0 469.0,272.0 469.0,272.0 469.1,272.0 469.1,272.0 469.2,272.0 469.2,272.0 469.2,272.0 469.3,272.0 469.3,272.0 469.4,272.0 469.4,272.0 469.4,272.0 469.5,272.0 469.5,272.0 469.6,272.0 469.6,272.0 469.6,272.0 469.7,272.0 469.7,272.0 469.8,272.0 469.8,272.0 469.8,272.0 469.9,272.0 469.9,272.0 470.0,272.0 470.0,272.0 470.1,272.0 470.1,272.0 470.1,272.0 470.2,272.0 470.2,272.0 470.3,272.0 470.3,272.0 470.3,272.0 470.4,272.0 470.4,272.0 470.5,272.0 470.5,272.0 470.5,272.0 470.6,272.0 470.6,272.0 470.7,169.5 470.7,169.5 470.7,169.5 470.8,169.5 470.8,169.5 470.9,169.5 470.9,169.5 470.9,169.5 471.0,169.5 471.0,169.5 471.1,169.5 471.1,169.5 471.2,169.5 471.2,169.5 471.2,169.5 471.3,169.5 471.3,169.5 471.4,169.5 471.4,169.5 471.4,169.5 471.5,169.5 471.5,169.5 471.6,169.5 471.6,169.5 471.6,169.5 471.7,169.5 471.7,169.5 471.8,169.5 471.8,169.5 471.8,169.5 471.9,169.5 471.9,169.5 472.0,169.5 472.0,169.5 472.1,169.5 472.1,169.5 472.1,169.5 472.2,169.5 472.2,169.5 472.3,169.5 472.3,169.5 472.3,169.5 472.4,169.5 472.4,169.5 472.5,169.5 472.5,169.5 472.5,169.5 472.6,169.5 472.6,169.5 472.7,169.5 472.7,169.5 472.7,169.5 472.8,169.5 472.8,169.5 472.9,169.5 472.9,169.5 472.9,169.5 473.0,169.5 473.0,169.5 473.1,169.5 473.1,169.5 473.2,169.5 473.2,169.5 473.2,169.5 473.3,169.5 473.3,169.5 473.4,169.5 473.4,169.5 473.4,169.5 473.5,169.5 473.5,169.5 473.6,169.5 473.6,169.5 473.6,169.5 473.7,169.5 473.7,169.5 473.8,169.5 473.8,169.5 473.8,169.5 473.9,169.5 473.9,169.5 474.0,169.5 474.0,169.5 474.0,169.5 474.1,169.5 474.1,169.5 474.2,169.5 474.2,169.5 474.3,169.5 474.3,169.5 474.3,169.5 474.4,169.5 474.4,169.5 474.5,169.5 474.5,169.5 474.5,169.5 474.6,169.5 474.6,169.5 474.7,169.5 474.7,169.5 474.7,169.5 474.8,169.5 474.8,169.5 474.9,169.5 474.9,169.5 474.9,169.5 475.0,169.5 475.0,169.5 475.1,169.5 475.1,169.5 475.2,169.5 475.2,169.5 475.2,169.5 475.3,169.5 475.3,169.5 475.4,169.5 475.4,169.5 475.4,169.5 475.5,169.5 475.5,169.5 475.6,169.5 475.6,169.5 475.6,169.5 475.7,169.5 475.7,169.5 475.8,169.5 475.8,169.5 475.8,169.5 475.9,169.5 475.9,169.5 476.0,169.5 476.0,169.5 476.0,169.5 476.1,169.5 476.1,169.5 476.2,169.5 476.2,169.5 476.3,169.5 476.3,169.5 476.3,169.5 476.4,169.5 476.4,169.5 476.5,169.5 476.5,169.5 476.5,169.5 476.6,169.5 476.6,169.5 476.7,169.5 476.7,169.5 476.7,169.5 476.8,169.5 476.8,169.5 476.9,169.5 476.9,169.5 476.9,169.5 477.0,169.5 477.0,169.5 477.1,169.5 477.1,169.5 477.2,169.5 477.2,169.5 477.2,169.5 477.3,169.5 477.3,169.5 477.4,169.5 477.4,169.5 477.4,169.5 477.5,169.5 477.5,169.5 477.6,169.5 477.6,169.5 477.6,169.5 477.7,169.5 477.7,169.5 477.8,169.5 477.8,169.5 477.8,169.5 477.9,169.5 477.9,169.5 478.0,169.5 478.0,169.5 478.0,169.5 478.1,169.5 478.1,169.5 478.2,169.5 478.2,169.5 478.3,169.5 478.3,169.5 478.3,169.5 478.4,169.5 478.4,169.5 478.5,169.5 478.5,169.5 478.5,169.5 478.6,169.5 478.6,169.5 478.7,169.5 478.7,169.5 478.7,169.5 478.8,169.5 478.8,169.5 478.9,169.5 478.9,169.5 478.9,169.5 479.0,169.5 479.0,169.5 479.1,169.5 479.1,169.5 479.1,169.5 479.2,169.5 479.2,169.5 479.3,169.5 479.3,169.5 479.4,169.5 479.4,169.5 479.4,169.5 479.5,169.5 479.5,169.5 479.6,169.5 479.6,169.5 479.6,169.5 479.7,169.5 479.7,169.5 479.8,169.5 479.8,169.5 479.8,169.5 479.9,169.5 479.9,169.5 480.0,169.5 480.0,169.5 480.0,169.5 480.1,169.5 480.1,169.5 480.2,169.5 480.2,169.5 480.3,169.5 480.3,169.5 480.3,169.5 480.4,169.5 480.4,169.5 480.5,169.5 480.5,169.5 480.5,169.5 480.6,169.5 480.6,169.5 480.7,169.5 480.7,169.5 480.7,169.5 480.8,169.5 480.8,169.5 480.9,169.5 480.9,169.5 480.9,169.5 481.0,169.5 481.0,169.5 481.1,169.5 481.1,169.5 481.1,169.5 481.2,169.5 481.2,169.5 481.3,169.5 481.3,169.5 481.4,169.5 481.4,169.5 481.4,169.5 481.5,169.5 481.5,169.5 481.6,169.5 481.6,169.5 481.6,169.5 481.7,169.5 481.7,169.5 481.8,169.5 481.8,169.5 481.8,169.5 481.9,169.5 481.9,169.5 482.0,169.5 482.0,169.5 482.0,169.5 482.1,169.5 482.1,169.5 482.2,169.5 482.2,169.5 482.3,169.5 482.3,169.5 482.3,169.5 482.4,169.5 482.4,169.5 482.5,169.5 482.5,169.5 482.5,169.5 482.6,169.5 482.6,169.5 482.7,169.5 482.7,169.5 482.7,169.5 482.8,169.5 482.8,169.5 482.9,169.5 482.9,169.5 482.9,169.5 483.0,169.5 483.0,169.5 483.1,169.5 483.1,169.5 483.1,169.5 483.2,169.5 483.2,169.5 483.3,169.5 483.3,169.5 483.4,169.5 483.4,169.5 483.4,169.5 483.5,169.5 483.5,169.5 483.6,169.5 483.6,169.5 483.6,169.5 483.7,169.5 483.7,169.5 483.8,169.5 483.8,169.5 483.8,169.5 483.9,169.5 483.9,169.5 484.0,169.5 484.0,169.5 484.0,169.5 484.1,169.5 484.1,169.5 484.2,169.5 484.2,169.5 484.2,169.5 484.3,169.5 484.3,169.5 484.4,169.5 484.4,169.5 484.5,169.5 484.5,169.5 484.5,169.5 484.6,169.5 484.6,169.5 484.7,169.5 484.7,169.5 484.7,169.5 484.8,169.5 484.8,169.5 484.9,169.5 484.9,169.5 484.9,169.5 485.0,169.5 485.0,169.5 485.1,169.5 485.1,169.5 485.1,169.5 485.2,169.5 485.2,169.5 485.3,169.5 485.3,169.5 485.4,169.5 485.4,169.5 485.4,169.5 485.5,169.5 485.5,169.5 485.6,169.5 485.6,169.5 485.6,169.5 485.7,169.5 485.7,169.5 485.8,169.5 485.8,169.5 485.8,169.5 485.9,169.5 485.9,169.5 486.0,169.5 486.0,169.5 486.0,169.5 486.1,169.5 486.1,169.5 486.2,169.5 486.2,169.5 486.2,169.5 486.3,169.5 486.3,169.5 486.4,169.5 486.4,169.5 486.5,169.5 486.5,169.5 486.5,169.5 486.6,169.5 486.6,169.5 486.7,169.5 486.7,169.5 486.7,169.5 486.8,169.5 486.8,169.5 486.9,169.5 486.9,169.5 486.9,169.5 487.0,169.5 487.0,169.5 487.1,169.5 487.1,169.5 487.1,169.5 487.2,169.5 487.2,169.5 487.3,169.5 487.3,169.5 487.4,169.5 487.4,169.5 487.4,169.5 487.5,169.5 487.5,169.5 487.6,169.5 487.6,169.5 487.6,169.5 487.7,169.5 487.7,169.5 487.8,169.5 487.8,169.5 487.8,169.5 487.9,169.5 487.9,169.5 488.0,169.5 488.0,169.5 488.0,169.5 488.1,169.5 488.1,169.5 488.2,169.5 488.2,169.5 488.2,169.5 488.3,169.5 488.3,169.5 488.4,169.5 488.4,169.5 488.5,169.5 488.5,169.5 488.5,169.5 488.6,169.5 488.6,169.5 488.7,169.5 488.7,169.5 488.7,169.5 488.8,169.5 488.8,169.5 488.9,169.5 488.9,169.5 488.9,169.5 489.0,169.5 489.0,169.5 489.1,169.5 489.1,169.5 489.1,169.5 489.2,169.5 489.2,169.5 489.3,169.5 489.3,169.5 489.3,169.5 489.4,169.5 489.4,169.5 489.5,169.5 489.5,169.5 489.6,169.5 489.6,169.5 489.6,169.5 489.7,169.5 489.7,169.5 489.8,169.5 489.8,169.5 489.8,169.5 489.9,169.5 489.9,169.5 490.0,169.5 490.0,169.5 490.0,169.5 490.1,169.5 490.1,169.5 490.2,169.5 490.2,169.5 490.2,169.5 490.3,169.5 490.3,169.5 490.4,169.5 490.4,169.5 490.5,169.5 490.5,169.5 490.5,169.5 490.6,169.5 490.6,169.5 490.7,169.5 490.7,169.5 490.7,169.5 490.8,169.5 490.8,169.5 490.9,169.5 490.9,169.5 490.9,169.5 491.0,169.5 491.0,169.5 491.1,169.5 491.1,169.5 491.1,169.5 491.2,169.5 491.2,169.5 491.3,169.5 491.3,169.5 491.3,169.5 491.4,169.5 491.4,169.5 491.5,169.5 491.5,169.5 491.6,169.5 491.6,169.5 491.6,169.5 491.7,169.5 491.7,169.5 491.8,169.5 491.8,169.5 491.8,169.5 491.9,169.5 491.9,169.5 492.0,169.5 492.0,169.5 492.0,169.5 492.1,169.5 492.1,169.5 492.2,169.5 492.2,169.5 492.2,169.5 492.3,169.5 492.3,169.5 492.4,169.5 492.4,169.5 492.5,169.5 492.5,169.5 492.5,169.5 492.6,169.5 492.6,169.5 492.7,169.5 492.7,169.5 492.7,169.5 492.8,169.5 492.8,169.5 492.9,169.5 492.9,169.5 492.9,169.5 493.0,169.5 493.0,169.5 493.1,169.5 493.1,169.5 493.1,169.5 493.2,169.5 493.2,169.5 493.3,169.5 493.3,169.5 493.3,169.5 493.4,169.5 493.4,169.5 493.5,169.5 493.5,169.5 493.6,169.5 493.6,169.5 493.6,169.5 493.7,169.5 493.7,169.5 493.8,169.5 493.8,169.5 493.8,169.5 493.9,169.5 493.9,169.5 494.0,169.5 494.0,169.5 494.0,169.5 494.1,169.5 494.1,169.5 494.2,169.5 494.2,169.5 494.2,169.5 494.3,169.5 494.3,169.5 494.4,169.5 494.4,169.5 494.4,169.5 494.5,169.5 494.5,169.5 494.6,169.5 494.6,169.5 494.7,169.5 494.7,169.5 494.7,169.5 494.8,169.5 494.8,169.5 494.9,169.5 494.9,169.5 494.9,169.5 495.0,169.5 495.0,169.5 495.1,169.5 495.1,169.5 495.1,169.5 495.2,169.5 495.2,169.5 495.3,169.5 495.3,169.5 495.3,169.5 495.4,169.5 495.4,169.5 495.5,169.5 495.5,169.5 495.6,169.5 495.6,169.5 495.6,169.5 495.7,169.5 495.7,169.5 495.8,169.5 495.8,169.5 495.8,169.5 495.9,169.5 495.9,169.5 496.0,169.5 496.0,169.5 496.0,169.5 496.1,169.5 496.1,169.5 496.2,169.5 496.2,169.5 496.2,169.5 496.3,169.5 496.3,169.5 496.4,169.5 496.4,169.5 496.4,169.5 496.5,169.5 496.5,169.5 496.6,169.5 496.6,169.5 496.7,169.5 496.7,169.5 496.7,169.5 496.8,169.5 496.8,169.5 496.9,169.5 496.9,169.5 496.9,169.5 497.0,169.5 497.0,169.5 497.1,169.5 497.1,169.5 497.1,169.5 497.2,169.5 497.2,169.5 497.3,169.5 497.3,169.5 497.3,169.5 497.4,169.5 497.4,169.5 497.5,169.5 497.5,169.5 497.6,169.5 497.6,169.5 497.6,169.5 497.7,169.5 497.7,169.5 497.8,169.5 497.8,169.5 497.8,169.5 497.9,169.5 497.9,169.5 498.0,169.5 498.0,169.5 498.0,169.5 498.1,169.5 498.1,169.5 498.2,169.5 498.2,169.5 498.2,169.5 498.3,169.5 498.3,169.5 498.4,169.5 498.4,169.5 498.4,169.5 498.5,169.5 498.5,169.5 498.6,169.5 498.6,169.5 498.7,169.5 498.7,169.5 498.7,169.5 498.8,169.5 498.8,169.5 498.9,169.5 498.9,169.5 498.9,169.5 499.0,169.5 499.0,169.5 499.1,169.5 499.1,169.5 499.1,169.5 499.2,169.5 499.2,169.5 499.3,169.5 499.3,169.5 499.3,169.5 499.4,169.5 499.4,169.5 499.5,169.5 499.5,169.5 499.5,169.5 499.6,169.5 499.6,169.5 499.7,169.5 499.7,169.5 499.8,169.5 499.8,169.5 499.8,169.5 499.9,169.5 499.9,169.5 500.0,169.5 500.0,169.5 500.0,169.5 500.1,169.5 500.1,169.5 500.2,169.5 500.2,169.5 500.2,169.5 500.3,169.5 500.3,169.5 500.4,169.5 500.4,169.5 500.4,169.5 500.5,169.5 500.5,169.5 500.6,169.5 500.6,169.5 500.7,169.5 500.7,169.5 500.7,169.5 500.8,169.5 500.8,169.5 500.9,169.5 500.9,169.5 500.9,169.5 501.0,169.5 501.0,169.5 501.1,169.5 501.1,169.5 501.1,169.5 501.2,169.5 501.2,169.5 501.3,169.5 501.3,169.5 501.3,169.5 501.4,169.5 501.4,169.5 501.5,169.5 501.5,169.5 501.5,169.5 501.6,169.5 501.6,169.5 501.7,169.5 501.7,169.5 501.8,169.5 501.8,169.5 501.8,169.5 501.9,169.5 501.9,169.5 502.0,169.5 502.0,169.5 502.0,169.5 502.1,169.5 502.1,169.5 502.2,169.5 502.2,169.5 502.2,169.5 502.3,169.5 502.3,169.5 502.4,169.5 502.4,169.5 502.4,169.5 502.5,169.5 502.5,169.5 502.6,169.5 502.6,169.5 502.7,169.5 502.7,169.5 502.7,169.5 502.8,169.5 502.8,169.5 502.9,169.5 502.9,169.5 502.9,169.5 503.0,169.5 503.0,169.5 503.1,169.5 503.1,169.5 503.1,169.5 503.2,169.5 503.2,169.5 503.3,169.5 503.3,169.5 503.3,169.5 503.4,169.5 503.4,169.5 503.5,169.5 503.5,169.5 503.5,169.5 503.6,169.5 503.6,169.5 503.7,169.5 503.7,169.5 503.8,169.5 503.8,169.5 503.8,169.5 503.9,169.5 503.9,169.5 504.0,169.5 504.0,169.5 504.0,169.5 504.1,169.5 504.1,169.5 504.2,169.5 504.2,169.5 504.2,169.5 504.3,169.5 504.3,169.5 504.4,169.5 504.4,169.5 504.4,169.5 504.5,169.5 504.5,169.5 504.6,169.5 504.6,169.5 504.6,169.5 504.7,169.5 504.7,169.5 504.8,169.5 504.8,169.5 504.9,169.5 504.9,169.5 504.9,169.5 505.0,169.5 505.0,169.5 505.1,169.5 505.1,169.5 505.1,169.5 505.2,169.5 505.2,169.5 505.3,169.5 505.3,169.5 505.3,169.5 505.4,169.5 505.4,169.5 505.5,169.5 505.5,169.5 505.5,169.5 505.6,169.5 505.6,169.5 505.7,169.5 505.7,169.5 505.8,169.5 505.8,169.5 505.8,169.5 505.9,169.5 505.9,169.5 506.0,169.5 506.0,169.5 506.0,169.5 506.1,169.5 506.1,169.5 506.2,169.5 506.2,169.5 506.2,169.5 506.3,169.5 506.3,169.5 506.4,169.5 506.4,169.5 506.4,169.5 506.5,169.5 506.5,169.5 506.6,169.5 506.6,169.5 506.6,169.5 506.7,169.5 506.7,169.5 506.8,169.5 506.8,169.5 506.9,169.5 506.9,169.5 506.9,169.5 507.0,169.5 507.0,169.5 507.1,169.5 507.1,169.5 507.1,169.5 507.2,169.5 507.2,169.5 507.3,169.5 507.3,169.5 507.3,169.5 507.4,169.5 507.4,169.5 507.5,169.5 507.5,169.5 507.5,169.5 507.6,169.5 507.6,169.5 507.7,169.5 507.7,169.5 507.8,169.5 507.8,169.5 507.8,169.5 507.9,169.5 507.9,169.5 508.0,169.5 508.0,169.5 508.0,169.5 508.1,169.5 508.1,169.5 508.2,169.5 508.2,169.5 508.2,169.5 508.3,169.5 508.3,169.5 508.4,169.5 508.4,169.5 508.4,169.5 508.5,169.5 508.5,169.5 508.6,169.5 508.6,169.5 508.6,169.5 508.7,169.5 508.7,169.5 508.8,169.5 508.8,169.5 508.9,169.5 508.9,169.5 508.9,169.5 509.0,169.5 509.0,169.5 509.1,169.5 509.1,169.5 509.1,169.5 509.2,169.5 509.2,169.5 509.3,169.5 509.3,169.5 509.3,169.5 509.4,169.5 509.4,169.5 509.5,169.5 509.5,169.5 509.5,169.5 509.6,169.5 509.6,169.5 509.7,169.5 509.7,169.5 509.7,169.5 509.8,169.5 509.8,169.5 509.9,169.5 509.9,169.5 510.0,169.5 510.0,169.5 510.0,169.5 510.1,169.5 510.1,169.5 510.2,169.5 510.2,169.5 510.2,169.5 510.3,169.5 510.3,169.5 510.4,169.5 510.4,169.5 510.4,169.5 510.5,169.5 510.5,169.5 510.6,169.5 510.6,169.5 510.6,169.5 510.7,169.5 510.7,169.5 510.8,169.5 510.8,169.5 510.9,169.5 510.9,169.5 510.9,169.5 511.0,169.5 511.0,169.5 511.1,169.5 511.1,169.5 511.1,169.5 511.2,169.5 511.2,169.5 511.3,169.5 511.3,169.5 511.3,169.5 511.4,169.5 511.4,169.5 511.5,169.5 511.5,169.5 511.5,169.5 511.6,169.5 511.6,169.5 511.7,169.5 511.7,169.5 511.7,169.5 511.8,169.5 511.8,169.5 511.9,169.5 511.9,169.5 512.0,169.5 512.0,169.5 512.0,169.5 512.1,169.5 512.1,169.5 512.2,169.5 512.2,169.5 512.2,169.5 512.3,169.5 512.3,169.5 512.4,169.5 512.4,169.5 512.4,169.5 512.5,169.5 512.5,169.5 512.6,169.5 512.6,169.5 512.6,169.5 512.7,169.5 512.7,169.5 512.8,169.5 512.8,169.5 512.9,169.5 512.9,169.5 512.9,169.5 513.0,169.5 513.0,169.5 513.1,169.5 513.1,169.5 513.1,169.5 513.2,169.5 513.2,169.5 513.3,169.5 513.3,169.5 513.3,169.5 513.4,169.5 513.4,169.5 513.5,169.5 513.5,169.5 513.5,169.5 513.6,169.5 513.6,169.5 513.7,169.5 513.7,169.5 513.7,169.5 513.8,169.5 513.8,169.5 513.9,169.5 513.9,169.5 514.0,169.5 514.0,169.5 514.0,169.5 514.1,169.5 514.1,169.5 514.2,169.5 514.2,169.5 514.2,169.5 514.3,169.5 514.3,169.5 514.4,169.5 514.4,169.5 514.4,169.5 514.5,169.5 514.5,169.5 514.6,169.5 514.6,169.5 514.6,169.5 514.7,169.5 514.7,169.5 514.8,169.5 514.8,169.5 514.8,169.5 514.9,169.5 514.9,169.5 515.0,169.5 515.0,169.5 515.1,169.5 515.1,169.5 515.1,169.5 515.2,169.5 515.2,169.5 515.3,169.5 515.3,169.5 515.3,169.5 515.4,169.5 515.4,169.5 515.5,169.5 515.5,169.5 515.5,169.5 515.6,169.5 515.6,169.5 515.7,169.5 515.7,169.5 515.7,169.5 515.8,169.5 515.8,169.5 515.9,169.5 515.9,169.5 516.0,169.5 516.0,169.5 516.0,169.5 516.1,169.5 516.1,169.5 516.2,169.5 516.2,169.5 516.2,169.5 516.3,169.5 516.3,169.5 516.4,169.5 516.4,169.5 516.4,169.5 516.5,169.5 516.5,169.5 516.6,169.5 516.6,169.5 516.6,169.5 516.7,169.5 516.7,169.5 516.8,169.5 516.8,169.5 516.8,169.5 516.9,169.5 516.9,169.5 517.0,169.5 517.0,169.5 517.1,169.5 517.1,169.5 517.1,169.5 517.2,169.5 517.2,169.5 517.3,169.5 517.3,169.5 517.3,169.5 517.4,169.5 517.4,169.5 517.5,169.5 517.5,169.5 517.5,169.5 517.6,169.5 517.6,169.5 517.7,169.5 517.7,169.5 517.7,169.5 517.8,169.5 517.8,169.5 517.9,169.5 517.9,169.5 518.0,169.5 518.0,169.5 518.0,169.5 518.1,169.5 518.1,169.5 518.2,169.5 518.2,169.5 518.2,169.5 518.3,169.5 518.3,169.5 518.4,169.5 518.4,169.5 518.4,169.5 518.5,169.5 518.5,169.5 518.6,169.5 518.6,169.5 518.6,169.5 518.7,169.5 518.7,169.5 518.8,169.5 518.8,169.5 518.8,169.5 518.9,169.5 518.9,169.5 519.0,169.5 519.0,169.5 519.1,169.5 519.1,169.5 519.1,169.5 519.2,169.5 519.2,169.5 519.3,169.5 519.3,169.5 519.3,169.5 519.4,169.5 519.4,169.5 519.5,169.5 519.5,169.5 519.5,169.5 519.6,169.5 519.6,169.5 519.7,169.5 519.7,169.5 519.7,169.5 519.8,169.5 519.8,169.5 519.9,169.5 519.9,169.5 519.9,169.5 520.0,169.5 520.0,169.5 520.1,169.5 520.1,169.5 520.2,169.5 520.2,169.5 520.2,169.5 520.3,169.5 520.3,169.5 520.4,169.5 520.4,169.5 520.4,169.5 520.5,169.5 520.5,169.5 520.6,169.5 520.6,169.5 520.6,169.5 520.7,169.5 520.7,169.5 520.8,169.5 520.8,169.5 520.8,169.5 520.9,169.5 520.9,169.5 521.0,169.5 521.0,169.5 521.1,169.5 521.1,169.5 521.1,169.5 521.2,169.5 521.2,169.5 521.3,169.5 521.3,169.5 521.3,169.5 521.4,169.5 521.4,169.5 521.5,169.5 521.5,169.5 521.5,169.5 521.6,169.5 521.6,169.5 521.7,169.5 521.7,169.5 521.7,169.5 521.8,169.5 521.8,169.5 521.9,169.5 521.9,169.5 521.9,169.5 522.0,169.5 522.0,169.5 522.1,169.5 522.1,169.5 522.2,169.5 522.2,169.5 522.2,169.5 522.3,169.5 522.3,169.5 522.4,169.5 522.4,169.5 522.4,169.5 522.5,169.5 522.5,169.5 522.6,169.5 522.6,169.5 522.6,169.5 522.7,169.5 522.7,169.5 522.8,169.5 522.8,169.5 522.8,169.5 522.9,169.5 522.9,169.5 523.0,169.5 523.0,169.5 523.1,169.5 523.1,169.5 523.1,169.5 523.2,169.5 523.2,169.5 523.3,169.5 523.3,169.5 523.3,169.5 523.4,169.5 523.4,169.5 523.5,169.5 523.5,169.5 523.5,169.5 523.6,169.5 523.6,169.5 523.7,169.5 523.7,169.5 523.7,169.5 523.8,169.5 523.8,169.5 523.9,169.5 523.9,169.5 523.9,169.5 524.0,169.5 524.0,169.5 524.1,169.5 524.1,169.5 524.2,169.5 524.2,169.5 524.2,169.5 524.3,169.5 524.3,169.5 524.4,169.5 524.4,169.5 524.4,169.5 524.5,169.5 524.5,169.5 524.6,169.5 524.6,169.5 524.6,169.5 524.7,169.5 524.7,169.5 524.8,169.5 524.8,169.5 524.8,169.5 524.9,169.5 524.9,169.5 525.0,169.5 525.0,169.5 525.0,169.5 525.1,169.5 525.1,169.5 525.2,169.5 525.2,169.5 525.3,169.5 525.3,169.5 525.3,169.5 525.4,169.5 525.4,169.5 525.5,169.5 525.5,169.5 525.5,169.5 525.6,169.5 525.6,169.5 525.7,169.5 525.7,169.5 525.7,169.5 525.8,169.5 525.8,169.5 525.9,169.5 525.9,169.5 525.9,169.5 526.0,169.5 526.0,169.5 526.1,169.5 526.1,169.5 526.2,169.5 526.2,169.5 526.2,169.5 526.3,169.5 526.3,169.5 526.4,169.5 526.4,169.5 526.4,169.5 526.5,169.5 526.5,169.5 526.6,169.5 526.6,169.5 526.6,169.5 526.7,169.5 526.7,169.5 526.8,169.5 526.8,169.5 526.8,169.5 526.9,169.5 526.9,169.5 527.0,169.5 527.0,169.5 527.0,169.5 527.1,169.5 527.1,169.5 527.2,169.5 527.2,169.5 527.3,169.5 527.3,169.5 527.3,169.5 527.4,169.5 527.4,169.5 527.5,169.5 527.5,169.5 527.5,169.5 527.6,169.5 527.6,169.5 527.7,169.5 527.7,169.5 527.7,169.5 527.8,169.5 527.8,169.5 527.9,169.5 527.9,169.5 527.9,169.5 528.0,169.5 528.0,169.5 528.1,169.5 528.1,169.5 528.2,169.5 528.2,169.5 528.2,169.5 528.3,169.5 528.3,169.5 528.4,169.5 528.4,169.5 528.4,169.5 528.5,169.5 528.5,169.5 528.6,169.5 528.6,169.5 528.6,169.5 528.7,169.5 528.7,169.5 528.8,169.5 528.8,169.5 528.8,169.5 528.9,169.5 528.9,169.5 529.0,169.5 529.0,169.5 529.0,169.5 529.1,169.5 529.1,169.5 529.2,169.5 529.2,169.5 529.3,169.5 529.3,169.5 529.3,169.5 529.4,169.5 529.4,169.5 529.5,169.5 529.5,169.5 529.5,169.5 529.6,169.5 529.6,169.5 529.7,169.5 529.7,169.5 529.7,169.5 529.8,169.5 529.8,169.5 529.9,169.5 529.9,169.5 529.9,169.5 530.0,169.5 530.0,169.5 530.1,169.5 530.1,169.5 530.1,169.5 530.2,169.5 530.2,169.5 530.3,169.5 530.3,169.5 530.4,169.5 530.4,169.5 530.4,169.5 530.5,169.5 530.5,169.5 530.6,169.5 530.6,169.5 530.6,169.5 530.7,169.5 530.7,169.5 530.8,169.5 530.8,169.5 530.8,169.5 530.9,169.5 530.9,169.5 531.0,169.5 531.0,169.5 531.0,169.5 531.1,169.5 531.1,169.5 531.2,169.5 531.2,169.5 531.3,169.5 531.3,169.5 531.3,169.5 531.4,169.5 531.4,169.5 531.5,169.5 531.5,169.5 531.5,169.5 531.6,169.5 531.6,169.5 531.7,169.5 531.7,169.5 531.7,169.5 531.8,169.5 531.8,169.5 531.9,169.5 531.9,169.5 531.9,169.5 532.0,169.5 532.0,169.5 532.1,169.5 532.1,169.5 532.1,169.5 532.2,169.5 532.2,169.5 532.3,169.5 532.3,169.5 532.4,169.5 532.4,169.5 532.4,169.5 532.5,169.5 532.5,169.5 532.6,169.5 532.6,169.5 532.6,169.5 532.7,169.5 532.7,169.5 532.8,169.5 532.8,169.5 532.8,169.5 532.9,169.5 532.9,169.5 533.0,169.5 533.0,169.5 533.0,169.5 533.1,169.5 533.1,169.5 533.2,169.5 533.2,169.5 533.3,169.5 533.3,169.5 533.3,169.5 533.4,169.5 533.4,169.5 533.5,169.5 533.5,169.5 533.5,169.5 533.6,169.5 533.6,169.5 533.7,169.5 533.7,169.5 533.7,169.5 533.8,169.5 533.8,169.5 533.9,169.5 533.9,169.5 533.9,169.5 534.0,169.5 534.0,169.5 534.1,169.5 534.1,169.5 534.1,169.5 534.2,169.5 534.2,169.5 534.3,169.5 534.3,169.5 534.4,169.5 534.4,169.5 534.4,169.5 534.5,169.5 534.5,169.5 534.6,169.5 534.6,272.0 534.6,272.0 534.7,272.0 534.7,272.0 534.8,272.0 534.8,272.0 534.8,272.0 534.9,272.0 534.9,272.0 535.0,272.0 535.0,272.0 535.0,272.0 535.1,272.0 535.1,272.0 535.2,272.0 535.2,272.0 535.2,272.0 535.3,272.0 535.3,272.0 535.4,272.0 535.4,272.0 535.5,272.0 535.5,272.0 535.5,272.0 535.6,272.0 535.6,272.0 535.7,272.0 535.7,272.0 535.7,272.0 535.8,272.0 535.8,272.0 535.9,272.0 535.9,272.0 535.9,272.0 536.0,272.0 536.0,272.0 536.1,272.0 536.1,272.0 536.1,272.0 536.2,272.0 536.2,272.0 536.3,272.0 536.3,272.0 536.4,272.0 536.4,272.0 536.4,272.0 536.5,272.0 536.5,272.0 536.6,272.0 536.6,272.0 536.6,272.0 536.7,272.0 536.7,272.0 536.8,272.0 536.8,272.0 536.8,272.0 536.9,272.0 536.9,272.0 537.0,272.0 537.0,272.0 537.0,272.0 537.1,272.0 537.1,272.0 537.2,272.0 537.2,272.0 537.2,272.0 537.3,272.0 537.3,272.0 537.4,272.0 537.4,272.0 537.5,272.0 537.5,272.0 537.5,272.0 537.6,272.0 537.6,272.0 537.7,272.0 537.7,272.0 537.7,272.0 537.8,272.0 537.8,272.0 537.9,272.0 537.9,272.0 537.9,272.0 538.0,272.0 538.0,272.0 538.1,272.0 538.1,272.0 538.1,272.0 538.2,272.0 538.2,272.0 538.3,272.0 538.3,272.0 538.4,272.0 538.4,272.0 538.4,272.0 538.5,272.0 538.5,272.0 538.6,272.0 538.6,272.0 538.6,272.0 538.7,272.0 538.7,272.0 538.8,272.0 538.8,272.0 538.8,272.0 538.9,272.0 538.9,272.0 539.0,272.0 539.0,272.0 539.0,272.0 539.1,272.0 539.1,272.0 539.2,272.0 539.2,272.0 539.2,272.0 539.3,272.0 539.3,272.0 539.4,272.0 539.4,272.0 539.5,272.0 539.5,272.0 539.5,272.0 539.6,272.0 539.6,272.0 539.7,272.0 539.7,272.0 539.7,272.0 539.8,272.0 539.8,272.0 539.9,272.0 539.9,272.0 539.9,272.0 540.0,272.0 540.0,272.0 540.1,272.0 540.1,272.0 540.1,272.0 540.2,272.0 540.2,272.0 540.3,272.0 540.3,272.0 540.3,272.0 540.4,272.0 540.4,272.0 540.5,272.0 540.5,272.0 540.6,272.0 540.6,272.0 540.6,272.0 540.7,272.0 540.7,272.0 540.8,272.0 540.8,272.0 540.8,272.0 540.9,272.0 540.9,272.0 541.0,272.0 541.0,272.0 541.0,272.0 541.1,272.0 541.1,272.0 541.2,272.0 541.2,272.0 541.2,272.0 541.3,272.0 541.3,272.0 541.4,272.0 541.4,272.0 541.5,272.0 541.5,272.0 541.5,272.0 541.6,272.0 541.6,272.0 541.7,272.0 541.7,272.0 541.7,272.0 541.8,272.0 541.8,272.0 541.9,272.0 541.9,272.0 541.9,272.0 542.0,272.0 542.0,272.0 542.1,272.0 542.1,272.0 542.1,272.0 542.2,272.0 542.2,272.0 542.3,272.0 542.3,272.0 542.3,272.0 542.4,272.0 542.4,272.0 542.5,272.0 542.5,272.0 542.6,272.0 542.6,272.0 542.6,272.0 542.7,272.0 542.7,272.0 542.8,272.0 542.8,272.0 542.8,272.0 542.9,272.0 542.9,272.0 543.0,272.0 543.0,272.0 543.0,272.0 543.1,272.0 543.1,272.0 543.2,272.0 543.2,272.0 543.2,272.0 543.3,272.0 543.3,272.0 543.4,272.0 543.4,272.0 543.5,272.0 543.5,272.0 543.5,272.0 543.6,272.0 543.6,272.0 543.7,272.0 543.7,272.0 543.7,272.0 543.8,272.0 543.8,272.0 543.9,272.0 543.9,272.0 543.9,272.0 544.0,272.0 544.0,272.0 544.1,272.0 544.1,272.0 544.1,272.0 544.2,272.0 544.2,272.0 544.3,272.0 544.3,272.0 544.3,272.0 544.4,272.0 544.4,272.0 544.5,272.0 544.5,272.0 544.6,272.0 544.6,272.0 544.6,272.0 544.7,272.0 544.7,272.0 544.8,272.0 544.8,272.0 544.8,272.0 544.9,272.0 544.9,272.0 545.0,272.0 545.0,272.0"/>
<path d="M493.50 178.50H506.50" stroke="#0072BD" stroke-width="2.20" fill="none"/>
<text x="508.00" y="180.50" font-family="Liberation Serif, Times New Roman, serif" font-weight="bold" font-size="11.5" fill="#111" stroke="#111" stroke-width="0.00"><tspan font-style="italic">γ</tspan><tspan dy="2.8" font-size="7.4" font-style="normal" letter-spacing="0.45">CT,1</tspan></text>
<path d="M493.50 190.50H506.50" stroke="#D95319" stroke-width="2.20" fill="none"/>
<text x="508.00" y="192.50" font-family="Liberation Serif, Times New Roman, serif" font-weight="bold" font-size="11.5" fill="#111" stroke="#111" stroke-width="0.00"><tspan font-style="italic">γ</tspan><tspan dy="2.8" font-size="7.4" font-style="normal" letter-spacing="0.45">CT,2</tspan></text>
</svg>
</body></html>
